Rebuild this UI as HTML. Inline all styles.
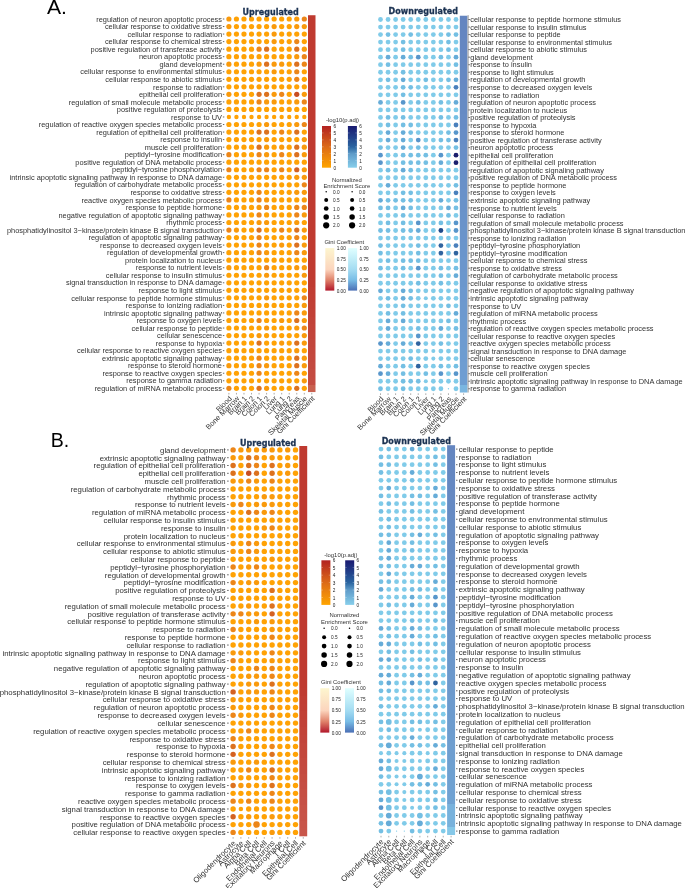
<!DOCTYPE html>
<html><head><meta charset="utf-8"><title>GO enrichment dot plots</title>
<style>
html,body{margin:0;padding:0;background:#fff;}
body{width:685px;height:888px;overflow:hidden;}
svg{display:block;}
</style></head><body>
<svg width="685" height="888" viewBox="0 0 685 888">
<rect width="685" height="888" fill="#fff"/>
<g font-family="Liberation Sans, Arial, Helvetica, sans-serif" fill="#323232">
<defs><linearGradient id="gbA_UP" x1="0" y1="0" x2="0" y2="1"><stop offset="0.00000" stop-color="#bf3a30"/><stop offset="0.02000" stop-color="#bf3a30"/><stop offset="0.02000" stop-color="#bf3a30"/><stop offset="0.04000" stop-color="#bf3a30"/><stop offset="0.04000" stop-color="#bf3a30"/><stop offset="0.06000" stop-color="#bf3a30"/><stop offset="0.06000" stop-color="#bf3a30"/><stop offset="0.08000" stop-color="#bf3a30"/><stop offset="0.08000" stop-color="#bf3a30"/><stop offset="0.10000" stop-color="#bf3a30"/><stop offset="0.10000" stop-color="#bf3a30"/><stop offset="0.12000" stop-color="#bf3a30"/><stop offset="0.12000" stop-color="#bf3a30"/><stop offset="0.14000" stop-color="#bf3a30"/><stop offset="0.14000" stop-color="#bf3a30"/><stop offset="0.16000" stop-color="#bf3a30"/><stop offset="0.16000" stop-color="#bf3a30"/><stop offset="0.18000" stop-color="#bf3a30"/><stop offset="0.18000" stop-color="#bf3a30"/><stop offset="0.20000" stop-color="#bf3a30"/><stop offset="0.20000" stop-color="#bf3a30"/><stop offset="0.22000" stop-color="#bf3a30"/><stop offset="0.22000" stop-color="#bf3a30"/><stop offset="0.24000" stop-color="#bf3a30"/><stop offset="0.24000" stop-color="#bf3a30"/><stop offset="0.26000" stop-color="#bf3a30"/><stop offset="0.26000" stop-color="#bf3a30"/><stop offset="0.28000" stop-color="#bf3a30"/><stop offset="0.28000" stop-color="#bf3a30"/><stop offset="0.30000" stop-color="#bf3a30"/><stop offset="0.30000" stop-color="#bf3a30"/><stop offset="0.32000" stop-color="#bf3a30"/><stop offset="0.32000" stop-color="#bf3a30"/><stop offset="0.34000" stop-color="#bf3a30"/><stop offset="0.34000" stop-color="#bf3a30"/><stop offset="0.36000" stop-color="#bf3a30"/><stop offset="0.36000" stop-color="#bf3a30"/><stop offset="0.38000" stop-color="#bf3a30"/><stop offset="0.38000" stop-color="#bf3a30"/><stop offset="0.40000" stop-color="#bf3a30"/><stop offset="0.40000" stop-color="#bf3a30"/><stop offset="0.42000" stop-color="#bf3a30"/><stop offset="0.42000" stop-color="#bf3a30"/><stop offset="0.44000" stop-color="#bf3a30"/><stop offset="0.44000" stop-color="#bf3a30"/><stop offset="0.46000" stop-color="#bf3a30"/><stop offset="0.46000" stop-color="#bf3a30"/><stop offset="0.48000" stop-color="#bf3a30"/><stop offset="0.48000" stop-color="#bf3a30"/><stop offset="0.50000" stop-color="#bf3a30"/><stop offset="0.50000" stop-color="#bf3a30"/><stop offset="0.52000" stop-color="#bf3a30"/><stop offset="0.52000" stop-color="#bf3a30"/><stop offset="0.54000" stop-color="#bf3a30"/><stop offset="0.54000" stop-color="#bf3a30"/><stop offset="0.56000" stop-color="#bf3a30"/><stop offset="0.56000" stop-color="#bf3a30"/><stop offset="0.58000" stop-color="#bf3a30"/><stop offset="0.58000" stop-color="#bf3a30"/><stop offset="0.60000" stop-color="#bf3a30"/><stop offset="0.60000" stop-color="#bf3a30"/><stop offset="0.62000" stop-color="#bf3a30"/><stop offset="0.62000" stop-color="#bf3a30"/><stop offset="0.64000" stop-color="#bf3a30"/><stop offset="0.64000" stop-color="#bf3a30"/><stop offset="0.66000" stop-color="#bf3a30"/><stop offset="0.66000" stop-color="#bf3a30"/><stop offset="0.68000" stop-color="#bf3a30"/><stop offset="0.68000" stop-color="#bf3a30"/><stop offset="0.70000" stop-color="#bf3a30"/><stop offset="0.70000" stop-color="#bf3b31"/><stop offset="0.72000" stop-color="#bf3b31"/><stop offset="0.72000" stop-color="#c03d33"/><stop offset="0.74000" stop-color="#c03d33"/><stop offset="0.74000" stop-color="#c03e34"/><stop offset="0.76000" stop-color="#c03e34"/><stop offset="0.76000" stop-color="#c03f35"/><stop offset="0.78000" stop-color="#c03f35"/><stop offset="0.78000" stop-color="#c14036"/><stop offset="0.80000" stop-color="#c14036"/><stop offset="0.80000" stop-color="#c14238"/><stop offset="0.82000" stop-color="#c14238"/><stop offset="0.82000" stop-color="#c24339"/><stop offset="0.84000" stop-color="#c24339"/><stop offset="0.84000" stop-color="#c2443a"/><stop offset="0.86000" stop-color="#c2443a"/><stop offset="0.86000" stop-color="#c2463c"/><stop offset="0.88000" stop-color="#c2463c"/><stop offset="0.88000" stop-color="#c3473d"/><stop offset="0.90000" stop-color="#c3473d"/><stop offset="0.90000" stop-color="#c3483e"/><stop offset="0.92000" stop-color="#c3483e"/><stop offset="0.92000" stop-color="#c3493f"/><stop offset="0.94000" stop-color="#c3493f"/><stop offset="0.94000" stop-color="#c44b41"/><stop offset="0.96000" stop-color="#c44b41"/><stop offset="0.96000" stop-color="#c44c42"/><stop offset="0.98000" stop-color="#c44c42"/><stop offset="0.98000" stop-color="#c9604f"/><stop offset="1.00000" stop-color="#c9604f"/></linearGradient></defs>
<rect x="308.00" y="15.23" width="7.50" height="376.85" fill="url(#gbA_UP)"/>
<circle cx="228.90" cy="19.00" r="2.60" fill="#f99a0c"/>
<circle cx="236.44" cy="19.00" r="2.60" fill="#ffa205"/>
<circle cx="243.98" cy="19.00" r="2.60" fill="#ffa205"/>
<circle cx="251.52" cy="19.00" r="2.60" fill="#ffa205"/>
<circle cx="259.06" cy="19.00" r="2.60" fill="#ffa205"/>
<circle cx="266.60" cy="19.00" r="2.60" fill="#ffa205"/>
<circle cx="274.14" cy="19.00" r="2.60" fill="#ffa205"/>
<circle cx="281.68" cy="19.00" r="2.60" fill="#ffa205"/>
<circle cx="289.22" cy="19.00" r="2.60" fill="#ffa205"/>
<circle cx="296.76" cy="19.00" r="2.60" fill="#f99a0c"/>
<circle cx="304.30" cy="19.00" r="2.60" fill="#ec8619"/>
<circle cx="228.90" cy="26.54" r="2.60" fill="#f99a0c"/>
<circle cx="236.44" cy="26.54" r="2.60" fill="#ffa205"/>
<circle cx="243.98" cy="26.54" r="2.60" fill="#ffa205"/>
<circle cx="251.52" cy="26.54" r="2.60" fill="#ffa205"/>
<circle cx="259.06" cy="26.54" r="2.60" fill="#ffa205"/>
<circle cx="266.60" cy="26.54" r="2.60" fill="#ffa205"/>
<circle cx="274.14" cy="26.54" r="2.60" fill="#f99a0c"/>
<circle cx="281.68" cy="26.54" r="2.60" fill="#ffa205"/>
<circle cx="289.22" cy="26.54" r="2.60" fill="#ffa205"/>
<circle cx="296.76" cy="26.54" r="2.60" fill="#f99a0c"/>
<circle cx="304.30" cy="26.54" r="2.60" fill="#f99a0c"/>
<circle cx="228.90" cy="34.07" r="2.60" fill="#ffa205"/>
<circle cx="236.44" cy="34.07" r="2.60" fill="#ffa205"/>
<circle cx="243.98" cy="34.07" r="2.60" fill="#ffa205"/>
<circle cx="251.52" cy="34.07" r="2.60" fill="#ffa205"/>
<circle cx="259.06" cy="34.07" r="2.60" fill="#ffa205"/>
<circle cx="266.60" cy="34.07" r="2.60" fill="#ffa205"/>
<circle cx="274.14" cy="34.07" r="2.60" fill="#f99a0c"/>
<circle cx="281.68" cy="34.07" r="2.60" fill="#ffa205"/>
<circle cx="289.22" cy="34.07" r="2.60" fill="#ffa205"/>
<circle cx="296.76" cy="34.07" r="2.60" fill="#ffa205"/>
<circle cx="304.30" cy="34.07" r="2.60" fill="#ffa205"/>
<circle cx="228.90" cy="41.61" r="2.60" fill="#ffa205"/>
<circle cx="236.44" cy="41.61" r="2.60" fill="#ffa205"/>
<circle cx="243.98" cy="41.61" r="2.60" fill="#ffa205"/>
<circle cx="251.52" cy="41.61" r="2.60" fill="#ffa205"/>
<circle cx="259.06" cy="41.61" r="2.60" fill="#ffa205"/>
<circle cx="266.60" cy="41.61" r="2.60" fill="#ffa205"/>
<circle cx="274.14" cy="41.61" r="2.60" fill="#f99a0c"/>
<circle cx="281.68" cy="41.61" r="2.60" fill="#ffa205"/>
<circle cx="289.22" cy="41.61" r="2.60" fill="#ffa205"/>
<circle cx="296.76" cy="41.61" r="2.60" fill="#ec8619"/>
<circle cx="304.30" cy="41.61" r="2.60" fill="#ffa205"/>
<circle cx="228.90" cy="49.15" r="2.60" fill="#ffa205"/>
<circle cx="236.44" cy="49.15" r="2.60" fill="#ffa205"/>
<circle cx="243.98" cy="49.15" r="2.60" fill="#ffa205"/>
<circle cx="251.52" cy="49.15" r="2.60" fill="#ffa205"/>
<circle cx="259.06" cy="49.15" r="2.60" fill="#ec8619"/>
<circle cx="266.60" cy="49.15" r="2.60" fill="#dc721f"/>
<circle cx="274.14" cy="49.15" r="2.60" fill="#ffa205"/>
<circle cx="281.68" cy="49.15" r="2.60" fill="#ffa205"/>
<circle cx="289.22" cy="49.15" r="2.60" fill="#ffa205"/>
<circle cx="296.76" cy="49.15" r="2.60" fill="#dc721f"/>
<circle cx="304.30" cy="49.15" r="2.60" fill="#f99a0c"/>
<circle cx="228.90" cy="56.69" r="2.60" fill="#ffa205"/>
<circle cx="236.44" cy="56.69" r="2.60" fill="#ffa205"/>
<circle cx="243.98" cy="56.69" r="2.60" fill="#ffa205"/>
<circle cx="251.52" cy="56.69" r="2.60" fill="#ffa205"/>
<circle cx="259.06" cy="56.69" r="2.60" fill="#ffa205"/>
<circle cx="266.60" cy="56.69" r="2.60" fill="#ffa205"/>
<circle cx="274.14" cy="56.69" r="2.60" fill="#ffa205"/>
<circle cx="281.68" cy="56.69" r="2.60" fill="#ffa205"/>
<circle cx="289.22" cy="56.69" r="2.60" fill="#ffa205"/>
<circle cx="296.76" cy="56.69" r="2.60" fill="#f99a0c"/>
<circle cx="304.30" cy="56.69" r="2.60" fill="#ec8619"/>
<circle cx="228.90" cy="64.22" r="2.60" fill="#f99a0c"/>
<circle cx="236.44" cy="64.22" r="2.60" fill="#ffa205"/>
<circle cx="243.98" cy="64.22" r="2.60" fill="#ffa205"/>
<circle cx="251.52" cy="64.22" r="2.60" fill="#ffa205"/>
<circle cx="259.06" cy="64.22" r="2.60" fill="#f99a0c"/>
<circle cx="266.60" cy="64.22" r="2.60" fill="#dc721f"/>
<circle cx="274.14" cy="64.22" r="2.60" fill="#f99a0c"/>
<circle cx="281.68" cy="64.22" r="2.60" fill="#f99a0c"/>
<circle cx="289.22" cy="64.22" r="2.60" fill="#ffa205"/>
<circle cx="296.76" cy="64.22" r="2.60" fill="#dc721f"/>
<circle cx="304.30" cy="64.22" r="2.60" fill="#ec8619"/>
<circle cx="228.90" cy="71.76" r="2.60" fill="#ffa205"/>
<circle cx="236.44" cy="71.76" r="2.60" fill="#ffa205"/>
<circle cx="243.98" cy="71.76" r="2.60" fill="#ffa205"/>
<circle cx="251.52" cy="71.76" r="2.60" fill="#ffa205"/>
<circle cx="259.06" cy="71.76" r="2.60" fill="#ffa205"/>
<circle cx="266.60" cy="71.76" r="2.60" fill="#ffa205"/>
<circle cx="274.14" cy="71.76" r="2.60" fill="#f99a0c"/>
<circle cx="281.68" cy="71.76" r="2.60" fill="#ffa205"/>
<circle cx="289.22" cy="71.76" r="2.60" fill="#ffa205"/>
<circle cx="296.76" cy="71.76" r="2.60" fill="#ec8619"/>
<circle cx="304.30" cy="71.76" r="2.60" fill="#ffa205"/>
<circle cx="228.90" cy="79.30" r="2.60" fill="#ffa205"/>
<circle cx="236.44" cy="79.30" r="2.60" fill="#ffa205"/>
<circle cx="243.98" cy="79.30" r="2.60" fill="#ffa205"/>
<circle cx="251.52" cy="79.30" r="2.60" fill="#ffa205"/>
<circle cx="259.06" cy="79.30" r="2.60" fill="#ffa205"/>
<circle cx="266.60" cy="79.30" r="2.60" fill="#ffa205"/>
<circle cx="274.14" cy="79.30" r="2.60" fill="#ffa205"/>
<circle cx="281.68" cy="79.30" r="2.60" fill="#ffa205"/>
<circle cx="289.22" cy="79.30" r="2.60" fill="#ffa205"/>
<circle cx="296.76" cy="79.30" r="2.60" fill="#ec8619"/>
<circle cx="304.30" cy="79.30" r="2.60" fill="#ffa205"/>
<circle cx="228.90" cy="86.83" r="2.60" fill="#ffa205"/>
<circle cx="236.44" cy="86.83" r="2.60" fill="#ffa205"/>
<circle cx="243.98" cy="86.83" r="2.60" fill="#ffa205"/>
<circle cx="251.52" cy="86.83" r="2.60" fill="#ffa205"/>
<circle cx="259.06" cy="86.83" r="2.60" fill="#ffa205"/>
<circle cx="266.60" cy="86.83" r="2.60" fill="#ffa205"/>
<circle cx="274.14" cy="86.83" r="2.60" fill="#ffa205"/>
<circle cx="281.68" cy="86.83" r="2.60" fill="#ffa205"/>
<circle cx="289.22" cy="86.83" r="2.60" fill="#ffa205"/>
<circle cx="296.76" cy="86.83" r="2.60" fill="#ffa205"/>
<circle cx="304.30" cy="86.83" r="2.60" fill="#ffa205"/>
<circle cx="228.90" cy="94.37" r="2.60" fill="#f99a0c"/>
<circle cx="236.44" cy="94.37" r="2.60" fill="#ffa205"/>
<circle cx="243.98" cy="94.37" r="2.60" fill="#ffa205"/>
<circle cx="251.52" cy="94.37" r="2.60" fill="#ffa205"/>
<circle cx="259.06" cy="94.37" r="2.60" fill="#dc721f"/>
<circle cx="266.60" cy="94.37" r="2.60" fill="#dc721f"/>
<circle cx="274.14" cy="94.37" r="2.60" fill="#f99a0c"/>
<circle cx="281.68" cy="94.37" r="2.60" fill="#ec8619"/>
<circle cx="289.22" cy="94.37" r="2.60" fill="#ffa205"/>
<circle cx="296.76" cy="94.37" r="2.60" fill="#c84e22"/>
<circle cx="304.30" cy="94.37" r="2.60" fill="#f99a0c"/>
<circle cx="228.90" cy="101.91" r="2.60" fill="#ffa205"/>
<circle cx="236.44" cy="101.91" r="2.60" fill="#ffa205"/>
<circle cx="243.98" cy="101.91" r="2.60" fill="#ffa205"/>
<circle cx="251.52" cy="101.91" r="2.60" fill="#ffa205"/>
<circle cx="259.06" cy="101.91" r="2.60" fill="#ec8619"/>
<circle cx="266.60" cy="101.91" r="2.60" fill="#f99a0c"/>
<circle cx="274.14" cy="101.91" r="2.60" fill="#f99a0c"/>
<circle cx="281.68" cy="101.91" r="2.60" fill="#ffa205"/>
<circle cx="289.22" cy="101.91" r="2.60" fill="#ffa205"/>
<circle cx="296.76" cy="101.91" r="2.60" fill="#f99a0c"/>
<circle cx="304.30" cy="101.91" r="2.60" fill="#ec8619"/>
<circle cx="228.90" cy="109.44" r="2.60" fill="#ffa205"/>
<circle cx="236.44" cy="109.44" r="2.60" fill="#ffa205"/>
<circle cx="243.98" cy="109.44" r="2.60" fill="#ffa205"/>
<circle cx="251.52" cy="109.44" r="2.60" fill="#ffa205"/>
<circle cx="259.06" cy="109.44" r="2.60" fill="#ffa205"/>
<circle cx="266.60" cy="109.44" r="2.60" fill="#ffa205"/>
<circle cx="274.14" cy="109.44" r="2.60" fill="#ffa205"/>
<circle cx="281.68" cy="109.44" r="2.60" fill="#ffa205"/>
<circle cx="289.22" cy="109.44" r="2.60" fill="#ffa205"/>
<circle cx="296.76" cy="109.44" r="2.60" fill="#ffa205"/>
<circle cx="304.30" cy="109.44" r="2.60" fill="#ffa205"/>
<circle cx="228.90" cy="116.98" r="2.18" fill="#ffa205"/>
<circle cx="236.44" cy="116.98" r="2.18" fill="#ffa205"/>
<circle cx="243.98" cy="116.98" r="2.18" fill="#ffa205"/>
<circle cx="251.52" cy="116.98" r="2.18" fill="#ffa205"/>
<circle cx="259.06" cy="116.98" r="2.18" fill="#ffa205"/>
<circle cx="266.60" cy="116.98" r="2.18" fill="#ffa205"/>
<circle cx="274.14" cy="116.98" r="2.18" fill="#ffa205"/>
<circle cx="281.68" cy="116.98" r="2.18" fill="#ffa205"/>
<circle cx="289.22" cy="116.98" r="2.18" fill="#ffa205"/>
<circle cx="296.76" cy="116.98" r="2.18" fill="#ffa205"/>
<circle cx="304.30" cy="116.98" r="2.18" fill="#ffa205"/>
<circle cx="228.90" cy="124.52" r="2.60" fill="#ffa205"/>
<circle cx="236.44" cy="124.52" r="2.60" fill="#ffa205"/>
<circle cx="243.98" cy="124.52" r="2.60" fill="#ffa205"/>
<circle cx="251.52" cy="124.52" r="2.60" fill="#ffa205"/>
<circle cx="259.06" cy="124.52" r="2.60" fill="#ffa205"/>
<circle cx="266.60" cy="124.52" r="2.60" fill="#f99a0c"/>
<circle cx="274.14" cy="124.52" r="2.60" fill="#ffa205"/>
<circle cx="281.68" cy="124.52" r="2.60" fill="#ffa205"/>
<circle cx="289.22" cy="124.52" r="2.60" fill="#ffa205"/>
<circle cx="296.76" cy="124.52" r="2.60" fill="#f99a0c"/>
<circle cx="304.30" cy="124.52" r="2.60" fill="#ec8619"/>
<circle cx="228.90" cy="132.06" r="2.60" fill="#ffa205"/>
<circle cx="236.44" cy="132.06" r="2.60" fill="#ffa205"/>
<circle cx="243.98" cy="132.06" r="2.60" fill="#ffa205"/>
<circle cx="251.52" cy="132.06" r="2.60" fill="#ffa205"/>
<circle cx="259.06" cy="132.06" r="2.60" fill="#dc721f"/>
<circle cx="266.60" cy="132.06" r="2.60" fill="#dc721f"/>
<circle cx="274.14" cy="132.06" r="2.60" fill="#ffa205"/>
<circle cx="281.68" cy="132.06" r="2.60" fill="#ec8619"/>
<circle cx="289.22" cy="132.06" r="2.60" fill="#ffa205"/>
<circle cx="296.76" cy="132.06" r="2.60" fill="#dc721f"/>
<circle cx="304.30" cy="132.06" r="2.60" fill="#ffa205"/>
<circle cx="228.90" cy="139.59" r="2.60" fill="#ffa205"/>
<circle cx="236.44" cy="139.59" r="2.60" fill="#ffa205"/>
<circle cx="243.98" cy="139.59" r="2.60" fill="#ffa205"/>
<circle cx="251.52" cy="139.59" r="2.60" fill="#ffa205"/>
<circle cx="259.06" cy="139.59" r="2.60" fill="#ffa205"/>
<circle cx="266.60" cy="139.59" r="2.60" fill="#f99a0c"/>
<circle cx="274.14" cy="139.59" r="2.60" fill="#ffa205"/>
<circle cx="281.68" cy="139.59" r="2.60" fill="#ffa205"/>
<circle cx="289.22" cy="139.59" r="2.60" fill="#ffa205"/>
<circle cx="296.76" cy="139.59" r="2.60" fill="#ffa205"/>
<circle cx="304.30" cy="139.59" r="2.60" fill="#f99a0c"/>
<circle cx="228.90" cy="147.13" r="2.60" fill="#ffa205"/>
<circle cx="236.44" cy="147.13" r="2.60" fill="#ffa205"/>
<circle cx="243.98" cy="147.13" r="2.60" fill="#ffa205"/>
<circle cx="251.52" cy="147.13" r="2.60" fill="#ffa205"/>
<circle cx="259.06" cy="147.13" r="2.60" fill="#dc721f"/>
<circle cx="266.60" cy="147.13" r="2.60" fill="#f99a0c"/>
<circle cx="274.14" cy="147.13" r="2.60" fill="#ffa205"/>
<circle cx="281.68" cy="147.13" r="2.60" fill="#f99a0c"/>
<circle cx="289.22" cy="147.13" r="2.60" fill="#ffa205"/>
<circle cx="296.76" cy="147.13" r="2.60" fill="#dc721f"/>
<circle cx="304.30" cy="147.13" r="2.60" fill="#f99a0c"/>
<circle cx="228.90" cy="154.67" r="2.60" fill="#ec8619"/>
<circle cx="236.44" cy="154.67" r="2.60" fill="#ffa205"/>
<circle cx="243.98" cy="154.67" r="2.60" fill="#ffa205"/>
<circle cx="251.52" cy="154.67" r="2.60" fill="#ffa205"/>
<circle cx="259.06" cy="154.67" r="2.60" fill="#ec8619"/>
<circle cx="266.60" cy="154.67" r="2.60" fill="#f99a0c"/>
<circle cx="274.14" cy="154.67" r="2.60" fill="#ffa205"/>
<circle cx="281.68" cy="154.67" r="2.60" fill="#ec8619"/>
<circle cx="289.22" cy="154.67" r="2.60" fill="#ffa205"/>
<circle cx="296.76" cy="154.67" r="2.60" fill="#dc721f"/>
<circle cx="304.30" cy="154.67" r="2.60" fill="#f99a0c"/>
<circle cx="228.90" cy="162.20" r="2.60" fill="#ffa205"/>
<circle cx="236.44" cy="162.20" r="2.60" fill="#ffa205"/>
<circle cx="243.98" cy="162.20" r="2.60" fill="#ffa205"/>
<circle cx="251.52" cy="162.20" r="2.60" fill="#ffa205"/>
<circle cx="259.06" cy="162.20" r="2.60" fill="#ffa205"/>
<circle cx="266.60" cy="162.20" r="2.60" fill="#ffa205"/>
<circle cx="274.14" cy="162.20" r="2.60" fill="#ffa205"/>
<circle cx="281.68" cy="162.20" r="2.60" fill="#ffa205"/>
<circle cx="289.22" cy="162.20" r="2.60" fill="#ffa205"/>
<circle cx="296.76" cy="162.20" r="2.60" fill="#ffa205"/>
<circle cx="304.30" cy="162.20" r="2.60" fill="#ffa205"/>
<circle cx="228.90" cy="169.74" r="2.60" fill="#ec8619"/>
<circle cx="236.44" cy="169.74" r="2.60" fill="#ffa205"/>
<circle cx="243.98" cy="169.74" r="2.60" fill="#ffa205"/>
<circle cx="251.52" cy="169.74" r="2.60" fill="#ffa205"/>
<circle cx="259.06" cy="169.74" r="2.60" fill="#ec8619"/>
<circle cx="266.60" cy="169.74" r="2.60" fill="#ec8619"/>
<circle cx="274.14" cy="169.74" r="2.60" fill="#ffa205"/>
<circle cx="281.68" cy="169.74" r="2.60" fill="#ec8619"/>
<circle cx="289.22" cy="169.74" r="2.60" fill="#ffa205"/>
<circle cx="296.76" cy="169.74" r="2.60" fill="#d46222"/>
<circle cx="304.30" cy="169.74" r="2.60" fill="#f99a0c"/>
<circle cx="228.90" cy="177.28" r="2.60" fill="#ffa205"/>
<circle cx="236.44" cy="177.28" r="2.60" fill="#ffa205"/>
<circle cx="243.98" cy="177.28" r="2.60" fill="#ffa205"/>
<circle cx="251.52" cy="177.28" r="2.60" fill="#ffa205"/>
<circle cx="259.06" cy="177.28" r="2.60" fill="#ffa205"/>
<circle cx="266.60" cy="177.28" r="2.60" fill="#ffa205"/>
<circle cx="274.14" cy="177.28" r="2.60" fill="#ffa205"/>
<circle cx="281.68" cy="177.28" r="2.60" fill="#ffa205"/>
<circle cx="289.22" cy="177.28" r="2.60" fill="#ffa205"/>
<circle cx="296.76" cy="177.28" r="2.60" fill="#f99a0c"/>
<circle cx="304.30" cy="177.28" r="2.60" fill="#f99a0c"/>
<circle cx="228.90" cy="184.81" r="2.60" fill="#ffa205"/>
<circle cx="236.44" cy="184.81" r="2.60" fill="#ffa205"/>
<circle cx="243.98" cy="184.81" r="2.60" fill="#ffa205"/>
<circle cx="251.52" cy="184.81" r="2.60" fill="#ffa205"/>
<circle cx="259.06" cy="184.81" r="2.60" fill="#ffa205"/>
<circle cx="266.60" cy="184.81" r="2.60" fill="#ffa205"/>
<circle cx="274.14" cy="184.81" r="2.60" fill="#ffa205"/>
<circle cx="281.68" cy="184.81" r="2.60" fill="#ffa205"/>
<circle cx="289.22" cy="184.81" r="2.60" fill="#ffa205"/>
<circle cx="296.76" cy="184.81" r="2.60" fill="#ffa205"/>
<circle cx="304.30" cy="184.81" r="2.60" fill="#ec8619"/>
<circle cx="228.90" cy="192.35" r="2.60" fill="#ffa205"/>
<circle cx="236.44" cy="192.35" r="2.60" fill="#ffa205"/>
<circle cx="243.98" cy="192.35" r="2.60" fill="#ffa205"/>
<circle cx="251.52" cy="192.35" r="2.60" fill="#ffa205"/>
<circle cx="259.06" cy="192.35" r="2.60" fill="#ec8619"/>
<circle cx="266.60" cy="192.35" r="2.60" fill="#ffa205"/>
<circle cx="274.14" cy="192.35" r="2.60" fill="#ffa205"/>
<circle cx="281.68" cy="192.35" r="2.60" fill="#ffa205"/>
<circle cx="289.22" cy="192.35" r="2.60" fill="#ffa205"/>
<circle cx="296.76" cy="192.35" r="2.60" fill="#f99a0c"/>
<circle cx="304.30" cy="192.35" r="2.60" fill="#f99a0c"/>
<circle cx="228.90" cy="199.89" r="2.60" fill="#ec8619"/>
<circle cx="236.44" cy="199.89" r="2.60" fill="#ffa205"/>
<circle cx="243.98" cy="199.89" r="2.60" fill="#ffa205"/>
<circle cx="251.52" cy="199.89" r="2.60" fill="#ffa205"/>
<circle cx="259.06" cy="199.89" r="2.60" fill="#ec8619"/>
<circle cx="266.60" cy="199.89" r="2.60" fill="#f99a0c"/>
<circle cx="274.14" cy="199.89" r="2.60" fill="#ffa205"/>
<circle cx="281.68" cy="199.89" r="2.60" fill="#ffa205"/>
<circle cx="289.22" cy="199.89" r="2.60" fill="#ffa205"/>
<circle cx="296.76" cy="199.89" r="2.60" fill="#ffa205"/>
<circle cx="304.30" cy="199.89" r="2.60" fill="#f99a0c"/>
<circle cx="228.90" cy="207.43" r="2.60" fill="#ffa205"/>
<circle cx="236.44" cy="207.43" r="2.60" fill="#ffa205"/>
<circle cx="243.98" cy="207.43" r="2.60" fill="#ffa205"/>
<circle cx="251.52" cy="207.43" r="2.60" fill="#ffa205"/>
<circle cx="259.06" cy="207.43" r="2.60" fill="#f99a0c"/>
<circle cx="266.60" cy="207.43" r="2.60" fill="#ec8619"/>
<circle cx="274.14" cy="207.43" r="2.60" fill="#ffa205"/>
<circle cx="281.68" cy="207.43" r="2.60" fill="#ffa205"/>
<circle cx="289.22" cy="207.43" r="2.60" fill="#ffa205"/>
<circle cx="296.76" cy="207.43" r="2.60" fill="#ec8619"/>
<circle cx="304.30" cy="207.43" r="2.60" fill="#ec8619"/>
<circle cx="228.90" cy="214.96" r="2.60" fill="#ffa205"/>
<circle cx="236.44" cy="214.96" r="2.60" fill="#ffa205"/>
<circle cx="243.98" cy="214.96" r="2.60" fill="#ffa205"/>
<circle cx="251.52" cy="214.96" r="2.60" fill="#ffa205"/>
<circle cx="259.06" cy="214.96" r="2.60" fill="#ec8619"/>
<circle cx="266.60" cy="214.96" r="2.60" fill="#ffa205"/>
<circle cx="274.14" cy="214.96" r="2.60" fill="#ffa205"/>
<circle cx="281.68" cy="214.96" r="2.60" fill="#ffa205"/>
<circle cx="289.22" cy="214.96" r="2.60" fill="#ffa205"/>
<circle cx="296.76" cy="214.96" r="2.60" fill="#ec8619"/>
<circle cx="304.30" cy="214.96" r="2.60" fill="#f99a0c"/>
<circle cx="228.90" cy="222.50" r="2.60" fill="#ffa205"/>
<circle cx="236.44" cy="222.50" r="2.60" fill="#ffa205"/>
<circle cx="243.98" cy="222.50" r="2.60" fill="#ffa205"/>
<circle cx="251.52" cy="222.50" r="2.60" fill="#ffa205"/>
<circle cx="259.06" cy="222.50" r="2.60" fill="#f99a0c"/>
<circle cx="266.60" cy="222.50" r="2.60" fill="#f99a0c"/>
<circle cx="274.14" cy="222.50" r="2.60" fill="#ffa205"/>
<circle cx="281.68" cy="222.50" r="2.60" fill="#ffa205"/>
<circle cx="289.22" cy="222.50" r="2.60" fill="#ffa205"/>
<circle cx="296.76" cy="222.50" r="2.60" fill="#f99a0c"/>
<circle cx="304.30" cy="222.50" r="2.60" fill="#ffa205"/>
<circle cx="228.90" cy="230.04" r="2.60" fill="#ec8619"/>
<circle cx="236.44" cy="230.04" r="2.60" fill="#f99a0c"/>
<circle cx="243.98" cy="230.04" r="2.60" fill="#ffa205"/>
<circle cx="251.52" cy="230.04" r="2.60" fill="#ffa205"/>
<circle cx="259.06" cy="230.04" r="2.60" fill="#dc721f"/>
<circle cx="266.60" cy="230.04" r="2.60" fill="#ffa205"/>
<circle cx="274.14" cy="230.04" r="2.60" fill="#ffa205"/>
<circle cx="281.68" cy="230.04" r="2.60" fill="#ec8619"/>
<circle cx="289.22" cy="230.04" r="2.60" fill="#ffa205"/>
<circle cx="296.76" cy="230.04" r="2.60" fill="#dc721f"/>
<circle cx="304.30" cy="230.04" r="2.60" fill="#f99a0c"/>
<circle cx="228.90" cy="237.57" r="2.60" fill="#ffa205"/>
<circle cx="236.44" cy="237.57" r="2.60" fill="#ffa205"/>
<circle cx="243.98" cy="237.57" r="2.60" fill="#ffa205"/>
<circle cx="251.52" cy="237.57" r="2.60" fill="#ffa205"/>
<circle cx="259.06" cy="237.57" r="2.60" fill="#ec8619"/>
<circle cx="266.60" cy="237.57" r="2.60" fill="#ffa205"/>
<circle cx="274.14" cy="237.57" r="2.60" fill="#ffa205"/>
<circle cx="281.68" cy="237.57" r="2.60" fill="#ffa205"/>
<circle cx="289.22" cy="237.57" r="2.60" fill="#ffa205"/>
<circle cx="296.76" cy="237.57" r="2.60" fill="#ec8619"/>
<circle cx="304.30" cy="237.57" r="2.60" fill="#ffa205"/>
<circle cx="228.90" cy="245.11" r="2.60" fill="#ffa205"/>
<circle cx="236.44" cy="245.11" r="2.60" fill="#ffa205"/>
<circle cx="243.98" cy="245.11" r="2.60" fill="#ffa205"/>
<circle cx="251.52" cy="245.11" r="2.60" fill="#ffa205"/>
<circle cx="259.06" cy="245.11" r="2.60" fill="#ec8619"/>
<circle cx="266.60" cy="245.11" r="2.60" fill="#ffa205"/>
<circle cx="274.14" cy="245.11" r="2.60" fill="#ffa205"/>
<circle cx="281.68" cy="245.11" r="2.60" fill="#f99a0c"/>
<circle cx="289.22" cy="245.11" r="2.60" fill="#ffa205"/>
<circle cx="296.76" cy="245.11" r="2.60" fill="#dc721f"/>
<circle cx="304.30" cy="245.11" r="2.60" fill="#f99a0c"/>
<circle cx="228.90" cy="252.65" r="2.60" fill="#ffa205"/>
<circle cx="236.44" cy="252.65" r="2.60" fill="#ffa205"/>
<circle cx="243.98" cy="252.65" r="2.60" fill="#ffa205"/>
<circle cx="251.52" cy="252.65" r="2.60" fill="#ffa205"/>
<circle cx="259.06" cy="252.65" r="2.60" fill="#ec8619"/>
<circle cx="266.60" cy="252.65" r="2.60" fill="#f99a0c"/>
<circle cx="274.14" cy="252.65" r="2.60" fill="#ffa205"/>
<circle cx="281.68" cy="252.65" r="2.60" fill="#ffa205"/>
<circle cx="289.22" cy="252.65" r="2.60" fill="#ffa205"/>
<circle cx="296.76" cy="252.65" r="2.60" fill="#ec8619"/>
<circle cx="304.30" cy="252.65" r="2.60" fill="#f99a0c"/>
<circle cx="228.90" cy="260.18" r="2.60" fill="#ffa205"/>
<circle cx="236.44" cy="260.18" r="2.60" fill="#ffa205"/>
<circle cx="243.98" cy="260.18" r="2.60" fill="#ffa205"/>
<circle cx="251.52" cy="260.18" r="2.60" fill="#ffa205"/>
<circle cx="259.06" cy="260.18" r="2.60" fill="#ffa205"/>
<circle cx="266.60" cy="260.18" r="2.60" fill="#ffa205"/>
<circle cx="274.14" cy="260.18" r="2.60" fill="#ffa205"/>
<circle cx="281.68" cy="260.18" r="2.60" fill="#ffa205"/>
<circle cx="289.22" cy="260.18" r="2.60" fill="#ffa205"/>
<circle cx="296.76" cy="260.18" r="2.60" fill="#ffa205"/>
<circle cx="304.30" cy="260.18" r="2.60" fill="#ffa205"/>
<circle cx="228.90" cy="267.72" r="2.60" fill="#f99a0c"/>
<circle cx="236.44" cy="267.72" r="2.60" fill="#ffa205"/>
<circle cx="243.98" cy="267.72" r="2.60" fill="#ffa205"/>
<circle cx="251.52" cy="267.72" r="2.60" fill="#ffa205"/>
<circle cx="259.06" cy="267.72" r="2.60" fill="#ffa205"/>
<circle cx="266.60" cy="267.72" r="2.60" fill="#ec8619"/>
<circle cx="274.14" cy="267.72" r="2.60" fill="#ffa205"/>
<circle cx="281.68" cy="267.72" r="2.60" fill="#ffa205"/>
<circle cx="289.22" cy="267.72" r="2.60" fill="#ffa205"/>
<circle cx="296.76" cy="267.72" r="2.60" fill="#f99a0c"/>
<circle cx="304.30" cy="267.72" r="2.60" fill="#f99a0c"/>
<circle cx="228.90" cy="275.26" r="2.60" fill="#ffa205"/>
<circle cx="236.44" cy="275.26" r="2.60" fill="#ffa205"/>
<circle cx="243.98" cy="275.26" r="2.60" fill="#ffa205"/>
<circle cx="251.52" cy="275.26" r="2.60" fill="#ffa205"/>
<circle cx="259.06" cy="275.26" r="2.60" fill="#ffa205"/>
<circle cx="266.60" cy="275.26" r="2.60" fill="#f99a0c"/>
<circle cx="274.14" cy="275.26" r="2.60" fill="#ffa205"/>
<circle cx="281.68" cy="275.26" r="2.60" fill="#ffa205"/>
<circle cx="289.22" cy="275.26" r="2.60" fill="#ffa205"/>
<circle cx="296.76" cy="275.26" r="2.60" fill="#ffa205"/>
<circle cx="304.30" cy="275.26" r="2.60" fill="#f99a0c"/>
<circle cx="228.90" cy="282.80" r="2.60" fill="#ffa205"/>
<circle cx="236.44" cy="282.80" r="2.60" fill="#ffa205"/>
<circle cx="243.98" cy="282.80" r="2.60" fill="#ffa205"/>
<circle cx="251.52" cy="282.80" r="2.60" fill="#ffa205"/>
<circle cx="259.06" cy="282.80" r="2.60" fill="#ffa205"/>
<circle cx="266.60" cy="282.80" r="2.60" fill="#ffa205"/>
<circle cx="274.14" cy="282.80" r="2.60" fill="#ffa205"/>
<circle cx="281.68" cy="282.80" r="2.60" fill="#ffa205"/>
<circle cx="289.22" cy="282.80" r="2.60" fill="#ffa205"/>
<circle cx="296.76" cy="282.80" r="2.60" fill="#ffa205"/>
<circle cx="304.30" cy="282.80" r="2.60" fill="#ffa205"/>
<circle cx="228.90" cy="290.33" r="2.60" fill="#ffa205"/>
<circle cx="236.44" cy="290.33" r="2.60" fill="#ffa205"/>
<circle cx="243.98" cy="290.33" r="2.60" fill="#ffa205"/>
<circle cx="251.52" cy="290.33" r="2.60" fill="#ffa205"/>
<circle cx="259.06" cy="290.33" r="2.60" fill="#ffa205"/>
<circle cx="266.60" cy="290.33" r="2.60" fill="#ffa205"/>
<circle cx="274.14" cy="290.33" r="2.60" fill="#ffa205"/>
<circle cx="281.68" cy="290.33" r="2.60" fill="#ffa205"/>
<circle cx="289.22" cy="290.33" r="2.60" fill="#ffa205"/>
<circle cx="296.76" cy="290.33" r="2.60" fill="#ffa205"/>
<circle cx="304.30" cy="290.33" r="2.60" fill="#ffa205"/>
<circle cx="228.90" cy="297.87" r="2.60" fill="#ffa205"/>
<circle cx="236.44" cy="297.87" r="2.60" fill="#ffa205"/>
<circle cx="243.98" cy="297.87" r="2.60" fill="#ffa205"/>
<circle cx="251.52" cy="297.87" r="2.60" fill="#ffa205"/>
<circle cx="259.06" cy="297.87" r="2.60" fill="#ffa205"/>
<circle cx="266.60" cy="297.87" r="2.60" fill="#f99a0c"/>
<circle cx="274.14" cy="297.87" r="2.60" fill="#ffa205"/>
<circle cx="281.68" cy="297.87" r="2.60" fill="#ffa205"/>
<circle cx="289.22" cy="297.87" r="2.60" fill="#ffa205"/>
<circle cx="296.76" cy="297.87" r="2.60" fill="#ffa205"/>
<circle cx="304.30" cy="297.87" r="2.60" fill="#ec8619"/>
<circle cx="228.90" cy="305.41" r="2.60" fill="#ffa205"/>
<circle cx="236.44" cy="305.41" r="2.60" fill="#ffa205"/>
<circle cx="243.98" cy="305.41" r="2.60" fill="#ffa205"/>
<circle cx="251.52" cy="305.41" r="2.60" fill="#ffa205"/>
<circle cx="259.06" cy="305.41" r="2.60" fill="#ffa205"/>
<circle cx="266.60" cy="305.41" r="2.60" fill="#ffa205"/>
<circle cx="274.14" cy="305.41" r="2.60" fill="#ffa205"/>
<circle cx="281.68" cy="305.41" r="2.60" fill="#ffa205"/>
<circle cx="289.22" cy="305.41" r="2.60" fill="#ffa205"/>
<circle cx="296.76" cy="305.41" r="2.60" fill="#ffa205"/>
<circle cx="304.30" cy="305.41" r="2.60" fill="#f99a0c"/>
<circle cx="228.90" cy="312.94" r="2.60" fill="#ffa205"/>
<circle cx="236.44" cy="312.94" r="2.60" fill="#ffa205"/>
<circle cx="243.98" cy="312.94" r="2.60" fill="#ffa205"/>
<circle cx="251.52" cy="312.94" r="2.60" fill="#ffa205"/>
<circle cx="259.06" cy="312.94" r="2.60" fill="#ffa205"/>
<circle cx="266.60" cy="312.94" r="2.60" fill="#ffa205"/>
<circle cx="274.14" cy="312.94" r="2.60" fill="#ffa205"/>
<circle cx="281.68" cy="312.94" r="2.60" fill="#ffa205"/>
<circle cx="289.22" cy="312.94" r="2.60" fill="#ffa205"/>
<circle cx="296.76" cy="312.94" r="2.60" fill="#ec8619"/>
<circle cx="304.30" cy="312.94" r="2.60" fill="#f99a0c"/>
<circle cx="228.90" cy="320.48" r="2.60" fill="#ffa205"/>
<circle cx="236.44" cy="320.48" r="2.60" fill="#ffa205"/>
<circle cx="243.98" cy="320.48" r="2.60" fill="#ffa205"/>
<circle cx="251.52" cy="320.48" r="2.60" fill="#ffa205"/>
<circle cx="259.06" cy="320.48" r="2.60" fill="#ec8619"/>
<circle cx="266.60" cy="320.48" r="2.60" fill="#ffa205"/>
<circle cx="274.14" cy="320.48" r="2.60" fill="#ffa205"/>
<circle cx="281.68" cy="320.48" r="2.60" fill="#f99a0c"/>
<circle cx="289.22" cy="320.48" r="2.60" fill="#ffa205"/>
<circle cx="296.76" cy="320.48" r="2.60" fill="#dc721f"/>
<circle cx="304.30" cy="320.48" r="2.60" fill="#f99a0c"/>
<circle cx="228.90" cy="328.02" r="2.60" fill="#ffa205"/>
<circle cx="236.44" cy="328.02" r="2.60" fill="#ffa205"/>
<circle cx="243.98" cy="328.02" r="2.60" fill="#ffa205"/>
<circle cx="251.52" cy="328.02" r="2.60" fill="#ffa205"/>
<circle cx="259.06" cy="328.02" r="2.60" fill="#ffa205"/>
<circle cx="266.60" cy="328.02" r="2.60" fill="#f99a0c"/>
<circle cx="274.14" cy="328.02" r="2.60" fill="#ffa205"/>
<circle cx="281.68" cy="328.02" r="2.60" fill="#ffa205"/>
<circle cx="289.22" cy="328.02" r="2.60" fill="#ffa205"/>
<circle cx="296.76" cy="328.02" r="2.60" fill="#f99a0c"/>
<circle cx="304.30" cy="328.02" r="2.60" fill="#ec8619"/>
<circle cx="228.90" cy="335.55" r="2.60" fill="#ffa205"/>
<circle cx="236.44" cy="335.55" r="2.60" fill="#ffa205"/>
<circle cx="243.98" cy="335.55" r="2.60" fill="#ffa205"/>
<circle cx="251.52" cy="335.55" r="2.60" fill="#ffa205"/>
<circle cx="259.06" cy="335.55" r="2.60" fill="#f99a0c"/>
<circle cx="266.60" cy="335.55" r="2.60" fill="#ffa205"/>
<circle cx="274.14" cy="335.55" r="2.60" fill="#ffa205"/>
<circle cx="281.68" cy="335.55" r="2.60" fill="#ffa205"/>
<circle cx="289.22" cy="335.55" r="2.60" fill="#ffa205"/>
<circle cx="296.76" cy="335.55" r="2.60" fill="#ffa205"/>
<circle cx="304.30" cy="335.55" r="2.60" fill="#f99a0c"/>
<circle cx="228.90" cy="343.09" r="2.60" fill="#ffa205"/>
<circle cx="236.44" cy="343.09" r="2.60" fill="#ffa205"/>
<circle cx="243.98" cy="343.09" r="2.60" fill="#ffa205"/>
<circle cx="251.52" cy="343.09" r="2.60" fill="#ffa205"/>
<circle cx="259.06" cy="343.09" r="2.60" fill="#dc721f"/>
<circle cx="266.60" cy="343.09" r="2.60" fill="#ffa205"/>
<circle cx="274.14" cy="343.09" r="2.60" fill="#ffa205"/>
<circle cx="281.68" cy="343.09" r="2.60" fill="#f99a0c"/>
<circle cx="289.22" cy="343.09" r="2.60" fill="#ffa205"/>
<circle cx="296.76" cy="343.09" r="2.60" fill="#dc721f"/>
<circle cx="304.30" cy="343.09" r="2.60" fill="#f99a0c"/>
<circle cx="228.90" cy="350.63" r="2.60" fill="#ffa205"/>
<circle cx="236.44" cy="350.63" r="2.60" fill="#ffa205"/>
<circle cx="243.98" cy="350.63" r="2.60" fill="#ffa205"/>
<circle cx="251.52" cy="350.63" r="2.60" fill="#ffa205"/>
<circle cx="259.06" cy="350.63" r="2.60" fill="#ffa205"/>
<circle cx="266.60" cy="350.63" r="2.60" fill="#ffa205"/>
<circle cx="274.14" cy="350.63" r="2.60" fill="#ffa205"/>
<circle cx="281.68" cy="350.63" r="2.60" fill="#ffa205"/>
<circle cx="289.22" cy="350.63" r="2.60" fill="#ffa205"/>
<circle cx="296.76" cy="350.63" r="2.60" fill="#f99a0c"/>
<circle cx="304.30" cy="350.63" r="2.60" fill="#ffa205"/>
<circle cx="228.90" cy="358.17" r="2.60" fill="#ffa205"/>
<circle cx="236.44" cy="358.17" r="2.60" fill="#ffa205"/>
<circle cx="243.98" cy="358.17" r="2.60" fill="#ffa205"/>
<circle cx="251.52" cy="358.17" r="2.60" fill="#ffa205"/>
<circle cx="259.06" cy="358.17" r="2.60" fill="#ec8619"/>
<circle cx="266.60" cy="358.17" r="2.60" fill="#ffa205"/>
<circle cx="274.14" cy="358.17" r="2.60" fill="#ffa205"/>
<circle cx="281.68" cy="358.17" r="2.60" fill="#ffa205"/>
<circle cx="289.22" cy="358.17" r="2.60" fill="#ffa205"/>
<circle cx="296.76" cy="358.17" r="2.60" fill="#dc721f"/>
<circle cx="304.30" cy="358.17" r="2.60" fill="#f99a0c"/>
<circle cx="228.90" cy="365.70" r="2.60" fill="#f99a0c"/>
<circle cx="236.44" cy="365.70" r="2.60" fill="#ffa205"/>
<circle cx="243.98" cy="365.70" r="2.60" fill="#ffa205"/>
<circle cx="251.52" cy="365.70" r="2.60" fill="#ffa205"/>
<circle cx="259.06" cy="365.70" r="2.60" fill="#ec8619"/>
<circle cx="266.60" cy="365.70" r="2.60" fill="#f99a0c"/>
<circle cx="274.14" cy="365.70" r="2.60" fill="#ffa205"/>
<circle cx="281.68" cy="365.70" r="2.60" fill="#ffa205"/>
<circle cx="289.22" cy="365.70" r="2.60" fill="#ffa205"/>
<circle cx="296.76" cy="365.70" r="2.60" fill="#dc721f"/>
<circle cx="304.30" cy="365.70" r="2.60" fill="#f99a0c"/>
<circle cx="228.90" cy="373.24" r="2.60" fill="#ffa205"/>
<circle cx="236.44" cy="373.24" r="2.60" fill="#ffa205"/>
<circle cx="243.98" cy="373.24" r="2.60" fill="#ffa205"/>
<circle cx="251.52" cy="373.24" r="2.60" fill="#ffa205"/>
<circle cx="259.06" cy="373.24" r="2.60" fill="#ec8619"/>
<circle cx="266.60" cy="373.24" r="2.60" fill="#ffa205"/>
<circle cx="274.14" cy="373.24" r="2.60" fill="#ffa205"/>
<circle cx="281.68" cy="373.24" r="2.60" fill="#ffa205"/>
<circle cx="289.22" cy="373.24" r="2.60" fill="#ffa205"/>
<circle cx="296.76" cy="373.24" r="2.60" fill="#ec8619"/>
<circle cx="304.30" cy="373.24" r="2.60" fill="#ffa205"/>
<circle cx="228.90" cy="380.78" r="2.60" fill="#ffa205"/>
<circle cx="236.44" cy="380.78" r="2.60" fill="#ffa205"/>
<circle cx="243.98" cy="380.78" r="2.60" fill="#ffa205"/>
<circle cx="251.52" cy="380.78" r="2.60" fill="#ffa205"/>
<circle cx="259.06" cy="380.78" r="2.18" fill="#ffa205"/>
<circle cx="266.60" cy="380.78" r="2.60" fill="#ffa205"/>
<circle cx="274.14" cy="380.78" r="2.60" fill="#ffa205"/>
<circle cx="281.68" cy="380.78" r="2.60" fill="#ffa205"/>
<circle cx="289.22" cy="380.78" r="2.60" fill="#ffa205"/>
<circle cx="296.76" cy="380.78" r="2.60" fill="#ffa205"/>
<circle cx="304.30" cy="380.78" r="2.60" fill="#f99a0c"/>
<circle cx="228.90" cy="388.31" r="2.60" fill="#ec8619"/>
<circle cx="236.44" cy="388.31" r="2.60" fill="#ffa205"/>
<circle cx="243.98" cy="388.31" r="2.60" fill="#ffa205"/>
<circle cx="251.52" cy="388.31" r="2.60" fill="#ffa205"/>
<circle cx="259.06" cy="388.31" r="2.60" fill="#dc721f"/>
<circle cx="266.60" cy="388.31" r="2.60" fill="#f99a0c"/>
<circle cx="274.14" cy="388.31" r="2.60" fill="#ffa205"/>
<circle cx="281.68" cy="388.31" r="2.60" fill="#ffa205"/>
<circle cx="289.22" cy="388.31" r="2.60" fill="#ffa205"/>
<circle cx="296.76" cy="388.31" r="2.60" fill="#dc721f"/>
<circle cx="304.30" cy="388.31" r="2.60" fill="#ffa205"/>
<line x1="222.90" y1="19.00" x2="224.30" y2="19.00" stroke="#333" stroke-width="0.75"/>
<text x="222.00" y="21.66" text-anchor="end" font-size="7.4">regulation of neuron apoptotic process</text>
<line x1="222.90" y1="26.54" x2="224.30" y2="26.54" stroke="#333" stroke-width="0.75"/>
<text x="222.00" y="29.20" text-anchor="end" font-size="7.4">cellular response to oxidative stress</text>
<line x1="222.90" y1="34.07" x2="224.30" y2="34.07" stroke="#333" stroke-width="0.75"/>
<text x="222.00" y="36.74" text-anchor="end" font-size="7.4">cellular response to radiation</text>
<line x1="222.90" y1="41.61" x2="224.30" y2="41.61" stroke="#333" stroke-width="0.75"/>
<text x="222.00" y="44.28" text-anchor="end" font-size="7.4">cellular response to chemical stress</text>
<line x1="222.90" y1="49.15" x2="224.30" y2="49.15" stroke="#333" stroke-width="0.75"/>
<text x="222.00" y="51.81" text-anchor="end" font-size="7.4">positive regulation of transferase activity</text>
<line x1="222.90" y1="56.69" x2="224.30" y2="56.69" stroke="#333" stroke-width="0.75"/>
<text x="222.00" y="59.35" text-anchor="end" font-size="7.4">neuron apoptotic process</text>
<line x1="222.90" y1="64.22" x2="224.30" y2="64.22" stroke="#333" stroke-width="0.75"/>
<text x="222.00" y="66.89" text-anchor="end" font-size="7.4">gland development</text>
<line x1="222.90" y1="71.76" x2="224.30" y2="71.76" stroke="#333" stroke-width="0.75"/>
<text x="222.00" y="74.42" text-anchor="end" font-size="7.4">cellular response to environmental stimulus</text>
<line x1="222.90" y1="79.30" x2="224.30" y2="79.30" stroke="#333" stroke-width="0.75"/>
<text x="222.00" y="81.96" text-anchor="end" font-size="7.4">cellular response to abiotic stimulus</text>
<line x1="222.90" y1="86.83" x2="224.30" y2="86.83" stroke="#333" stroke-width="0.75"/>
<text x="222.00" y="89.50" text-anchor="end" font-size="7.4">response to radiation</text>
<line x1="222.90" y1="94.37" x2="224.30" y2="94.37" stroke="#333" stroke-width="0.75"/>
<text x="222.00" y="97.03" text-anchor="end" font-size="7.4">epithelial cell proliferation</text>
<line x1="222.90" y1="101.91" x2="224.30" y2="101.91" stroke="#333" stroke-width="0.75"/>
<text x="222.00" y="104.57" text-anchor="end" font-size="7.4">regulation of small molecule metabolic process</text>
<line x1="222.90" y1="109.44" x2="224.30" y2="109.44" stroke="#333" stroke-width="0.75"/>
<text x="222.00" y="112.11" text-anchor="end" font-size="7.4">positive regulation of proteolysis</text>
<line x1="222.90" y1="116.98" x2="224.30" y2="116.98" stroke="#333" stroke-width="0.75"/>
<text x="222.00" y="119.64" text-anchor="end" font-size="7.4">response to UV</text>
<line x1="222.90" y1="124.52" x2="224.30" y2="124.52" stroke="#333" stroke-width="0.75"/>
<text x="222.00" y="127.18" text-anchor="end" font-size="7.4">regulation of reactive oxygen species metabolic process</text>
<line x1="222.90" y1="132.06" x2="224.30" y2="132.06" stroke="#333" stroke-width="0.75"/>
<text x="222.00" y="134.72" text-anchor="end" font-size="7.4">regulation of epithelial cell proliferation</text>
<line x1="222.90" y1="139.59" x2="224.30" y2="139.59" stroke="#333" stroke-width="0.75"/>
<text x="222.00" y="142.26" text-anchor="end" font-size="7.4">response to insulin</text>
<line x1="222.90" y1="147.13" x2="224.30" y2="147.13" stroke="#333" stroke-width="0.75"/>
<text x="222.00" y="149.79" text-anchor="end" font-size="7.4">muscle cell proliferation</text>
<line x1="222.90" y1="154.67" x2="224.30" y2="154.67" stroke="#333" stroke-width="0.75"/>
<text x="222.00" y="157.33" text-anchor="end" font-size="7.4">peptidyl−tyrosine modification</text>
<line x1="222.90" y1="162.20" x2="224.30" y2="162.20" stroke="#333" stroke-width="0.75"/>
<text x="222.00" y="164.87" text-anchor="end" font-size="7.4">positive regulation of DNA metabolic process</text>
<line x1="222.90" y1="169.74" x2="224.30" y2="169.74" stroke="#333" stroke-width="0.75"/>
<text x="222.00" y="172.40" text-anchor="end" font-size="7.4">peptidyl−tyrosine phosphorylation</text>
<line x1="222.90" y1="177.28" x2="224.30" y2="177.28" stroke="#333" stroke-width="0.75"/>
<text x="222.00" y="179.94" text-anchor="end" font-size="7.4">intrinsic apoptotic signaling pathway in response to DNA damage</text>
<line x1="222.90" y1="184.81" x2="224.30" y2="184.81" stroke="#333" stroke-width="0.75"/>
<text x="222.00" y="187.48" text-anchor="end" font-size="7.4">regulation of carbohydrate metabolic process</text>
<line x1="222.90" y1="192.35" x2="224.30" y2="192.35" stroke="#333" stroke-width="0.75"/>
<text x="222.00" y="195.01" text-anchor="end" font-size="7.4">response to oxidative stress</text>
<line x1="222.90" y1="199.89" x2="224.30" y2="199.89" stroke="#333" stroke-width="0.75"/>
<text x="222.00" y="202.55" text-anchor="end" font-size="7.4">reactive oxygen species metabolic process</text>
<line x1="222.90" y1="207.43" x2="224.30" y2="207.43" stroke="#333" stroke-width="0.75"/>
<text x="222.00" y="210.09" text-anchor="end" font-size="7.4">response to peptide hormone</text>
<line x1="222.90" y1="214.96" x2="224.30" y2="214.96" stroke="#333" stroke-width="0.75"/>
<text x="222.00" y="217.63" text-anchor="end" font-size="7.4">negative regulation of apoptotic signaling pathway</text>
<line x1="222.90" y1="222.50" x2="224.30" y2="222.50" stroke="#333" stroke-width="0.75"/>
<text x="222.00" y="225.16" text-anchor="end" font-size="7.4">rhythmic process</text>
<line x1="222.90" y1="230.04" x2="224.30" y2="230.04" stroke="#333" stroke-width="0.75"/>
<text x="222.00" y="232.70" text-anchor="end" font-size="7.4">phosphatidylinositol 3−kinase/protein kinase B signal transduction</text>
<line x1="222.90" y1="237.57" x2="224.30" y2="237.57" stroke="#333" stroke-width="0.75"/>
<text x="222.00" y="240.24" text-anchor="end" font-size="7.4">regulation of apoptotic signaling pathway</text>
<line x1="222.90" y1="245.11" x2="224.30" y2="245.11" stroke="#333" stroke-width="0.75"/>
<text x="222.00" y="247.77" text-anchor="end" font-size="7.4">response to decreased oxygen levels</text>
<line x1="222.90" y1="252.65" x2="224.30" y2="252.65" stroke="#333" stroke-width="0.75"/>
<text x="222.00" y="255.31" text-anchor="end" font-size="7.4">regulation of developmental growth</text>
<line x1="222.90" y1="260.18" x2="224.30" y2="260.18" stroke="#333" stroke-width="0.75"/>
<text x="222.00" y="262.85" text-anchor="end" font-size="7.4">protein localization to nucleus</text>
<line x1="222.90" y1="267.72" x2="224.30" y2="267.72" stroke="#333" stroke-width="0.75"/>
<text x="222.00" y="270.38" text-anchor="end" font-size="7.4">response to nutrient levels</text>
<line x1="222.90" y1="275.26" x2="224.30" y2="275.26" stroke="#333" stroke-width="0.75"/>
<text x="222.00" y="277.92" text-anchor="end" font-size="7.4">cellular response to insulin stimulus</text>
<line x1="222.90" y1="282.80" x2="224.30" y2="282.80" stroke="#333" stroke-width="0.75"/>
<text x="222.00" y="285.46" text-anchor="end" font-size="7.4">signal transduction in response to DNA damage</text>
<line x1="222.90" y1="290.33" x2="224.30" y2="290.33" stroke="#333" stroke-width="0.75"/>
<text x="222.00" y="293.00" text-anchor="end" font-size="7.4">response to light stimulus</text>
<line x1="222.90" y1="297.87" x2="224.30" y2="297.87" stroke="#333" stroke-width="0.75"/>
<text x="222.00" y="300.53" text-anchor="end" font-size="7.4">cellular response to peptide hormone stimulus</text>
<line x1="222.90" y1="305.41" x2="224.30" y2="305.41" stroke="#333" stroke-width="0.75"/>
<text x="222.00" y="308.07" text-anchor="end" font-size="7.4">response to ionizing radiation</text>
<line x1="222.90" y1="312.94" x2="224.30" y2="312.94" stroke="#333" stroke-width="0.75"/>
<text x="222.00" y="315.61" text-anchor="end" font-size="7.4">intrinsic apoptotic signaling pathway</text>
<line x1="222.90" y1="320.48" x2="224.30" y2="320.48" stroke="#333" stroke-width="0.75"/>
<text x="222.00" y="323.14" text-anchor="end" font-size="7.4">response to oxygen levels</text>
<line x1="222.90" y1="328.02" x2="224.30" y2="328.02" stroke="#333" stroke-width="0.75"/>
<text x="222.00" y="330.68" text-anchor="end" font-size="7.4">cellular response to peptide</text>
<line x1="222.90" y1="335.55" x2="224.30" y2="335.55" stroke="#333" stroke-width="0.75"/>
<text x="222.00" y="338.22" text-anchor="end" font-size="7.4">cellular senescence</text>
<line x1="222.90" y1="343.09" x2="224.30" y2="343.09" stroke="#333" stroke-width="0.75"/>
<text x="222.00" y="345.75" text-anchor="end" font-size="7.4">response to hypoxia</text>
<line x1="222.90" y1="350.63" x2="224.30" y2="350.63" stroke="#333" stroke-width="0.75"/>
<text x="222.00" y="353.29" text-anchor="end" font-size="7.4">cellular response to reactive oxygen species</text>
<line x1="222.90" y1="358.17" x2="224.30" y2="358.17" stroke="#333" stroke-width="0.75"/>
<text x="222.00" y="360.83" text-anchor="end" font-size="7.4">extrinsic apoptotic signaling pathway</text>
<line x1="222.90" y1="365.70" x2="224.30" y2="365.70" stroke="#333" stroke-width="0.75"/>
<text x="222.00" y="368.37" text-anchor="end" font-size="7.4">response to steroid hormone</text>
<line x1="222.90" y1="373.24" x2="224.30" y2="373.24" stroke="#333" stroke-width="0.75"/>
<text x="222.00" y="375.90" text-anchor="end" font-size="7.4">response to reactive oxygen species</text>
<line x1="222.90" y1="380.78" x2="224.30" y2="380.78" stroke="#333" stroke-width="0.75"/>
<text x="222.00" y="383.44" text-anchor="end" font-size="7.4">response to gamma radiation</text>
<line x1="222.90" y1="388.31" x2="224.30" y2="388.31" stroke="#333" stroke-width="0.75"/>
<text x="222.00" y="390.98" text-anchor="end" font-size="7.4">regulation of miRNA metabolic process</text>
<line x1="228.90" y1="392.88" x2="228.90" y2="394.48" stroke="#555" stroke-width="0.5"/>
<text transform="translate(232.30,398.98) rotate(-45)" text-anchor="end" font-size="7.4">Blood</text>
<line x1="236.44" y1="392.88" x2="236.44" y2="394.48" stroke="#555" stroke-width="0.5"/>
<text transform="translate(239.84,398.98) rotate(-45)" text-anchor="end" font-size="7.4">Bone Marrow</text>
<line x1="243.98" y1="392.88" x2="243.98" y2="394.48" stroke="#555" stroke-width="0.5"/>
<text transform="translate(247.38,398.98) rotate(-45)" text-anchor="end" font-size="7.4">Brain 1</text>
<line x1="251.52" y1="392.88" x2="251.52" y2="394.48" stroke="#555" stroke-width="0.5"/>
<text transform="translate(254.92,398.98) rotate(-45)" text-anchor="end" font-size="7.4">Brain 2</text>
<line x1="259.06" y1="392.88" x2="259.06" y2="394.48" stroke="#555" stroke-width="0.5"/>
<text transform="translate(262.46,398.98) rotate(-45)" text-anchor="end" font-size="7.4">Colon 1</text>
<line x1="266.60" y1="392.88" x2="266.60" y2="394.48" stroke="#555" stroke-width="0.5"/>
<text transform="translate(270.00,398.98) rotate(-45)" text-anchor="end" font-size="7.4">Colon 2</text>
<line x1="274.14" y1="392.88" x2="274.14" y2="394.48" stroke="#555" stroke-width="0.5"/>
<text transform="translate(277.54,398.98) rotate(-45)" text-anchor="end" font-size="7.4">Liver</text>
<line x1="281.68" y1="392.88" x2="281.68" y2="394.48" stroke="#555" stroke-width="0.5"/>
<text transform="translate(285.08,398.98) rotate(-45)" text-anchor="end" font-size="7.4">Lung 1</text>
<line x1="289.22" y1="392.88" x2="289.22" y2="394.48" stroke="#555" stroke-width="0.5"/>
<text transform="translate(292.62,398.98) rotate(-45)" text-anchor="end" font-size="7.4">Lung 2</text>
<line x1="296.76" y1="392.88" x2="296.76" y2="394.48" stroke="#555" stroke-width="0.5"/>
<text transform="translate(300.16,398.98) rotate(-45)" text-anchor="end" font-size="7.4">Pancreas</text>
<line x1="304.30" y1="392.88" x2="304.30" y2="394.48" stroke="#555" stroke-width="0.5"/>
<text transform="translate(307.70,398.98) rotate(-45)" text-anchor="end" font-size="7.4">Skeletal Muscle</text>
<line x1="311.75" y1="392.88" x2="311.75" y2="394.48" stroke="#555" stroke-width="0.5"/>
<text transform="translate(315.15,398.98) rotate(-45)" text-anchor="end" font-size="7.4">Gini Coefficient</text>
<text x="242.60" y="14.90" font-family="'DejaVu Sans', sans-serif" font-weight="bold" fill="#1b3252" stroke="#1b3252" stroke-width="0.3" font-size="8.2" textLength="56.20" lengthAdjust="spacingAndGlyphs">Upregulated</text>
<defs><linearGradient id="gbA_DN" x1="0" y1="0" x2="0" y2="1"><stop offset="0.00000" stop-color="#6485c0"/><stop offset="0.02000" stop-color="#6485c0"/><stop offset="0.02000" stop-color="#6486c0"/><stop offset="0.04000" stop-color="#6486c0"/><stop offset="0.04000" stop-color="#6486c1"/><stop offset="0.06000" stop-color="#6486c1"/><stop offset="0.06000" stop-color="#6587c1"/><stop offset="0.08000" stop-color="#6587c1"/><stop offset="0.08000" stop-color="#6587c2"/><stop offset="0.10000" stop-color="#6587c2"/><stop offset="0.10000" stop-color="#6588c2"/><stop offset="0.12000" stop-color="#6588c2"/><stop offset="0.12000" stop-color="#6588c2"/><stop offset="0.14000" stop-color="#6588c2"/><stop offset="0.14000" stop-color="#6589c3"/><stop offset="0.16000" stop-color="#6589c3"/><stop offset="0.16000" stop-color="#6689c3"/><stop offset="0.18000" stop-color="#6689c3"/><stop offset="0.18000" stop-color="#668ac3"/><stop offset="0.20000" stop-color="#668ac3"/><stop offset="0.20000" stop-color="#668ac4"/><stop offset="0.22000" stop-color="#668ac4"/><stop offset="0.22000" stop-color="#668bc4"/><stop offset="0.24000" stop-color="#668bc4"/><stop offset="0.24000" stop-color="#668bc4"/><stop offset="0.26000" stop-color="#668bc4"/><stop offset="0.26000" stop-color="#678cc5"/><stop offset="0.28000" stop-color="#678cc5"/><stop offset="0.28000" stop-color="#678cc5"/><stop offset="0.30000" stop-color="#678cc5"/><stop offset="0.30000" stop-color="#678dc6"/><stop offset="0.32000" stop-color="#678dc6"/><stop offset="0.32000" stop-color="#678dc6"/><stop offset="0.34000" stop-color="#678dc6"/><stop offset="0.34000" stop-color="#688ec6"/><stop offset="0.36000" stop-color="#688ec6"/><stop offset="0.36000" stop-color="#688ec7"/><stop offset="0.38000" stop-color="#688ec7"/><stop offset="0.38000" stop-color="#688fc7"/><stop offset="0.40000" stop-color="#688fc7"/><stop offset="0.40000" stop-color="#688fc8"/><stop offset="0.42000" stop-color="#688fc8"/><stop offset="0.42000" stop-color="#6890c8"/><stop offset="0.44000" stop-color="#6890c8"/><stop offset="0.44000" stop-color="#6990c8"/><stop offset="0.46000" stop-color="#6990c8"/><stop offset="0.46000" stop-color="#6991c9"/><stop offset="0.48000" stop-color="#6991c9"/><stop offset="0.48000" stop-color="#6992c9"/><stop offset="0.50000" stop-color="#6992c9"/><stop offset="0.50000" stop-color="#6992c9"/><stop offset="0.52000" stop-color="#6992c9"/><stop offset="0.52000" stop-color="#6993ca"/><stop offset="0.54000" stop-color="#6993ca"/><stop offset="0.54000" stop-color="#6a93ca"/><stop offset="0.56000" stop-color="#6a93ca"/><stop offset="0.56000" stop-color="#6a94ca"/><stop offset="0.58000" stop-color="#6a94ca"/><stop offset="0.58000" stop-color="#6a94cb"/><stop offset="0.60000" stop-color="#6a94cb"/><stop offset="0.60000" stop-color="#6a95cb"/><stop offset="0.62000" stop-color="#6a95cb"/><stop offset="0.62000" stop-color="#6a95cc"/><stop offset="0.64000" stop-color="#6a95cc"/><stop offset="0.64000" stop-color="#6b96cc"/><stop offset="0.66000" stop-color="#6b96cc"/><stop offset="0.66000" stop-color="#6b96cc"/><stop offset="0.68000" stop-color="#6b96cc"/><stop offset="0.68000" stop-color="#6b97cd"/><stop offset="0.70000" stop-color="#6b97cd"/><stop offset="0.70000" stop-color="#6b97cd"/><stop offset="0.72000" stop-color="#6b97cd"/><stop offset="0.72000" stop-color="#6c98ce"/><stop offset="0.74000" stop-color="#6c98ce"/><stop offset="0.74000" stop-color="#6c98ce"/><stop offset="0.76000" stop-color="#6c98ce"/><stop offset="0.76000" stop-color="#6c99ce"/><stop offset="0.78000" stop-color="#6c99ce"/><stop offset="0.78000" stop-color="#6c99cf"/><stop offset="0.80000" stop-color="#6c99cf"/><stop offset="0.80000" stop-color="#6c9acf"/><stop offset="0.82000" stop-color="#6c9acf"/><stop offset="0.82000" stop-color="#6d9acf"/><stop offset="0.84000" stop-color="#6d9acf"/><stop offset="0.84000" stop-color="#6d9bd0"/><stop offset="0.86000" stop-color="#6d9bd0"/><stop offset="0.86000" stop-color="#6d9bd0"/><stop offset="0.88000" stop-color="#6d9bd0"/><stop offset="0.88000" stop-color="#6d9cd0"/><stop offset="0.90000" stop-color="#6d9cd0"/><stop offset="0.90000" stop-color="#6d9cd1"/><stop offset="0.92000" stop-color="#6d9cd1"/><stop offset="0.92000" stop-color="#6e9dd1"/><stop offset="0.94000" stop-color="#6e9dd1"/><stop offset="0.94000" stop-color="#6e9dd2"/><stop offset="0.96000" stop-color="#6e9dd2"/><stop offset="0.96000" stop-color="#6e9ed2"/><stop offset="0.98000" stop-color="#6e9ed2"/><stop offset="0.98000" stop-color="#7ab6e0"/><stop offset="1.00000" stop-color="#7ab6e0"/></linearGradient></defs>
<rect x="459.80" y="15.73" width="7.60" height="376.80" fill="url(#gbA_DN)"/>
<circle cx="380.50" cy="19.50" r="2.40" fill="#80cbe9"/>
<circle cx="388.05" cy="19.50" r="2.40" fill="#80cbe9"/>
<circle cx="395.60" cy="19.50" r="2.40" fill="#80cbe9"/>
<circle cx="403.15" cy="19.50" r="2.40" fill="#80cbe9"/>
<circle cx="410.70" cy="19.50" r="2.40" fill="#80cbe9"/>
<circle cx="418.25" cy="19.50" r="2.40" fill="#80cbe9"/>
<circle cx="425.80" cy="19.50" r="2.40" fill="#80cbe9"/>
<circle cx="433.35" cy="19.50" r="2.40" fill="#80cbe9"/>
<circle cx="440.90" cy="19.50" r="2.40" fill="#80cbe9"/>
<circle cx="448.45" cy="19.50" r="2.40" fill="#80cbe9"/>
<circle cx="456.00" cy="19.50" r="2.40" fill="#80cbe9"/>
<circle cx="380.50" cy="27.04" r="2.40" fill="#80cbe9"/>
<circle cx="388.05" cy="27.04" r="2.40" fill="#80cbe9"/>
<circle cx="395.60" cy="27.04" r="2.40" fill="#80cbe9"/>
<circle cx="403.15" cy="27.04" r="2.40" fill="#80cbe9"/>
<circle cx="410.70" cy="27.04" r="2.40" fill="#80cbe9"/>
<circle cx="418.25" cy="27.04" r="2.40" fill="#80cbe9"/>
<circle cx="425.80" cy="27.04" r="2.40" fill="#80cbe9"/>
<circle cx="433.35" cy="27.04" r="2.40" fill="#80cbe9"/>
<circle cx="440.90" cy="27.04" r="2.40" fill="#80cbe9"/>
<circle cx="448.45" cy="27.04" r="2.40" fill="#80cbe9"/>
<circle cx="456.00" cy="27.04" r="2.40" fill="#80cbe9"/>
<circle cx="380.50" cy="34.57" r="2.40" fill="#80cbe9"/>
<circle cx="388.05" cy="34.57" r="2.40" fill="#74bfe3"/>
<circle cx="395.60" cy="34.57" r="2.40" fill="#80cbe9"/>
<circle cx="403.15" cy="34.57" r="2.40" fill="#80cbe9"/>
<circle cx="410.70" cy="34.57" r="2.40" fill="#74bfe3"/>
<circle cx="418.25" cy="34.57" r="2.40" fill="#80cbe9"/>
<circle cx="425.80" cy="34.57" r="2.40" fill="#80cbe9"/>
<circle cx="433.35" cy="34.57" r="2.40" fill="#80cbe9"/>
<circle cx="440.90" cy="34.57" r="2.40" fill="#80cbe9"/>
<circle cx="448.45" cy="34.57" r="2.40" fill="#74bfe3"/>
<circle cx="456.00" cy="34.57" r="2.40" fill="#74bfe3"/>
<circle cx="380.50" cy="42.11" r="2.40" fill="#80cbe9"/>
<circle cx="388.05" cy="42.11" r="2.40" fill="#80cbe9"/>
<circle cx="395.60" cy="42.11" r="2.40" fill="#80cbe9"/>
<circle cx="403.15" cy="42.11" r="2.40" fill="#74bfe3"/>
<circle cx="410.70" cy="42.11" r="2.40" fill="#80cbe9"/>
<circle cx="418.25" cy="42.11" r="2.40" fill="#80cbe9"/>
<circle cx="425.80" cy="42.11" r="2.40" fill="#80cbe9"/>
<circle cx="433.35" cy="42.11" r="2.40" fill="#80cbe9"/>
<circle cx="440.90" cy="42.11" r="2.40" fill="#80cbe9"/>
<circle cx="448.45" cy="42.11" r="2.40" fill="#74bfe3"/>
<circle cx="456.00" cy="42.11" r="2.40" fill="#80cbe9"/>
<circle cx="380.50" cy="49.64" r="2.40" fill="#80cbe9"/>
<circle cx="388.05" cy="49.64" r="2.40" fill="#80cbe9"/>
<circle cx="395.60" cy="49.64" r="2.40" fill="#80cbe9"/>
<circle cx="403.15" cy="49.64" r="2.40" fill="#74bfe3"/>
<circle cx="410.70" cy="49.64" r="2.40" fill="#80cbe9"/>
<circle cx="418.25" cy="49.64" r="2.40" fill="#80cbe9"/>
<circle cx="425.80" cy="49.64" r="2.40" fill="#80cbe9"/>
<circle cx="433.35" cy="49.64" r="2.40" fill="#80cbe9"/>
<circle cx="440.90" cy="49.64" r="2.40" fill="#80cbe9"/>
<circle cx="448.45" cy="49.64" r="2.40" fill="#74bfe3"/>
<circle cx="456.00" cy="49.64" r="2.40" fill="#80cbe9"/>
<circle cx="380.50" cy="57.18" r="2.40" fill="#80cbe9"/>
<circle cx="388.05" cy="57.18" r="2.40" fill="#66acd8"/>
<circle cx="395.60" cy="57.18" r="2.40" fill="#80cbe9"/>
<circle cx="403.15" cy="57.18" r="2.40" fill="#66acd8"/>
<circle cx="410.70" cy="57.18" r="2.40" fill="#74bfe3"/>
<circle cx="418.25" cy="57.18" r="2.40" fill="#5896cb"/>
<circle cx="425.80" cy="57.18" r="2.40" fill="#80cbe9"/>
<circle cx="433.35" cy="57.18" r="2.40" fill="#80cbe9"/>
<circle cx="440.90" cy="57.18" r="2.40" fill="#74bfe3"/>
<circle cx="448.45" cy="57.18" r="2.40" fill="#80cbe9"/>
<circle cx="456.00" cy="57.18" r="2.40" fill="#66acd8"/>
<circle cx="380.50" cy="64.72" r="2.40" fill="#80cbe9"/>
<circle cx="388.05" cy="64.72" r="2.40" fill="#74bfe3"/>
<circle cx="395.60" cy="64.72" r="2.40" fill="#80cbe9"/>
<circle cx="403.15" cy="64.72" r="2.40" fill="#80cbe9"/>
<circle cx="410.70" cy="64.72" r="2.40" fill="#80cbe9"/>
<circle cx="418.25" cy="64.72" r="2.40" fill="#80cbe9"/>
<circle cx="425.80" cy="64.72" r="2.40" fill="#80cbe9"/>
<circle cx="433.35" cy="64.72" r="2.40" fill="#80cbe9"/>
<circle cx="440.90" cy="64.72" r="2.40" fill="#80cbe9"/>
<circle cx="448.45" cy="64.72" r="2.40" fill="#80cbe9"/>
<circle cx="456.00" cy="64.72" r="2.40" fill="#74bfe3"/>
<circle cx="380.50" cy="72.25" r="2.40" fill="#80cbe9"/>
<circle cx="388.05" cy="72.25" r="2.40" fill="#80cbe9"/>
<circle cx="395.60" cy="72.25" r="2.40" fill="#80cbe9"/>
<circle cx="403.15" cy="72.25" r="2.40" fill="#74bfe3"/>
<circle cx="410.70" cy="72.25" r="2.40" fill="#80cbe9"/>
<circle cx="418.25" cy="72.25" r="2.40" fill="#80cbe9"/>
<circle cx="425.80" cy="72.25" r="2.40" fill="#80cbe9"/>
<circle cx="433.35" cy="72.25" r="2.40" fill="#80cbe9"/>
<circle cx="440.90" cy="72.25" r="2.40" fill="#80cbe9"/>
<circle cx="448.45" cy="72.25" r="2.40" fill="#80cbe9"/>
<circle cx="456.00" cy="72.25" r="2.40" fill="#80cbe9"/>
<circle cx="380.50" cy="79.79" r="2.40" fill="#80cbe9"/>
<circle cx="388.05" cy="79.79" r="2.40" fill="#74bfe3"/>
<circle cx="395.60" cy="79.79" r="2.40" fill="#80cbe9"/>
<circle cx="403.15" cy="79.79" r="2.40" fill="#66acd8"/>
<circle cx="410.70" cy="79.79" r="2.40" fill="#80cbe9"/>
<circle cx="418.25" cy="79.79" r="2.40" fill="#80cbe9"/>
<circle cx="425.80" cy="79.79" r="2.40" fill="#74bfe3"/>
<circle cx="433.35" cy="79.79" r="2.40" fill="#80cbe9"/>
<circle cx="440.90" cy="79.79" r="2.40" fill="#80cbe9"/>
<circle cx="448.45" cy="79.79" r="2.40" fill="#74bfe3"/>
<circle cx="456.00" cy="79.79" r="2.40" fill="#66acd8"/>
<circle cx="380.50" cy="87.32" r="2.40" fill="#80cbe9"/>
<circle cx="388.05" cy="87.32" r="2.40" fill="#80cbe9"/>
<circle cx="395.60" cy="87.32" r="2.40" fill="#80cbe9"/>
<circle cx="403.15" cy="87.32" r="2.40" fill="#74bfe3"/>
<circle cx="410.70" cy="87.32" r="2.40" fill="#74bfe3"/>
<circle cx="418.25" cy="87.32" r="2.40" fill="#80cbe9"/>
<circle cx="425.80" cy="87.32" r="2.40" fill="#80cbe9"/>
<circle cx="433.35" cy="87.32" r="2.40" fill="#80cbe9"/>
<circle cx="440.90" cy="87.32" r="2.40" fill="#80cbe9"/>
<circle cx="448.45" cy="87.32" r="2.40" fill="#80cbe9"/>
<circle cx="456.00" cy="87.32" r="2.40" fill="#4a80bc"/>
<circle cx="380.50" cy="94.86" r="2.40" fill="#80cbe9"/>
<circle cx="388.05" cy="94.86" r="2.40" fill="#80cbe9"/>
<circle cx="395.60" cy="94.86" r="2.40" fill="#80cbe9"/>
<circle cx="403.15" cy="94.86" r="2.40" fill="#74bfe3"/>
<circle cx="410.70" cy="94.86" r="2.40" fill="#80cbe9"/>
<circle cx="418.25" cy="94.86" r="2.40" fill="#80cbe9"/>
<circle cx="425.80" cy="94.86" r="2.40" fill="#80cbe9"/>
<circle cx="433.35" cy="94.86" r="2.40" fill="#80cbe9"/>
<circle cx="440.90" cy="94.86" r="2.40" fill="#80cbe9"/>
<circle cx="448.45" cy="94.86" r="2.40" fill="#80cbe9"/>
<circle cx="456.00" cy="94.86" r="2.40" fill="#80cbe9"/>
<circle cx="380.50" cy="102.40" r="2.40" fill="#66acd8"/>
<circle cx="388.05" cy="102.40" r="2.40" fill="#80cbe9"/>
<circle cx="395.60" cy="102.40" r="2.40" fill="#80cbe9"/>
<circle cx="403.15" cy="102.40" r="2.40" fill="#5896cb"/>
<circle cx="410.70" cy="102.40" r="2.40" fill="#80cbe9"/>
<circle cx="418.25" cy="102.40" r="2.40" fill="#74bfe3"/>
<circle cx="425.80" cy="102.40" r="2.40" fill="#80cbe9"/>
<circle cx="433.35" cy="102.40" r="2.40" fill="#80cbe9"/>
<circle cx="440.90" cy="102.40" r="2.40" fill="#74bfe3"/>
<circle cx="448.45" cy="102.40" r="2.40" fill="#80cbe9"/>
<circle cx="456.00" cy="102.40" r="2.40" fill="#66acd8"/>
<circle cx="380.50" cy="109.93" r="2.40" fill="#80cbe9"/>
<circle cx="388.05" cy="109.93" r="2.40" fill="#80cbe9"/>
<circle cx="395.60" cy="109.93" r="2.40" fill="#80cbe9"/>
<circle cx="403.15" cy="109.93" r="2.40" fill="#80cbe9"/>
<circle cx="410.70" cy="109.93" r="2.40" fill="#80cbe9"/>
<circle cx="418.25" cy="109.93" r="2.40" fill="#80cbe9"/>
<circle cx="425.80" cy="109.93" r="2.40" fill="#80cbe9"/>
<circle cx="433.35" cy="109.93" r="2.40" fill="#80cbe9"/>
<circle cx="440.90" cy="109.93" r="2.40" fill="#80cbe9"/>
<circle cx="448.45" cy="109.93" r="2.40" fill="#80cbe9"/>
<circle cx="456.00" cy="109.93" r="2.40" fill="#80cbe9"/>
<circle cx="380.50" cy="117.47" r="2.40" fill="#80cbe9"/>
<circle cx="388.05" cy="117.47" r="2.40" fill="#74bfe3"/>
<circle cx="395.60" cy="117.47" r="2.40" fill="#80cbe9"/>
<circle cx="403.15" cy="117.47" r="2.40" fill="#74bfe3"/>
<circle cx="410.70" cy="117.47" r="2.40" fill="#80cbe9"/>
<circle cx="418.25" cy="117.47" r="2.40" fill="#80cbe9"/>
<circle cx="425.80" cy="117.47" r="2.40" fill="#80cbe9"/>
<circle cx="433.35" cy="117.47" r="2.40" fill="#80cbe9"/>
<circle cx="440.90" cy="117.47" r="2.40" fill="#74bfe3"/>
<circle cx="448.45" cy="117.47" r="2.40" fill="#80cbe9"/>
<circle cx="456.00" cy="117.47" r="2.40" fill="#74bfe3"/>
<circle cx="380.50" cy="125.00" r="2.40" fill="#80cbe9"/>
<circle cx="388.05" cy="125.00" r="2.40" fill="#74bfe3"/>
<circle cx="395.60" cy="125.00" r="2.40" fill="#80cbe9"/>
<circle cx="403.15" cy="125.00" r="2.40" fill="#74bfe3"/>
<circle cx="410.70" cy="125.00" r="2.40" fill="#74bfe3"/>
<circle cx="418.25" cy="125.00" r="2.40" fill="#80cbe9"/>
<circle cx="425.80" cy="125.00" r="2.40" fill="#80cbe9"/>
<circle cx="433.35" cy="125.00" r="2.40" fill="#80cbe9"/>
<circle cx="440.90" cy="125.00" r="2.40" fill="#80cbe9"/>
<circle cx="448.45" cy="125.00" r="2.40" fill="#80cbe9"/>
<circle cx="456.00" cy="125.00" r="2.40" fill="#4a80bc"/>
<circle cx="380.50" cy="132.54" r="2.40" fill="#80cbe9"/>
<circle cx="388.05" cy="132.54" r="2.40" fill="#66acd8"/>
<circle cx="395.60" cy="132.54" r="2.40" fill="#80cbe9"/>
<circle cx="403.15" cy="132.54" r="2.40" fill="#66acd8"/>
<circle cx="410.70" cy="132.54" r="2.40" fill="#74bfe3"/>
<circle cx="418.25" cy="132.54" r="2.40" fill="#80cbe9"/>
<circle cx="425.80" cy="132.54" r="2.40" fill="#80cbe9"/>
<circle cx="433.35" cy="132.54" r="2.40" fill="#80cbe9"/>
<circle cx="440.90" cy="132.54" r="2.40" fill="#80cbe9"/>
<circle cx="448.45" cy="132.54" r="2.40" fill="#74bfe3"/>
<circle cx="456.00" cy="132.54" r="2.40" fill="#5896cb"/>
<circle cx="380.50" cy="140.08" r="2.40" fill="#80cbe9"/>
<circle cx="388.05" cy="140.08" r="2.40" fill="#66acd8"/>
<circle cx="395.60" cy="140.08" r="2.40" fill="#80cbe9"/>
<circle cx="403.15" cy="140.08" r="2.40" fill="#66acd8"/>
<circle cx="410.70" cy="140.08" r="2.40" fill="#80cbe9"/>
<circle cx="418.25" cy="140.08" r="2.40" fill="#5896cb"/>
<circle cx="425.80" cy="140.08" r="2.40" fill="#80cbe9"/>
<circle cx="433.35" cy="140.08" r="2.40" fill="#80cbe9"/>
<circle cx="440.90" cy="140.08" r="2.40" fill="#74bfe3"/>
<circle cx="448.45" cy="140.08" r="2.40" fill="#74bfe3"/>
<circle cx="456.00" cy="140.08" r="2.40" fill="#4a80bc"/>
<circle cx="380.50" cy="147.61" r="2.40" fill="#74bfe3"/>
<circle cx="388.05" cy="147.61" r="2.40" fill="#80cbe9"/>
<circle cx="395.60" cy="147.61" r="2.40" fill="#80cbe9"/>
<circle cx="403.15" cy="147.61" r="2.40" fill="#66acd8"/>
<circle cx="410.70" cy="147.61" r="2.40" fill="#80cbe9"/>
<circle cx="418.25" cy="147.61" r="2.40" fill="#74bfe3"/>
<circle cx="425.80" cy="147.61" r="2.40" fill="#80cbe9"/>
<circle cx="433.35" cy="147.61" r="2.40" fill="#80cbe9"/>
<circle cx="440.90" cy="147.61" r="2.40" fill="#80cbe9"/>
<circle cx="448.45" cy="147.61" r="2.40" fill="#80cbe9"/>
<circle cx="456.00" cy="147.61" r="2.40" fill="#74bfe3"/>
<circle cx="380.50" cy="155.15" r="2.40" fill="#5896cb"/>
<circle cx="388.05" cy="155.15" r="2.40" fill="#80cbe9"/>
<circle cx="395.60" cy="155.15" r="2.40" fill="#80cbe9"/>
<circle cx="403.15" cy="155.15" r="2.40" fill="#74bfe3"/>
<circle cx="410.70" cy="155.15" r="2.40" fill="#74bfe3"/>
<circle cx="418.25" cy="155.15" r="2.40" fill="#74bfe3"/>
<circle cx="425.80" cy="155.15" r="2.40" fill="#74bfe3"/>
<circle cx="433.35" cy="155.15" r="2.40" fill="#80cbe9"/>
<circle cx="440.90" cy="155.15" r="2.40" fill="#5896cb"/>
<circle cx="448.45" cy="155.15" r="2.40" fill="#80cbe9"/>
<circle cx="456.00" cy="155.15" r="2.40" fill="#1b1f6e"/>
<circle cx="380.50" cy="162.68" r="2.40" fill="#5896cb"/>
<circle cx="388.05" cy="162.68" r="2.40" fill="#80cbe9"/>
<circle cx="395.60" cy="162.68" r="2.40" fill="#80cbe9"/>
<circle cx="403.15" cy="162.68" r="2.40" fill="#74bfe3"/>
<circle cx="410.70" cy="162.68" r="2.40" fill="#74bfe3"/>
<circle cx="418.25" cy="162.68" r="2.40" fill="#74bfe3"/>
<circle cx="425.80" cy="162.68" r="2.40" fill="#74bfe3"/>
<circle cx="433.35" cy="162.68" r="2.40" fill="#80cbe9"/>
<circle cx="440.90" cy="162.68" r="2.40" fill="#66acd8"/>
<circle cx="448.45" cy="162.68" r="2.40" fill="#80cbe9"/>
<circle cx="456.00" cy="162.68" r="2.40" fill="#1b1f6e"/>
<circle cx="380.50" cy="170.22" r="2.40" fill="#80cbe9"/>
<circle cx="388.05" cy="170.22" r="2.40" fill="#74bfe3"/>
<circle cx="395.60" cy="170.22" r="2.40" fill="#80cbe9"/>
<circle cx="403.15" cy="170.22" r="2.40" fill="#66acd8"/>
<circle cx="410.70" cy="170.22" r="2.40" fill="#74bfe3"/>
<circle cx="418.25" cy="170.22" r="2.40" fill="#80cbe9"/>
<circle cx="425.80" cy="170.22" r="2.40" fill="#80cbe9"/>
<circle cx="433.35" cy="170.22" r="2.40" fill="#80cbe9"/>
<circle cx="440.90" cy="170.22" r="2.40" fill="#80cbe9"/>
<circle cx="448.45" cy="170.22" r="2.40" fill="#80cbe9"/>
<circle cx="456.00" cy="170.22" r="2.40" fill="#80cbe9"/>
<circle cx="380.50" cy="177.76" r="2.40" fill="#80cbe9"/>
<circle cx="388.05" cy="177.76" r="2.40" fill="#80cbe9"/>
<circle cx="395.60" cy="177.76" r="2.40" fill="#80cbe9"/>
<circle cx="403.15" cy="177.76" r="2.40" fill="#80cbe9"/>
<circle cx="410.70" cy="177.76" r="2.40" fill="#80cbe9"/>
<circle cx="418.25" cy="177.76" r="2.40" fill="#80cbe9"/>
<circle cx="425.80" cy="177.76" r="2.40" fill="#80cbe9"/>
<circle cx="433.35" cy="177.76" r="2.40" fill="#80cbe9"/>
<circle cx="440.90" cy="177.76" r="2.40" fill="#80cbe9"/>
<circle cx="448.45" cy="177.76" r="2.40" fill="#80cbe9"/>
<circle cx="456.00" cy="177.76" r="2.40" fill="#80cbe9"/>
<circle cx="380.50" cy="185.29" r="2.40" fill="#80cbe9"/>
<circle cx="388.05" cy="185.29" r="2.40" fill="#66acd8"/>
<circle cx="395.60" cy="185.29" r="2.40" fill="#80cbe9"/>
<circle cx="403.15" cy="185.29" r="2.40" fill="#80cbe9"/>
<circle cx="410.70" cy="185.29" r="2.40" fill="#80cbe9"/>
<circle cx="418.25" cy="185.29" r="2.40" fill="#80cbe9"/>
<circle cx="425.80" cy="185.29" r="2.40" fill="#80cbe9"/>
<circle cx="433.35" cy="185.29" r="2.40" fill="#80cbe9"/>
<circle cx="440.90" cy="185.29" r="2.40" fill="#80cbe9"/>
<circle cx="448.45" cy="185.29" r="2.40" fill="#80cbe9"/>
<circle cx="456.00" cy="185.29" r="2.40" fill="#74bfe3"/>
<circle cx="380.50" cy="192.83" r="2.40" fill="#80cbe9"/>
<circle cx="388.05" cy="192.83" r="2.40" fill="#80cbe9"/>
<circle cx="395.60" cy="192.83" r="2.40" fill="#80cbe9"/>
<circle cx="403.15" cy="192.83" r="2.40" fill="#74bfe3"/>
<circle cx="410.70" cy="192.83" r="2.40" fill="#74bfe3"/>
<circle cx="418.25" cy="192.83" r="2.40" fill="#80cbe9"/>
<circle cx="425.80" cy="192.83" r="2.40" fill="#80cbe9"/>
<circle cx="433.35" cy="192.83" r="2.40" fill="#80cbe9"/>
<circle cx="440.90" cy="192.83" r="2.40" fill="#80cbe9"/>
<circle cx="448.45" cy="192.83" r="2.40" fill="#80cbe9"/>
<circle cx="456.00" cy="192.83" r="2.40" fill="#4a80bc"/>
<circle cx="380.50" cy="200.36" r="2.40" fill="#66acd8"/>
<circle cx="388.05" cy="200.36" r="2.40" fill="#74bfe3"/>
<circle cx="395.60" cy="200.36" r="2.40" fill="#74bfe3"/>
<circle cx="403.15" cy="200.36" r="2.40" fill="#74bfe3"/>
<circle cx="410.70" cy="200.36" r="2.40" fill="#74bfe3"/>
<circle cx="418.25" cy="200.36" r="2.40" fill="#80cbe9"/>
<circle cx="425.80" cy="200.36" r="2.40" fill="#80cbe9"/>
<circle cx="433.35" cy="200.36" r="2.40" fill="#80cbe9"/>
<circle cx="440.90" cy="200.36" r="2.40" fill="#66acd8"/>
<circle cx="448.45" cy="200.36" r="2.40" fill="#80cbe9"/>
<circle cx="456.00" cy="200.36" r="2.40" fill="#74bfe3"/>
<circle cx="380.50" cy="207.90" r="2.40" fill="#74bfe3"/>
<circle cx="388.05" cy="207.90" r="2.40" fill="#74bfe3"/>
<circle cx="395.60" cy="207.90" r="2.40" fill="#80cbe9"/>
<circle cx="403.15" cy="207.90" r="2.40" fill="#66acd8"/>
<circle cx="410.70" cy="207.90" r="2.40" fill="#74bfe3"/>
<circle cx="418.25" cy="207.90" r="2.40" fill="#80cbe9"/>
<circle cx="425.80" cy="207.90" r="2.40" fill="#80cbe9"/>
<circle cx="433.35" cy="207.90" r="2.40" fill="#80cbe9"/>
<circle cx="440.90" cy="207.90" r="2.40" fill="#80cbe9"/>
<circle cx="448.45" cy="207.90" r="2.40" fill="#66acd8"/>
<circle cx="456.00" cy="207.90" r="2.40" fill="#74bfe3"/>
<circle cx="380.50" cy="215.44" r="2.40" fill="#80cbe9"/>
<circle cx="388.05" cy="215.44" r="2.40" fill="#80cbe9"/>
<circle cx="395.60" cy="215.44" r="2.40" fill="#80cbe9"/>
<circle cx="403.15" cy="215.44" r="2.40" fill="#74bfe3"/>
<circle cx="410.70" cy="215.44" r="2.40" fill="#80cbe9"/>
<circle cx="418.25" cy="215.44" r="2.40" fill="#80cbe9"/>
<circle cx="425.80" cy="215.44" r="2.40" fill="#80cbe9"/>
<circle cx="433.35" cy="215.44" r="2.40" fill="#80cbe9"/>
<circle cx="440.90" cy="215.44" r="2.40" fill="#80cbe9"/>
<circle cx="448.45" cy="215.44" r="2.40" fill="#74bfe3"/>
<circle cx="456.00" cy="215.44" r="2.40" fill="#80cbe9"/>
<circle cx="380.50" cy="222.97" r="2.40" fill="#80cbe9"/>
<circle cx="388.05" cy="222.97" r="2.40" fill="#74bfe3"/>
<circle cx="395.60" cy="222.97" r="2.40" fill="#80cbe9"/>
<circle cx="403.15" cy="222.97" r="2.40" fill="#74bfe3"/>
<circle cx="410.70" cy="222.97" r="2.40" fill="#80cbe9"/>
<circle cx="418.25" cy="222.97" r="2.40" fill="#5896cb"/>
<circle cx="425.80" cy="222.97" r="2.40" fill="#80cbe9"/>
<circle cx="433.35" cy="222.97" r="2.40" fill="#80cbe9"/>
<circle cx="440.90" cy="222.97" r="2.40" fill="#74bfe3"/>
<circle cx="448.45" cy="222.97" r="2.40" fill="#80cbe9"/>
<circle cx="456.00" cy="222.97" r="2.40" fill="#5896cb"/>
<circle cx="380.50" cy="230.51" r="2.40" fill="#74bfe3"/>
<circle cx="388.05" cy="230.51" r="2.40" fill="#74bfe3"/>
<circle cx="395.60" cy="230.51" r="2.40" fill="#80cbe9"/>
<circle cx="403.15" cy="230.51" r="2.40" fill="#74bfe3"/>
<circle cx="410.70" cy="230.51" r="2.40" fill="#74bfe3"/>
<circle cx="418.25" cy="230.51" r="2.40" fill="#66acd8"/>
<circle cx="425.80" cy="230.51" r="2.40" fill="#80cbe9"/>
<circle cx="433.35" cy="230.51" r="2.40" fill="#80cbe9"/>
<circle cx="440.90" cy="230.51" r="2.40" fill="#1e4a8a"/>
<circle cx="448.45" cy="230.51" r="2.40" fill="#80cbe9"/>
<circle cx="456.00" cy="230.51" r="2.40" fill="#5896cb"/>
<circle cx="380.50" cy="238.04" r="2.40" fill="#80cbe9"/>
<circle cx="388.05" cy="238.04" r="2.40" fill="#80cbe9"/>
<circle cx="395.60" cy="238.04" r="2.40" fill="#80cbe9"/>
<circle cx="403.15" cy="238.04" r="2.40" fill="#80cbe9"/>
<circle cx="410.70" cy="238.04" r="2.40" fill="#80cbe9"/>
<circle cx="418.25" cy="238.04" r="2.40" fill="#80cbe9"/>
<circle cx="425.80" cy="238.04" r="2.40" fill="#80cbe9"/>
<circle cx="433.35" cy="238.04" r="2.40" fill="#80cbe9"/>
<circle cx="440.90" cy="238.04" r="2.40" fill="#80cbe9"/>
<circle cx="448.45" cy="238.04" r="2.40" fill="#80cbe9"/>
<circle cx="456.00" cy="238.04" r="2.40" fill="#80cbe9"/>
<circle cx="380.50" cy="245.58" r="2.40" fill="#74bfe3"/>
<circle cx="388.05" cy="245.58" r="2.40" fill="#80cbe9"/>
<circle cx="395.60" cy="245.58" r="2.40" fill="#80cbe9"/>
<circle cx="403.15" cy="245.58" r="2.40" fill="#80cbe9"/>
<circle cx="410.70" cy="245.58" r="2.40" fill="#80cbe9"/>
<circle cx="418.25" cy="245.58" r="2.40" fill="#74bfe3"/>
<circle cx="425.80" cy="245.58" r="2.40" fill="#80cbe9"/>
<circle cx="433.35" cy="245.58" r="2.40" fill="#80cbe9"/>
<circle cx="440.90" cy="245.58" r="2.40" fill="#30649f"/>
<circle cx="448.45" cy="245.58" r="2.40" fill="#74bfe3"/>
<circle cx="456.00" cy="245.58" r="2.40" fill="#4a80bc"/>
<circle cx="380.50" cy="253.12" r="2.40" fill="#74bfe3"/>
<circle cx="388.05" cy="253.12" r="2.40" fill="#80cbe9"/>
<circle cx="395.60" cy="253.12" r="2.40" fill="#80cbe9"/>
<circle cx="403.15" cy="253.12" r="2.40" fill="#80cbe9"/>
<circle cx="410.70" cy="253.12" r="2.40" fill="#80cbe9"/>
<circle cx="418.25" cy="253.12" r="2.40" fill="#74bfe3"/>
<circle cx="425.80" cy="253.12" r="2.40" fill="#80cbe9"/>
<circle cx="433.35" cy="253.12" r="2.40" fill="#80cbe9"/>
<circle cx="440.90" cy="253.12" r="2.40" fill="#30649f"/>
<circle cx="448.45" cy="253.12" r="2.40" fill="#74bfe3"/>
<circle cx="456.00" cy="253.12" r="2.40" fill="#30649f"/>
<circle cx="380.50" cy="260.65" r="2.40" fill="#80cbe9"/>
<circle cx="388.05" cy="260.65" r="2.40" fill="#74bfe3"/>
<circle cx="395.60" cy="260.65" r="2.40" fill="#80cbe9"/>
<circle cx="403.15" cy="260.65" r="2.40" fill="#74bfe3"/>
<circle cx="410.70" cy="260.65" r="2.40" fill="#74bfe3"/>
<circle cx="418.25" cy="260.65" r="2.40" fill="#74bfe3"/>
<circle cx="425.80" cy="260.65" r="2.40" fill="#80cbe9"/>
<circle cx="433.35" cy="260.65" r="2.40" fill="#80cbe9"/>
<circle cx="440.90" cy="260.65" r="2.40" fill="#80cbe9"/>
<circle cx="448.45" cy="260.65" r="2.40" fill="#80cbe9"/>
<circle cx="456.00" cy="260.65" r="2.40" fill="#80cbe9"/>
<circle cx="380.50" cy="268.19" r="2.40" fill="#74bfe3"/>
<circle cx="388.05" cy="268.19" r="2.40" fill="#80cbe9"/>
<circle cx="395.60" cy="268.19" r="2.40" fill="#80cbe9"/>
<circle cx="403.15" cy="268.19" r="2.40" fill="#74bfe3"/>
<circle cx="410.70" cy="268.19" r="2.40" fill="#80cbe9"/>
<circle cx="418.25" cy="268.19" r="2.40" fill="#5896cb"/>
<circle cx="425.80" cy="268.19" r="2.40" fill="#80cbe9"/>
<circle cx="433.35" cy="268.19" r="2.40" fill="#80cbe9"/>
<circle cx="440.90" cy="268.19" r="2.40" fill="#74bfe3"/>
<circle cx="448.45" cy="268.19" r="2.40" fill="#80cbe9"/>
<circle cx="456.00" cy="268.19" r="2.40" fill="#74bfe3"/>
<circle cx="380.50" cy="275.72" r="2.40" fill="#80cbe9"/>
<circle cx="388.05" cy="275.72" r="2.40" fill="#80cbe9"/>
<circle cx="395.60" cy="275.72" r="2.40" fill="#80cbe9"/>
<circle cx="403.15" cy="275.72" r="2.40" fill="#80cbe9"/>
<circle cx="410.70" cy="275.72" r="2.40" fill="#80cbe9"/>
<circle cx="418.25" cy="275.72" r="2.40" fill="#80cbe9"/>
<circle cx="425.80" cy="275.72" r="2.40" fill="#80cbe9"/>
<circle cx="433.35" cy="275.72" r="2.40" fill="#80cbe9"/>
<circle cx="440.90" cy="275.72" r="2.40" fill="#74bfe3"/>
<circle cx="448.45" cy="275.72" r="2.40" fill="#80cbe9"/>
<circle cx="456.00" cy="275.72" r="2.40" fill="#66acd8"/>
<circle cx="380.50" cy="283.26" r="2.40" fill="#80cbe9"/>
<circle cx="388.05" cy="283.26" r="2.40" fill="#80cbe9"/>
<circle cx="395.60" cy="283.26" r="2.40" fill="#80cbe9"/>
<circle cx="403.15" cy="283.26" r="2.40" fill="#80cbe9"/>
<circle cx="410.70" cy="283.26" r="2.40" fill="#80cbe9"/>
<circle cx="418.25" cy="283.26" r="2.40" fill="#74bfe3"/>
<circle cx="425.80" cy="283.26" r="2.40" fill="#80cbe9"/>
<circle cx="433.35" cy="283.26" r="2.40" fill="#80cbe9"/>
<circle cx="440.90" cy="283.26" r="2.40" fill="#74bfe3"/>
<circle cx="448.45" cy="283.26" r="2.40" fill="#80cbe9"/>
<circle cx="456.00" cy="283.26" r="2.40" fill="#80cbe9"/>
<circle cx="380.50" cy="290.80" r="2.40" fill="#66acd8"/>
<circle cx="388.05" cy="290.80" r="2.40" fill="#80cbe9"/>
<circle cx="395.60" cy="290.80" r="2.40" fill="#80cbe9"/>
<circle cx="403.15" cy="290.80" r="2.40" fill="#66acd8"/>
<circle cx="410.70" cy="290.80" r="2.40" fill="#74bfe3"/>
<circle cx="418.25" cy="290.80" r="2.40" fill="#80cbe9"/>
<circle cx="425.80" cy="290.80" r="2.40" fill="#80cbe9"/>
<circle cx="433.35" cy="290.80" r="2.40" fill="#80cbe9"/>
<circle cx="440.90" cy="290.80" r="2.40" fill="#80cbe9"/>
<circle cx="448.45" cy="290.80" r="2.40" fill="#80cbe9"/>
<circle cx="456.00" cy="290.80" r="2.40" fill="#80cbe9"/>
<circle cx="380.50" cy="298.33" r="2.40" fill="#80cbe9"/>
<circle cx="388.05" cy="298.33" r="2.40" fill="#74bfe3"/>
<circle cx="395.60" cy="298.33" r="2.40" fill="#80cbe9"/>
<circle cx="403.15" cy="298.33" r="2.40" fill="#66acd8"/>
<circle cx="410.70" cy="298.33" r="2.40" fill="#74bfe3"/>
<circle cx="418.25" cy="298.33" r="2.40" fill="#80cbe9"/>
<circle cx="425.80" cy="298.33" r="2.02" fill="#80cbe9"/>
<circle cx="433.35" cy="298.33" r="2.40" fill="#80cbe9"/>
<circle cx="440.90" cy="298.33" r="2.40" fill="#80cbe9"/>
<circle cx="448.45" cy="298.33" r="2.40" fill="#80cbe9"/>
<circle cx="456.00" cy="298.33" r="2.40" fill="#80cbe9"/>
<circle cx="380.50" cy="305.87" r="2.40" fill="#80cbe9"/>
<circle cx="388.05" cy="305.87" r="2.40" fill="#80cbe9"/>
<circle cx="395.60" cy="305.87" r="2.40" fill="#80cbe9"/>
<circle cx="403.15" cy="305.87" r="2.40" fill="#74bfe3"/>
<circle cx="410.70" cy="305.87" r="2.40" fill="#80cbe9"/>
<circle cx="418.25" cy="305.87" r="2.40" fill="#80cbe9"/>
<circle cx="425.80" cy="305.87" r="2.40" fill="#80cbe9"/>
<circle cx="433.35" cy="305.87" r="2.40" fill="#80cbe9"/>
<circle cx="440.90" cy="305.87" r="2.40" fill="#80cbe9"/>
<circle cx="448.45" cy="305.87" r="2.40" fill="#74bfe3"/>
<circle cx="456.00" cy="305.87" r="2.40" fill="#80cbe9"/>
<circle cx="380.50" cy="313.40" r="2.40" fill="#80cbe9"/>
<circle cx="388.05" cy="313.40" r="2.40" fill="#74bfe3"/>
<circle cx="395.60" cy="313.40" r="2.40" fill="#80cbe9"/>
<circle cx="403.15" cy="313.40" r="2.40" fill="#74bfe3"/>
<circle cx="410.70" cy="313.40" r="2.40" fill="#80cbe9"/>
<circle cx="418.25" cy="313.40" r="2.40" fill="#80cbe9"/>
<circle cx="425.80" cy="313.40" r="2.40" fill="#80cbe9"/>
<circle cx="433.35" cy="313.40" r="2.40" fill="#80cbe9"/>
<circle cx="440.90" cy="313.40" r="2.40" fill="#80cbe9"/>
<circle cx="448.45" cy="313.40" r="2.40" fill="#80cbe9"/>
<circle cx="456.00" cy="313.40" r="2.40" fill="#66acd8"/>
<circle cx="380.50" cy="320.94" r="2.40" fill="#80cbe9"/>
<circle cx="388.05" cy="320.94" r="2.40" fill="#66acd8"/>
<circle cx="395.60" cy="320.94" r="2.40" fill="#80cbe9"/>
<circle cx="403.15" cy="320.94" r="2.40" fill="#66acd8"/>
<circle cx="410.70" cy="320.94" r="2.40" fill="#80cbe9"/>
<circle cx="418.25" cy="320.94" r="2.40" fill="#80cbe9"/>
<circle cx="425.80" cy="320.94" r="2.40" fill="#80cbe9"/>
<circle cx="433.35" cy="320.94" r="2.40" fill="#80cbe9"/>
<circle cx="440.90" cy="320.94" r="2.40" fill="#80cbe9"/>
<circle cx="448.45" cy="320.94" r="2.40" fill="#74bfe3"/>
<circle cx="456.00" cy="320.94" r="2.40" fill="#80cbe9"/>
<circle cx="380.50" cy="328.48" r="2.40" fill="#80cbe9"/>
<circle cx="388.05" cy="328.48" r="2.40" fill="#66acd8"/>
<circle cx="395.60" cy="328.48" r="2.40" fill="#80cbe9"/>
<circle cx="403.15" cy="328.48" r="2.40" fill="#80cbe9"/>
<circle cx="410.70" cy="328.48" r="2.40" fill="#80cbe9"/>
<circle cx="418.25" cy="328.48" r="2.40" fill="#74bfe3"/>
<circle cx="425.80" cy="328.48" r="2.40" fill="#80cbe9"/>
<circle cx="433.35" cy="328.48" r="2.40" fill="#80cbe9"/>
<circle cx="440.90" cy="328.48" r="2.40" fill="#66acd8"/>
<circle cx="448.45" cy="328.48" r="2.40" fill="#80cbe9"/>
<circle cx="456.00" cy="328.48" r="2.40" fill="#74bfe3"/>
<circle cx="380.50" cy="336.01" r="2.40" fill="#80cbe9"/>
<circle cx="388.05" cy="336.01" r="2.40" fill="#80cbe9"/>
<circle cx="395.60" cy="336.01" r="2.40" fill="#80cbe9"/>
<circle cx="403.15" cy="336.01" r="2.40" fill="#80cbe9"/>
<circle cx="410.70" cy="336.01" r="2.40" fill="#80cbe9"/>
<circle cx="418.25" cy="336.01" r="2.40" fill="#5896cb"/>
<circle cx="425.80" cy="336.01" r="2.40" fill="#80cbe9"/>
<circle cx="433.35" cy="336.01" r="2.40" fill="#80cbe9"/>
<circle cx="440.90" cy="336.01" r="2.40" fill="#80cbe9"/>
<circle cx="448.45" cy="336.01" r="2.40" fill="#80cbe9"/>
<circle cx="456.00" cy="336.01" r="2.40" fill="#80cbe9"/>
<circle cx="380.50" cy="343.55" r="2.40" fill="#5896cb"/>
<circle cx="388.05" cy="343.55" r="2.40" fill="#66acd8"/>
<circle cx="395.60" cy="343.55" r="2.40" fill="#80cbe9"/>
<circle cx="403.15" cy="343.55" r="2.40" fill="#66acd8"/>
<circle cx="410.70" cy="343.55" r="2.40" fill="#74bfe3"/>
<circle cx="418.25" cy="343.55" r="2.40" fill="#30649f"/>
<circle cx="425.80" cy="343.55" r="2.40" fill="#80cbe9"/>
<circle cx="433.35" cy="343.55" r="2.40" fill="#80cbe9"/>
<circle cx="440.90" cy="343.55" r="2.40" fill="#74bfe3"/>
<circle cx="448.45" cy="343.55" r="2.40" fill="#80cbe9"/>
<circle cx="456.00" cy="343.55" r="2.40" fill="#80cbe9"/>
<circle cx="380.50" cy="351.08" r="2.40" fill="#80cbe9"/>
<circle cx="388.05" cy="351.08" r="2.40" fill="#80cbe9"/>
<circle cx="395.60" cy="351.08" r="2.40" fill="#80cbe9"/>
<circle cx="403.15" cy="351.08" r="2.40" fill="#80cbe9"/>
<circle cx="410.70" cy="351.08" r="2.40" fill="#80cbe9"/>
<circle cx="418.25" cy="351.08" r="2.40" fill="#80cbe9"/>
<circle cx="425.80" cy="351.08" r="2.40" fill="#80cbe9"/>
<circle cx="433.35" cy="351.08" r="2.02" fill="#80cbe9"/>
<circle cx="440.90" cy="351.08" r="2.40" fill="#80cbe9"/>
<circle cx="448.45" cy="351.08" r="2.40" fill="#80cbe9"/>
<circle cx="456.00" cy="351.08" r="2.40" fill="#80cbe9"/>
<circle cx="380.50" cy="358.62" r="2.40" fill="#80cbe9"/>
<circle cx="388.05" cy="358.62" r="2.40" fill="#80cbe9"/>
<circle cx="395.60" cy="358.62" r="2.40" fill="#80cbe9"/>
<circle cx="403.15" cy="358.62" r="2.40" fill="#80cbe9"/>
<circle cx="410.70" cy="358.62" r="2.40" fill="#74bfe3"/>
<circle cx="418.25" cy="358.62" r="2.40" fill="#80cbe9"/>
<circle cx="425.80" cy="358.62" r="2.40" fill="#80cbe9"/>
<circle cx="433.35" cy="358.62" r="2.02" fill="#80cbe9"/>
<circle cx="440.90" cy="358.62" r="2.40" fill="#80cbe9"/>
<circle cx="448.45" cy="358.62" r="2.40" fill="#80cbe9"/>
<circle cx="456.00" cy="358.62" r="2.40" fill="#80cbe9"/>
<circle cx="380.50" cy="366.16" r="2.40" fill="#66acd8"/>
<circle cx="388.05" cy="366.16" r="2.40" fill="#80cbe9"/>
<circle cx="395.60" cy="366.16" r="2.40" fill="#80cbe9"/>
<circle cx="403.15" cy="366.16" r="2.40" fill="#74bfe3"/>
<circle cx="410.70" cy="366.16" r="2.40" fill="#80cbe9"/>
<circle cx="418.25" cy="366.16" r="2.40" fill="#30649f"/>
<circle cx="425.80" cy="366.16" r="2.40" fill="#80cbe9"/>
<circle cx="433.35" cy="366.16" r="2.40" fill="#80cbe9"/>
<circle cx="440.90" cy="366.16" r="2.40" fill="#74bfe3"/>
<circle cx="448.45" cy="366.16" r="2.40" fill="#80cbe9"/>
<circle cx="456.00" cy="366.16" r="2.40" fill="#74bfe3"/>
<circle cx="380.50" cy="373.69" r="2.40" fill="#5896cb"/>
<circle cx="388.05" cy="373.69" r="2.40" fill="#66acd8"/>
<circle cx="395.60" cy="373.69" r="2.40" fill="#80cbe9"/>
<circle cx="403.15" cy="373.69" r="2.40" fill="#74bfe3"/>
<circle cx="410.70" cy="373.69" r="2.40" fill="#80cbe9"/>
<circle cx="418.25" cy="373.69" r="2.40" fill="#80cbe9"/>
<circle cx="425.80" cy="373.69" r="2.40" fill="#74bfe3"/>
<circle cx="433.35" cy="373.69" r="2.40" fill="#80cbe9"/>
<circle cx="440.90" cy="373.69" r="2.40" fill="#5896cb"/>
<circle cx="448.45" cy="373.69" r="2.40" fill="#80cbe9"/>
<circle cx="456.00" cy="373.69" r="2.40" fill="#5896cb"/>
<circle cx="380.50" cy="381.23" r="2.40" fill="#80cbe9"/>
<circle cx="388.05" cy="381.23" r="2.40" fill="#80cbe9"/>
<circle cx="395.60" cy="381.23" r="2.40" fill="#80cbe9"/>
<circle cx="403.15" cy="381.23" r="2.40" fill="#74bfe3"/>
<circle cx="410.70" cy="381.23" r="2.40" fill="#74bfe3"/>
<circle cx="418.25" cy="381.23" r="2.40" fill="#74bfe3"/>
<circle cx="425.80" cy="381.23" r="2.02" fill="#80cbe9"/>
<circle cx="433.35" cy="381.23" r="2.40" fill="#80cbe9"/>
<circle cx="440.90" cy="381.23" r="2.40" fill="#80cbe9"/>
<circle cx="448.45" cy="381.23" r="2.40" fill="#80cbe9"/>
<circle cx="456.00" cy="381.23" r="2.40" fill="#80cbe9"/>
<circle cx="380.50" cy="388.76" r="2.40" fill="#74bfe3"/>
<circle cx="388.05" cy="388.76" r="2.40" fill="#80cbe9"/>
<circle cx="395.60" cy="388.76" r="2.40" fill="#80cbe9"/>
<circle cx="403.15" cy="388.76" r="2.40" fill="#74bfe3"/>
<circle cx="410.70" cy="388.76" r="2.40" fill="#80cbe9"/>
<circle cx="418.25" cy="388.76" r="2.40" fill="#80cbe9"/>
<circle cx="425.80" cy="388.76" r="2.40" fill="#80cbe9"/>
<circle cx="433.35" cy="388.76" r="2.40" fill="#80cbe9"/>
<circle cx="440.90" cy="388.76" r="2.40" fill="#80cbe9"/>
<circle cx="448.45" cy="388.76" r="0.67" fill="#80cbe9"/>
<circle cx="456.00" cy="388.76" r="2.40" fill="#80cbe9"/>
<line x1="468.10" y1="15.13" x2="468.10" y2="392.53" stroke="#8a8a8a" stroke-width="0.9"/>
<line x1="468.40" y1="19.50" x2="469.90" y2="19.50" stroke="#333" stroke-width="0.75"/>
<text x="470.30" y="22.16" font-size="7.4">cellular response to peptide hormone stimulus</text>
<line x1="468.40" y1="27.04" x2="469.90" y2="27.04" stroke="#333" stroke-width="0.75"/>
<text x="470.30" y="29.70" font-size="7.4">cellular response to insulin stimulus</text>
<line x1="468.40" y1="34.57" x2="469.90" y2="34.57" stroke="#333" stroke-width="0.75"/>
<text x="470.30" y="37.24" font-size="7.4">cellular response to peptide</text>
<line x1="468.40" y1="42.11" x2="469.90" y2="42.11" stroke="#333" stroke-width="0.75"/>
<text x="470.30" y="44.77" font-size="7.4">cellular response to environmental stimulus</text>
<line x1="468.40" y1="49.64" x2="469.90" y2="49.64" stroke="#333" stroke-width="0.75"/>
<text x="470.30" y="52.31" font-size="7.4">cellular response to abiotic stimulus</text>
<line x1="468.40" y1="57.18" x2="469.90" y2="57.18" stroke="#333" stroke-width="0.75"/>
<text x="470.30" y="59.84" font-size="7.4">gland development</text>
<line x1="468.40" y1="64.72" x2="469.90" y2="64.72" stroke="#333" stroke-width="0.75"/>
<text x="470.30" y="67.38" font-size="7.4">response to insulin</text>
<line x1="468.40" y1="72.25" x2="469.90" y2="72.25" stroke="#333" stroke-width="0.75"/>
<text x="470.30" y="74.92" font-size="7.4">response to light stimulus</text>
<line x1="468.40" y1="79.79" x2="469.90" y2="79.79" stroke="#333" stroke-width="0.75"/>
<text x="470.30" y="82.45" font-size="7.4">regulation of developmental growth</text>
<line x1="468.40" y1="87.32" x2="469.90" y2="87.32" stroke="#333" stroke-width="0.75"/>
<text x="470.30" y="89.99" font-size="7.4">response to decreased oxygen levels</text>
<line x1="468.40" y1="94.86" x2="469.90" y2="94.86" stroke="#333" stroke-width="0.75"/>
<text x="470.30" y="97.52" font-size="7.4">response to radiation</text>
<line x1="468.40" y1="102.40" x2="469.90" y2="102.40" stroke="#333" stroke-width="0.75"/>
<text x="470.30" y="105.06" font-size="7.4">regulation of neuron apoptotic process</text>
<line x1="468.40" y1="109.93" x2="469.90" y2="109.93" stroke="#333" stroke-width="0.75"/>
<text x="470.30" y="112.60" font-size="7.4">protein localization to nucleus</text>
<line x1="468.40" y1="117.47" x2="469.90" y2="117.47" stroke="#333" stroke-width="0.75"/>
<text x="470.30" y="120.13" font-size="7.4">positive regulation of proteolysis</text>
<line x1="468.40" y1="125.00" x2="469.90" y2="125.00" stroke="#333" stroke-width="0.75"/>
<text x="470.30" y="127.67" font-size="7.4">response to hypoxia</text>
<line x1="468.40" y1="132.54" x2="469.90" y2="132.54" stroke="#333" stroke-width="0.75"/>
<text x="470.30" y="135.20" font-size="7.4">response to steroid hormone</text>
<line x1="468.40" y1="140.08" x2="469.90" y2="140.08" stroke="#333" stroke-width="0.75"/>
<text x="470.30" y="142.74" font-size="7.4">positive regulation of transferase activity</text>
<line x1="468.40" y1="147.61" x2="469.90" y2="147.61" stroke="#333" stroke-width="0.75"/>
<text x="470.30" y="150.28" font-size="7.4">neuron apoptotic process</text>
<line x1="468.40" y1="155.15" x2="469.90" y2="155.15" stroke="#333" stroke-width="0.75"/>
<text x="470.30" y="157.81" font-size="7.4">epithelial cell proliferation</text>
<line x1="468.40" y1="162.68" x2="469.90" y2="162.68" stroke="#333" stroke-width="0.75"/>
<text x="470.30" y="165.35" font-size="7.4">regulation of epithelial cell proliferation</text>
<line x1="468.40" y1="170.22" x2="469.90" y2="170.22" stroke="#333" stroke-width="0.75"/>
<text x="470.30" y="172.88" font-size="7.4">regulation of apoptotic signaling pathway</text>
<line x1="468.40" y1="177.76" x2="469.90" y2="177.76" stroke="#333" stroke-width="0.75"/>
<text x="470.30" y="180.42" font-size="7.4">positive regulation of DNA metabolic process</text>
<line x1="468.40" y1="185.29" x2="469.90" y2="185.29" stroke="#333" stroke-width="0.75"/>
<text x="470.30" y="187.96" font-size="7.4">response to peptide hormone</text>
<line x1="468.40" y1="192.83" x2="469.90" y2="192.83" stroke="#333" stroke-width="0.75"/>
<text x="470.30" y="195.49" font-size="7.4">response to oxygen levels</text>
<line x1="468.40" y1="200.36" x2="469.90" y2="200.36" stroke="#333" stroke-width="0.75"/>
<text x="470.30" y="203.03" font-size="7.4">extrinsic apoptotic signaling pathway</text>
<line x1="468.40" y1="207.90" x2="469.90" y2="207.90" stroke="#333" stroke-width="0.75"/>
<text x="470.30" y="210.56" font-size="7.4">response to nutrient levels</text>
<line x1="468.40" y1="215.44" x2="469.90" y2="215.44" stroke="#333" stroke-width="0.75"/>
<text x="470.30" y="218.10" font-size="7.4">cellular response to radiation</text>
<line x1="468.40" y1="222.97" x2="469.90" y2="222.97" stroke="#333" stroke-width="0.75"/>
<text x="470.30" y="225.64" font-size="7.4">regulation of small molecule metabolic process</text>
<line x1="468.40" y1="230.51" x2="469.90" y2="230.51" stroke="#333" stroke-width="0.75"/>
<text x="470.30" y="233.17" font-size="7.4">phosphatidylinositol 3−kinase/protein kinase B signal transduction</text>
<line x1="468.40" y1="238.04" x2="469.90" y2="238.04" stroke="#333" stroke-width="0.75"/>
<text x="470.30" y="240.71" font-size="7.4">response to ionizing radiation</text>
<line x1="468.40" y1="245.58" x2="469.90" y2="245.58" stroke="#333" stroke-width="0.75"/>
<text x="470.30" y="248.24" font-size="7.4">peptidyl−tyrosine phosphorylation</text>
<line x1="468.40" y1="253.12" x2="469.90" y2="253.12" stroke="#333" stroke-width="0.75"/>
<text x="470.30" y="255.78" font-size="7.4">peptidyl−tyrosine modification</text>
<line x1="468.40" y1="260.65" x2="469.90" y2="260.65" stroke="#333" stroke-width="0.75"/>
<text x="470.30" y="263.32" font-size="7.4">cellular response to chemical stress</text>
<line x1="468.40" y1="268.19" x2="469.90" y2="268.19" stroke="#333" stroke-width="0.75"/>
<text x="470.30" y="270.85" font-size="7.4">response to oxidative stress</text>
<line x1="468.40" y1="275.72" x2="469.90" y2="275.72" stroke="#333" stroke-width="0.75"/>
<text x="470.30" y="278.39" font-size="7.4">regulation of carbohydrate metabolic process</text>
<line x1="468.40" y1="283.26" x2="469.90" y2="283.26" stroke="#333" stroke-width="0.75"/>
<text x="470.30" y="285.92" font-size="7.4">cellular response to oxidative stress</text>
<line x1="468.40" y1="290.80" x2="469.90" y2="290.80" stroke="#333" stroke-width="0.75"/>
<text x="470.30" y="293.46" font-size="7.4">negative regulation of apoptotic signaling pathway</text>
<line x1="468.40" y1="298.33" x2="469.90" y2="298.33" stroke="#333" stroke-width="0.75"/>
<text x="470.30" y="301.00" font-size="7.4">intrinsic apoptotic signaling pathway</text>
<line x1="468.40" y1="305.87" x2="469.90" y2="305.87" stroke="#333" stroke-width="0.75"/>
<text x="470.30" y="308.53" font-size="7.4">response to UV</text>
<line x1="468.40" y1="313.40" x2="469.90" y2="313.40" stroke="#333" stroke-width="0.75"/>
<text x="470.30" y="316.07" font-size="7.4">regulation of miRNA metabolic process</text>
<line x1="468.40" y1="320.94" x2="469.90" y2="320.94" stroke="#333" stroke-width="0.75"/>
<text x="470.30" y="323.60" font-size="7.4">rhythmic process</text>
<line x1="468.40" y1="328.48" x2="469.90" y2="328.48" stroke="#333" stroke-width="0.75"/>
<text x="470.30" y="331.14" font-size="7.4">regulation of reactive oxygen species metabolic process</text>
<line x1="468.40" y1="336.01" x2="469.90" y2="336.01" stroke="#333" stroke-width="0.75"/>
<text x="470.30" y="338.68" font-size="7.4">cellular response to reactive oxygen species</text>
<line x1="468.40" y1="343.55" x2="469.90" y2="343.55" stroke="#333" stroke-width="0.75"/>
<text x="470.30" y="346.21" font-size="7.4">reactive oxygen species metabolic process</text>
<line x1="468.40" y1="351.08" x2="469.90" y2="351.08" stroke="#333" stroke-width="0.75"/>
<text x="470.30" y="353.75" font-size="7.4">signal transduction in response to DNA damage</text>
<line x1="468.40" y1="358.62" x2="469.90" y2="358.62" stroke="#333" stroke-width="0.75"/>
<text x="470.30" y="361.28" font-size="7.4">cellular senescence</text>
<line x1="468.40" y1="366.16" x2="469.90" y2="366.16" stroke="#333" stroke-width="0.75"/>
<text x="470.30" y="368.82" font-size="7.4">response to reactive oxygen species</text>
<line x1="468.40" y1="373.69" x2="469.90" y2="373.69" stroke="#333" stroke-width="0.75"/>
<text x="470.30" y="376.36" font-size="7.4">muscle cell proliferation</text>
<line x1="468.40" y1="381.23" x2="469.90" y2="381.23" stroke="#333" stroke-width="0.75"/>
<text x="470.30" y="383.89" font-size="7.4">intrinsic apoptotic signaling pathway in response to DNA damage</text>
<line x1="468.40" y1="388.76" x2="469.90" y2="388.76" stroke="#333" stroke-width="0.75"/>
<text x="470.30" y="391.43" font-size="7.4">response to gamma radiation</text>
<line x1="380.50" y1="393.33" x2="380.50" y2="394.93" stroke="#555" stroke-width="0.5"/>
<text transform="translate(383.90,399.43) rotate(-45)" text-anchor="end" font-size="7.4">Blood</text>
<line x1="388.05" y1="393.33" x2="388.05" y2="394.93" stroke="#555" stroke-width="0.5"/>
<text transform="translate(391.45,399.43) rotate(-45)" text-anchor="end" font-size="7.4">Bone Marrow</text>
<line x1="395.60" y1="393.33" x2="395.60" y2="394.93" stroke="#555" stroke-width="0.5"/>
<text transform="translate(399.00,399.43) rotate(-45)" text-anchor="end" font-size="7.4">Brain 1</text>
<line x1="403.15" y1="393.33" x2="403.15" y2="394.93" stroke="#555" stroke-width="0.5"/>
<text transform="translate(406.55,399.43) rotate(-45)" text-anchor="end" font-size="7.4">Brain 2</text>
<line x1="410.70" y1="393.33" x2="410.70" y2="394.93" stroke="#555" stroke-width="0.5"/>
<text transform="translate(414.10,399.43) rotate(-45)" text-anchor="end" font-size="7.4">Colon 1</text>
<line x1="418.25" y1="393.33" x2="418.25" y2="394.93" stroke="#555" stroke-width="0.5"/>
<text transform="translate(421.65,399.43) rotate(-45)" text-anchor="end" font-size="7.4">Colon 2</text>
<line x1="425.80" y1="393.33" x2="425.80" y2="394.93" stroke="#555" stroke-width="0.5"/>
<text transform="translate(429.20,399.43) rotate(-45)" text-anchor="end" font-size="7.4">Liver</text>
<line x1="433.35" y1="393.33" x2="433.35" y2="394.93" stroke="#555" stroke-width="0.5"/>
<text transform="translate(436.75,399.43) rotate(-45)" text-anchor="end" font-size="7.4">Lung 1</text>
<line x1="440.90" y1="393.33" x2="440.90" y2="394.93" stroke="#555" stroke-width="0.5"/>
<text transform="translate(444.30,399.43) rotate(-45)" text-anchor="end" font-size="7.4">Lung 2</text>
<line x1="448.45" y1="393.33" x2="448.45" y2="394.93" stroke="#555" stroke-width="0.5"/>
<text transform="translate(451.85,399.43) rotate(-45)" text-anchor="end" font-size="7.4">Pancreas</text>
<line x1="456.00" y1="393.33" x2="456.00" y2="394.93" stroke="#555" stroke-width="0.5"/>
<text transform="translate(459.40,399.43) rotate(-45)" text-anchor="end" font-size="7.4">Skeletal Muscle</text>
<line x1="463.60" y1="393.33" x2="463.60" y2="394.93" stroke="#555" stroke-width="0.5"/>
<text transform="translate(467.00,399.43) rotate(-45)" text-anchor="end" font-size="7.4">Gini Coefficient</text>
<text x="388.60" y="14.10" font-family="'DejaVu Sans', sans-serif" font-weight="bold" fill="#1b3252" stroke="#1b3252" stroke-width="0.3" font-size="8.2" textLength="69.40" lengthAdjust="spacingAndGlyphs">Downregulated</text>
<defs><linearGradient id="gbB_UP" x1="0" y1="0" x2="0" y2="1"><stop offset="0.00000" stop-color="#bf3a30"/><stop offset="0.02000" stop-color="#bf3a30"/><stop offset="0.02000" stop-color="#bf3a30"/><stop offset="0.04000" stop-color="#bf3a30"/><stop offset="0.04000" stop-color="#bf3a30"/><stop offset="0.06000" stop-color="#bf3a30"/><stop offset="0.06000" stop-color="#bf3a30"/><stop offset="0.08000" stop-color="#bf3a30"/><stop offset="0.08000" stop-color="#bf3a30"/><stop offset="0.10000" stop-color="#bf3a30"/><stop offset="0.10000" stop-color="#bf3a30"/><stop offset="0.12000" stop-color="#bf3a30"/><stop offset="0.12000" stop-color="#bf3a30"/><stop offset="0.14000" stop-color="#bf3a30"/><stop offset="0.14000" stop-color="#bf3a30"/><stop offset="0.16000" stop-color="#bf3a30"/><stop offset="0.16000" stop-color="#bf3a30"/><stop offset="0.18000" stop-color="#bf3a30"/><stop offset="0.18000" stop-color="#bf3a30"/><stop offset="0.20000" stop-color="#bf3a30"/><stop offset="0.20000" stop-color="#bf3a30"/><stop offset="0.22000" stop-color="#bf3a30"/><stop offset="0.22000" stop-color="#bf3a30"/><stop offset="0.24000" stop-color="#bf3a30"/><stop offset="0.24000" stop-color="#bf3a30"/><stop offset="0.26000" stop-color="#bf3a30"/><stop offset="0.26000" stop-color="#bf3a30"/><stop offset="0.28000" stop-color="#bf3a30"/><stop offset="0.28000" stop-color="#bf3a30"/><stop offset="0.30000" stop-color="#bf3a30"/><stop offset="0.30000" stop-color="#bf3a30"/><stop offset="0.32000" stop-color="#bf3a30"/><stop offset="0.32000" stop-color="#bf3a30"/><stop offset="0.34000" stop-color="#bf3a30"/><stop offset="0.34000" stop-color="#bf3a30"/><stop offset="0.36000" stop-color="#bf3a30"/><stop offset="0.36000" stop-color="#bf3a30"/><stop offset="0.38000" stop-color="#bf3a30"/><stop offset="0.38000" stop-color="#bf3a30"/><stop offset="0.40000" stop-color="#bf3a30"/><stop offset="0.40000" stop-color="#bf3a30"/><stop offset="0.42000" stop-color="#bf3a30"/><stop offset="0.42000" stop-color="#bf3a30"/><stop offset="0.44000" stop-color="#bf3a30"/><stop offset="0.44000" stop-color="#bf3a30"/><stop offset="0.46000" stop-color="#bf3a30"/><stop offset="0.46000" stop-color="#bf3a30"/><stop offset="0.48000" stop-color="#bf3a30"/><stop offset="0.48000" stop-color="#bf3a30"/><stop offset="0.50000" stop-color="#bf3a30"/><stop offset="0.50000" stop-color="#bf3a30"/><stop offset="0.52000" stop-color="#bf3a30"/><stop offset="0.52000" stop-color="#bf3a30"/><stop offset="0.54000" stop-color="#bf3a30"/><stop offset="0.54000" stop-color="#bf3a30"/><stop offset="0.56000" stop-color="#bf3a30"/><stop offset="0.56000" stop-color="#bf3a30"/><stop offset="0.58000" stop-color="#bf3a30"/><stop offset="0.58000" stop-color="#bf3a30"/><stop offset="0.60000" stop-color="#bf3a30"/><stop offset="0.60000" stop-color="#bf3a30"/><stop offset="0.62000" stop-color="#bf3a30"/><stop offset="0.62000" stop-color="#bf3b31"/><stop offset="0.64000" stop-color="#bf3b31"/><stop offset="0.64000" stop-color="#c03d33"/><stop offset="0.66000" stop-color="#c03d33"/><stop offset="0.66000" stop-color="#c03e34"/><stop offset="0.68000" stop-color="#c03e34"/><stop offset="0.68000" stop-color="#c14035"/><stop offset="0.70000" stop-color="#c14035"/><stop offset="0.70000" stop-color="#c14137"/><stop offset="0.72000" stop-color="#c14137"/><stop offset="0.72000" stop-color="#c24338"/><stop offset="0.74000" stop-color="#c24338"/><stop offset="0.74000" stop-color="#c2443a"/><stop offset="0.76000" stop-color="#c2443a"/><stop offset="0.76000" stop-color="#c3463b"/><stop offset="0.78000" stop-color="#c3463b"/><stop offset="0.78000" stop-color="#c3473c"/><stop offset="0.80000" stop-color="#c3473c"/><stop offset="0.80000" stop-color="#c4493e"/><stop offset="0.82000" stop-color="#c4493e"/><stop offset="0.82000" stop-color="#c44a3f"/><stop offset="0.84000" stop-color="#c44a3f"/><stop offset="0.84000" stop-color="#c54c40"/><stop offset="0.86000" stop-color="#c54c40"/><stop offset="0.86000" stop-color="#c54d42"/><stop offset="0.88000" stop-color="#c54d42"/><stop offset="0.88000" stop-color="#c64f43"/><stop offset="0.90000" stop-color="#c64f43"/><stop offset="0.90000" stop-color="#c65045"/><stop offset="0.92000" stop-color="#c65045"/><stop offset="0.92000" stop-color="#c75246"/><stop offset="0.94000" stop-color="#c75246"/><stop offset="0.94000" stop-color="#c75347"/><stop offset="0.96000" stop-color="#c75347"/><stop offset="0.96000" stop-color="#c85549"/><stop offset="0.98000" stop-color="#c85549"/><stop offset="0.98000" stop-color="#c8564a"/><stop offset="1.00000" stop-color="#c8564a"/></linearGradient></defs>
<rect x="299.30" y="446.00" width="7.90" height="390.30" fill="url(#gbB_UP)"/>
<circle cx="233.10" cy="449.90" r="2.70" fill="#ec8619"/>
<circle cx="240.90" cy="449.90" r="2.70" fill="#f99a0c"/>
<circle cx="248.70" cy="449.90" r="2.70" fill="#f99a0c"/>
<circle cx="256.50" cy="449.90" r="2.70" fill="#f99a0c"/>
<circle cx="264.30" cy="449.90" r="2.70" fill="#f99a0c"/>
<circle cx="272.10" cy="449.90" r="2.70" fill="#f99a0c"/>
<circle cx="279.90" cy="449.90" r="2.70" fill="#ffa205"/>
<circle cx="287.70" cy="449.90" r="2.70" fill="#f99a0c"/>
<circle cx="295.50" cy="449.90" r="2.70" fill="#ffa205"/>
<circle cx="233.10" cy="457.71" r="2.70" fill="#f99a0c"/>
<circle cx="240.90" cy="457.71" r="2.70" fill="#ffa205"/>
<circle cx="248.70" cy="457.71" r="2.70" fill="#dc721f"/>
<circle cx="256.50" cy="457.71" r="2.70" fill="#ec8619"/>
<circle cx="264.30" cy="457.71" r="2.70" fill="#ffa205"/>
<circle cx="272.10" cy="457.71" r="2.70" fill="#f99a0c"/>
<circle cx="279.90" cy="457.71" r="2.70" fill="#ffa205"/>
<circle cx="287.70" cy="457.71" r="2.70" fill="#ffa205"/>
<circle cx="295.50" cy="457.71" r="2.70" fill="#ffa205"/>
<circle cx="233.10" cy="465.51" r="2.70" fill="#dc721f"/>
<circle cx="240.90" cy="465.51" r="2.70" fill="#ffa205"/>
<circle cx="248.70" cy="465.51" r="2.70" fill="#dc721f"/>
<circle cx="256.50" cy="465.51" r="2.70" fill="#ec8619"/>
<circle cx="264.30" cy="465.51" r="2.70" fill="#ffa205"/>
<circle cx="272.10" cy="465.51" r="2.70" fill="#dc721f"/>
<circle cx="279.90" cy="465.51" r="2.70" fill="#ffa205"/>
<circle cx="287.70" cy="465.51" r="2.70" fill="#f99a0c"/>
<circle cx="295.50" cy="465.51" r="2.70" fill="#ffa205"/>
<circle cx="233.10" cy="473.32" r="2.70" fill="#dc721f"/>
<circle cx="240.90" cy="473.32" r="2.70" fill="#ffa205"/>
<circle cx="248.70" cy="473.32" r="2.70" fill="#c84e22"/>
<circle cx="256.50" cy="473.32" r="2.70" fill="#dc721f"/>
<circle cx="264.30" cy="473.32" r="2.70" fill="#ffa205"/>
<circle cx="272.10" cy="473.32" r="2.70" fill="#dc721f"/>
<circle cx="279.90" cy="473.32" r="2.70" fill="#ffa205"/>
<circle cx="287.70" cy="473.32" r="2.70" fill="#f99a0c"/>
<circle cx="295.50" cy="473.32" r="2.70" fill="#ffa205"/>
<circle cx="233.10" cy="481.12" r="2.70" fill="#f99a0c"/>
<circle cx="240.90" cy="481.12" r="2.70" fill="#ffa205"/>
<circle cx="248.70" cy="481.12" r="2.70" fill="#ec8619"/>
<circle cx="256.50" cy="481.12" r="2.70" fill="#f99a0c"/>
<circle cx="264.30" cy="481.12" r="2.70" fill="#ffa205"/>
<circle cx="272.10" cy="481.12" r="2.70" fill="#ec8619"/>
<circle cx="279.90" cy="481.12" r="2.70" fill="#ffa205"/>
<circle cx="287.70" cy="481.12" r="2.70" fill="#ffa205"/>
<circle cx="295.50" cy="481.12" r="2.70" fill="#ffa205"/>
<circle cx="233.10" cy="488.93" r="2.70" fill="#ffa205"/>
<circle cx="240.90" cy="488.93" r="2.70" fill="#ffa205"/>
<circle cx="248.70" cy="488.93" r="2.70" fill="#ffa205"/>
<circle cx="256.50" cy="488.93" r="2.70" fill="#ffa205"/>
<circle cx="264.30" cy="488.93" r="2.70" fill="#ffa205"/>
<circle cx="272.10" cy="488.93" r="2.70" fill="#ffa205"/>
<circle cx="279.90" cy="488.93" r="2.70" fill="#ffa205"/>
<circle cx="287.70" cy="488.93" r="2.70" fill="#ffa205"/>
<circle cx="295.50" cy="488.93" r="2.70" fill="#ffa205"/>
<circle cx="233.10" cy="496.74" r="2.70" fill="#ffa205"/>
<circle cx="240.90" cy="496.74" r="2.70" fill="#ffa205"/>
<circle cx="248.70" cy="496.74" r="2.70" fill="#ffa205"/>
<circle cx="256.50" cy="496.74" r="2.70" fill="#ffa205"/>
<circle cx="264.30" cy="496.74" r="2.70" fill="#f99a0c"/>
<circle cx="272.10" cy="496.74" r="2.70" fill="#f99a0c"/>
<circle cx="279.90" cy="496.74" r="2.70" fill="#ffa205"/>
<circle cx="287.70" cy="496.74" r="2.70" fill="#ffa205"/>
<circle cx="295.50" cy="496.74" r="2.70" fill="#ffa205"/>
<circle cx="233.10" cy="504.54" r="2.70" fill="#f99a0c"/>
<circle cx="240.90" cy="504.54" r="2.70" fill="#ec8619"/>
<circle cx="248.70" cy="504.54" r="2.70" fill="#ffa205"/>
<circle cx="256.50" cy="504.54" r="2.70" fill="#f99a0c"/>
<circle cx="264.30" cy="504.54" r="2.70" fill="#f99a0c"/>
<circle cx="272.10" cy="504.54" r="2.70" fill="#f99a0c"/>
<circle cx="279.90" cy="504.54" r="2.70" fill="#ffa205"/>
<circle cx="287.70" cy="504.54" r="2.70" fill="#ffa205"/>
<circle cx="295.50" cy="504.54" r="2.70" fill="#ffa205"/>
<circle cx="233.10" cy="512.35" r="2.70" fill="#ffa205"/>
<circle cx="240.90" cy="512.35" r="2.70" fill="#ffa205"/>
<circle cx="248.70" cy="512.35" r="2.70" fill="#dc721f"/>
<circle cx="256.50" cy="512.35" r="2.70" fill="#ec8619"/>
<circle cx="264.30" cy="512.35" r="2.70" fill="#f99a0c"/>
<circle cx="272.10" cy="512.35" r="2.70" fill="#ec8619"/>
<circle cx="279.90" cy="512.35" r="2.70" fill="#ffa205"/>
<circle cx="287.70" cy="512.35" r="2.70" fill="#ffa205"/>
<circle cx="295.50" cy="512.35" r="2.70" fill="#ffa205"/>
<circle cx="233.10" cy="520.15" r="2.70" fill="#ffa205"/>
<circle cx="240.90" cy="520.15" r="2.70" fill="#ffa205"/>
<circle cx="248.70" cy="520.15" r="2.70" fill="#ffa205"/>
<circle cx="256.50" cy="520.15" r="2.70" fill="#ffa205"/>
<circle cx="264.30" cy="520.15" r="2.70" fill="#ffa205"/>
<circle cx="272.10" cy="520.15" r="2.70" fill="#ffa205"/>
<circle cx="279.90" cy="520.15" r="2.70" fill="#ffa205"/>
<circle cx="287.70" cy="520.15" r="2.70" fill="#ffa205"/>
<circle cx="295.50" cy="520.15" r="2.70" fill="#ffa205"/>
<circle cx="233.10" cy="527.96" r="2.70" fill="#ffa205"/>
<circle cx="240.90" cy="527.96" r="2.70" fill="#ffa205"/>
<circle cx="248.70" cy="527.96" r="2.70" fill="#ffa205"/>
<circle cx="256.50" cy="527.96" r="2.70" fill="#ffa205"/>
<circle cx="264.30" cy="527.96" r="2.70" fill="#f99a0c"/>
<circle cx="272.10" cy="527.96" r="2.70" fill="#ec8619"/>
<circle cx="279.90" cy="527.96" r="2.70" fill="#ffa205"/>
<circle cx="287.70" cy="527.96" r="2.70" fill="#ffa205"/>
<circle cx="295.50" cy="527.96" r="2.70" fill="#ffa205"/>
<circle cx="233.10" cy="535.77" r="2.70" fill="#ffa205"/>
<circle cx="240.90" cy="535.77" r="2.70" fill="#ffa205"/>
<circle cx="248.70" cy="535.77" r="2.70" fill="#ffa205"/>
<circle cx="256.50" cy="535.77" r="2.70" fill="#ffa205"/>
<circle cx="264.30" cy="535.77" r="2.70" fill="#ffa205"/>
<circle cx="272.10" cy="535.77" r="2.70" fill="#ffa205"/>
<circle cx="279.90" cy="535.77" r="2.70" fill="#ffa205"/>
<circle cx="287.70" cy="535.77" r="2.70" fill="#ffa205"/>
<circle cx="295.50" cy="535.77" r="2.70" fill="#ffa205"/>
<circle cx="233.10" cy="543.57" r="2.70" fill="#f99a0c"/>
<circle cx="240.90" cy="543.57" r="2.70" fill="#ffa205"/>
<circle cx="248.70" cy="543.57" r="2.70" fill="#ec8619"/>
<circle cx="256.50" cy="543.57" r="2.70" fill="#f99a0c"/>
<circle cx="264.30" cy="543.57" r="2.70" fill="#ffa205"/>
<circle cx="272.10" cy="543.57" r="2.70" fill="#ffa205"/>
<circle cx="279.90" cy="543.57" r="2.70" fill="#ffa205"/>
<circle cx="287.70" cy="543.57" r="2.70" fill="#ffa205"/>
<circle cx="295.50" cy="543.57" r="2.70" fill="#ffa205"/>
<circle cx="233.10" cy="551.38" r="2.70" fill="#f99a0c"/>
<circle cx="240.90" cy="551.38" r="2.70" fill="#ffa205"/>
<circle cx="248.70" cy="551.38" r="2.70" fill="#ec8619"/>
<circle cx="256.50" cy="551.38" r="2.70" fill="#f99a0c"/>
<circle cx="264.30" cy="551.38" r="2.70" fill="#ffa205"/>
<circle cx="272.10" cy="551.38" r="2.70" fill="#ffa205"/>
<circle cx="279.90" cy="551.38" r="2.70" fill="#ffa205"/>
<circle cx="287.70" cy="551.38" r="2.70" fill="#ffa205"/>
<circle cx="295.50" cy="551.38" r="2.70" fill="#ffa205"/>
<circle cx="233.10" cy="559.18" r="2.70" fill="#ffa205"/>
<circle cx="240.90" cy="559.18" r="2.70" fill="#ffa205"/>
<circle cx="248.70" cy="559.18" r="2.70" fill="#ffa205"/>
<circle cx="256.50" cy="559.18" r="2.70" fill="#ffa205"/>
<circle cx="264.30" cy="559.18" r="2.70" fill="#ffa205"/>
<circle cx="272.10" cy="559.18" r="2.70" fill="#f99a0c"/>
<circle cx="279.90" cy="559.18" r="2.70" fill="#ffa205"/>
<circle cx="287.70" cy="559.18" r="2.70" fill="#ffa205"/>
<circle cx="295.50" cy="559.18" r="2.70" fill="#ffa205"/>
<circle cx="233.10" cy="566.99" r="2.70" fill="#ec8619"/>
<circle cx="240.90" cy="566.99" r="2.70" fill="#ffa205"/>
<circle cx="248.70" cy="566.99" r="2.70" fill="#f99a0c"/>
<circle cx="256.50" cy="566.99" r="2.70" fill="#ec8619"/>
<circle cx="264.30" cy="566.99" r="2.70" fill="#ffa205"/>
<circle cx="272.10" cy="566.99" r="2.70" fill="#ffa205"/>
<circle cx="279.90" cy="566.99" r="2.70" fill="#ffa205"/>
<circle cx="287.70" cy="566.99" r="2.70" fill="#ffa205"/>
<circle cx="295.50" cy="566.99" r="2.70" fill="#ffa205"/>
<circle cx="233.10" cy="574.80" r="2.70" fill="#ffa205"/>
<circle cx="240.90" cy="574.80" r="2.70" fill="#ffa205"/>
<circle cx="248.70" cy="574.80" r="2.70" fill="#ffa205"/>
<circle cx="256.50" cy="574.80" r="2.70" fill="#ffa205"/>
<circle cx="264.30" cy="574.80" r="2.70" fill="#ffa205"/>
<circle cx="272.10" cy="574.80" r="2.70" fill="#ffa205"/>
<circle cx="279.90" cy="574.80" r="2.70" fill="#ffa205"/>
<circle cx="287.70" cy="574.80" r="2.70" fill="#ffa205"/>
<circle cx="295.50" cy="574.80" r="2.70" fill="#ffa205"/>
<circle cx="233.10" cy="582.60" r="2.70" fill="#ec8619"/>
<circle cx="240.90" cy="582.60" r="2.70" fill="#ffa205"/>
<circle cx="248.70" cy="582.60" r="2.70" fill="#f99a0c"/>
<circle cx="256.50" cy="582.60" r="2.70" fill="#f99a0c"/>
<circle cx="264.30" cy="582.60" r="2.70" fill="#ffa205"/>
<circle cx="272.10" cy="582.60" r="2.70" fill="#ffa205"/>
<circle cx="279.90" cy="582.60" r="2.70" fill="#ffa205"/>
<circle cx="287.70" cy="582.60" r="2.70" fill="#ffa205"/>
<circle cx="295.50" cy="582.60" r="2.70" fill="#ffa205"/>
<circle cx="233.10" cy="590.41" r="2.70" fill="#ffa205"/>
<circle cx="240.90" cy="590.41" r="2.70" fill="#ffa205"/>
<circle cx="248.70" cy="590.41" r="2.70" fill="#ffa205"/>
<circle cx="256.50" cy="590.41" r="2.70" fill="#ffa205"/>
<circle cx="264.30" cy="590.41" r="2.70" fill="#ffa205"/>
<circle cx="272.10" cy="590.41" r="2.70" fill="#dc721f"/>
<circle cx="279.90" cy="590.41" r="2.70" fill="#ffa205"/>
<circle cx="287.70" cy="590.41" r="2.70" fill="#ffa205"/>
<circle cx="295.50" cy="590.41" r="2.70" fill="#ffa205"/>
<circle cx="233.10" cy="598.21" r="2.70" fill="#ffa205"/>
<circle cx="240.90" cy="598.21" r="2.70" fill="#ffa205"/>
<circle cx="248.70" cy="598.21" r="2.70" fill="#ffa205"/>
<circle cx="256.50" cy="598.21" r="2.70" fill="#ffa205"/>
<circle cx="264.30" cy="598.21" r="2.70" fill="#ffa205"/>
<circle cx="272.10" cy="598.21" r="2.70" fill="#ffa205"/>
<circle cx="279.90" cy="598.21" r="2.70" fill="#ffa205"/>
<circle cx="287.70" cy="598.21" r="2.70" fill="#ffa205"/>
<circle cx="295.50" cy="598.21" r="2.70" fill="#ffa205"/>
<circle cx="233.10" cy="606.02" r="2.70" fill="#ffa205"/>
<circle cx="240.90" cy="606.02" r="2.70" fill="#ffa205"/>
<circle cx="248.70" cy="606.02" r="2.70" fill="#f99a0c"/>
<circle cx="256.50" cy="606.02" r="2.70" fill="#ffa205"/>
<circle cx="264.30" cy="606.02" r="2.70" fill="#ffa205"/>
<circle cx="272.10" cy="606.02" r="2.70" fill="#dc721f"/>
<circle cx="279.90" cy="606.02" r="2.70" fill="#ffa205"/>
<circle cx="287.70" cy="606.02" r="2.70" fill="#ffa205"/>
<circle cx="295.50" cy="606.02" r="2.70" fill="#ffa205"/>
<circle cx="233.10" cy="613.83" r="2.70" fill="#ec8619"/>
<circle cx="240.90" cy="613.83" r="2.70" fill="#ec8619"/>
<circle cx="248.70" cy="613.83" r="2.70" fill="#f99a0c"/>
<circle cx="256.50" cy="613.83" r="2.70" fill="#f99a0c"/>
<circle cx="264.30" cy="613.83" r="2.70" fill="#ffa205"/>
<circle cx="272.10" cy="613.83" r="2.70" fill="#d46222"/>
<circle cx="279.90" cy="613.83" r="2.70" fill="#ffa205"/>
<circle cx="287.70" cy="613.83" r="2.70" fill="#ffa205"/>
<circle cx="295.50" cy="613.83" r="2.70" fill="#ffa205"/>
<circle cx="233.10" cy="621.63" r="2.70" fill="#ffa205"/>
<circle cx="240.90" cy="621.63" r="2.70" fill="#ffa205"/>
<circle cx="248.70" cy="621.63" r="2.70" fill="#ffa205"/>
<circle cx="256.50" cy="621.63" r="2.70" fill="#f99a0c"/>
<circle cx="264.30" cy="621.63" r="2.70" fill="#ffa205"/>
<circle cx="272.10" cy="621.63" r="2.70" fill="#f99a0c"/>
<circle cx="279.90" cy="621.63" r="2.70" fill="#ffa205"/>
<circle cx="287.70" cy="621.63" r="2.70" fill="#ffa205"/>
<circle cx="295.50" cy="621.63" r="2.70" fill="#ffa205"/>
<circle cx="233.10" cy="629.44" r="2.70" fill="#ec8619"/>
<circle cx="240.90" cy="629.44" r="2.70" fill="#ffa205"/>
<circle cx="248.70" cy="629.44" r="2.70" fill="#ffa205"/>
<circle cx="256.50" cy="629.44" r="2.70" fill="#ffa205"/>
<circle cx="264.30" cy="629.44" r="2.70" fill="#ffa205"/>
<circle cx="272.10" cy="629.44" r="2.70" fill="#f99a0c"/>
<circle cx="279.90" cy="629.44" r="2.70" fill="#ffa205"/>
<circle cx="287.70" cy="629.44" r="2.70" fill="#ffa205"/>
<circle cx="295.50" cy="629.44" r="2.70" fill="#ffa205"/>
<circle cx="233.10" cy="637.24" r="2.70" fill="#ffa205"/>
<circle cx="240.90" cy="637.24" r="2.70" fill="#ffa205"/>
<circle cx="248.70" cy="637.24" r="2.70" fill="#ffa205"/>
<circle cx="256.50" cy="637.24" r="2.70" fill="#ffa205"/>
<circle cx="264.30" cy="637.24" r="2.70" fill="#ffa205"/>
<circle cx="272.10" cy="637.24" r="2.70" fill="#ec8619"/>
<circle cx="279.90" cy="637.24" r="2.70" fill="#ffa205"/>
<circle cx="287.70" cy="637.24" r="2.70" fill="#ffa205"/>
<circle cx="295.50" cy="637.24" r="2.70" fill="#ffa205"/>
<circle cx="233.10" cy="645.05" r="2.70" fill="#ffa205"/>
<circle cx="240.90" cy="645.05" r="2.70" fill="#ffa205"/>
<circle cx="248.70" cy="645.05" r="2.70" fill="#ffa205"/>
<circle cx="256.50" cy="645.05" r="2.70" fill="#ffa205"/>
<circle cx="264.30" cy="645.05" r="2.70" fill="#ffa205"/>
<circle cx="272.10" cy="645.05" r="2.70" fill="#ffa205"/>
<circle cx="279.90" cy="645.05" r="2.70" fill="#ffa205"/>
<circle cx="287.70" cy="645.05" r="2.70" fill="#ffa205"/>
<circle cx="295.50" cy="645.05" r="2.70" fill="#ffa205"/>
<circle cx="233.10" cy="652.86" r="2.70" fill="#f99a0c"/>
<circle cx="240.90" cy="652.86" r="2.70" fill="#f99a0c"/>
<circle cx="248.70" cy="652.86" r="2.70" fill="#ffa205"/>
<circle cx="256.50" cy="652.86" r="2.70" fill="#ffa205"/>
<circle cx="264.30" cy="652.86" r="2.70" fill="#ffa205"/>
<circle cx="272.10" cy="652.86" r="2.70" fill="#ec8619"/>
<circle cx="279.90" cy="652.86" r="2.70" fill="#ffa205"/>
<circle cx="287.70" cy="652.86" r="2.70" fill="#ffa205"/>
<circle cx="295.50" cy="652.86" r="2.70" fill="#ffa205"/>
<circle cx="233.10" cy="660.66" r="2.70" fill="#ec8619"/>
<circle cx="240.90" cy="660.66" r="2.70" fill="#ffa205"/>
<circle cx="248.70" cy="660.66" r="2.70" fill="#ffa205"/>
<circle cx="256.50" cy="660.66" r="2.70" fill="#ffa205"/>
<circle cx="264.30" cy="660.66" r="2.70" fill="#ffa205"/>
<circle cx="272.10" cy="660.66" r="2.70" fill="#f99a0c"/>
<circle cx="279.90" cy="660.66" r="2.70" fill="#ffa205"/>
<circle cx="287.70" cy="660.66" r="2.70" fill="#ffa205"/>
<circle cx="295.50" cy="660.66" r="2.70" fill="#ffa205"/>
<circle cx="233.10" cy="668.47" r="2.70" fill="#ffa205"/>
<circle cx="240.90" cy="668.47" r="2.70" fill="#ffa205"/>
<circle cx="248.70" cy="668.47" r="2.70" fill="#ffa205"/>
<circle cx="256.50" cy="668.47" r="2.70" fill="#ec8619"/>
<circle cx="264.30" cy="668.47" r="2.70" fill="#ffa205"/>
<circle cx="272.10" cy="668.47" r="2.70" fill="#ec8619"/>
<circle cx="279.90" cy="668.47" r="2.70" fill="#ffa205"/>
<circle cx="287.70" cy="668.47" r="2.70" fill="#ffa205"/>
<circle cx="295.50" cy="668.47" r="2.70" fill="#ffa205"/>
<circle cx="233.10" cy="676.27" r="2.70" fill="#ffa205"/>
<circle cx="240.90" cy="676.27" r="2.70" fill="#ffa205"/>
<circle cx="248.70" cy="676.27" r="2.70" fill="#f99a0c"/>
<circle cx="256.50" cy="676.27" r="2.70" fill="#f99a0c"/>
<circle cx="264.30" cy="676.27" r="2.70" fill="#ffa205"/>
<circle cx="272.10" cy="676.27" r="2.70" fill="#ec8619"/>
<circle cx="279.90" cy="676.27" r="2.70" fill="#ffa205"/>
<circle cx="287.70" cy="676.27" r="2.70" fill="#ffa205"/>
<circle cx="295.50" cy="676.27" r="2.70" fill="#ffa205"/>
<circle cx="233.10" cy="684.08" r="2.70" fill="#ffa205"/>
<circle cx="240.90" cy="684.08" r="2.70" fill="#ffa205"/>
<circle cx="248.70" cy="684.08" r="2.70" fill="#f99a0c"/>
<circle cx="256.50" cy="684.08" r="2.70" fill="#f99a0c"/>
<circle cx="264.30" cy="684.08" r="2.70" fill="#ffa205"/>
<circle cx="272.10" cy="684.08" r="2.70" fill="#dc721f"/>
<circle cx="279.90" cy="684.08" r="2.70" fill="#ffa205"/>
<circle cx="287.70" cy="684.08" r="2.70" fill="#ffa205"/>
<circle cx="295.50" cy="684.08" r="2.70" fill="#ffa205"/>
<circle cx="233.10" cy="691.89" r="2.70" fill="#d46222"/>
<circle cx="240.90" cy="691.89" r="2.70" fill="#ffa205"/>
<circle cx="248.70" cy="691.89" r="2.70" fill="#f99a0c"/>
<circle cx="256.50" cy="691.89" r="2.70" fill="#f99a0c"/>
<circle cx="264.30" cy="691.89" r="2.70" fill="#ffa205"/>
<circle cx="272.10" cy="691.89" r="2.70" fill="#ec8619"/>
<circle cx="279.90" cy="691.89" r="2.70" fill="#ffa205"/>
<circle cx="287.70" cy="691.89" r="2.70" fill="#ffa205"/>
<circle cx="295.50" cy="691.89" r="2.70" fill="#ffa205"/>
<circle cx="233.10" cy="699.69" r="2.70" fill="#f99a0c"/>
<circle cx="240.90" cy="699.69" r="2.70" fill="#ffa205"/>
<circle cx="248.70" cy="699.69" r="2.70" fill="#ffa205"/>
<circle cx="256.50" cy="699.69" r="2.70" fill="#ffa205"/>
<circle cx="264.30" cy="699.69" r="2.70" fill="#ffa205"/>
<circle cx="272.10" cy="699.69" r="2.70" fill="#ffa205"/>
<circle cx="279.90" cy="699.69" r="2.70" fill="#ffa205"/>
<circle cx="287.70" cy="699.69" r="2.70" fill="#ffa205"/>
<circle cx="295.50" cy="699.69" r="2.70" fill="#ffa205"/>
<circle cx="233.10" cy="707.50" r="2.70" fill="#f99a0c"/>
<circle cx="240.90" cy="707.50" r="2.70" fill="#ffa205"/>
<circle cx="248.70" cy="707.50" r="2.70" fill="#ffa205"/>
<circle cx="256.50" cy="707.50" r="2.70" fill="#ffa205"/>
<circle cx="264.30" cy="707.50" r="2.70" fill="#ffa205"/>
<circle cx="272.10" cy="707.50" r="2.70" fill="#ec8619"/>
<circle cx="279.90" cy="707.50" r="2.70" fill="#ffa205"/>
<circle cx="287.70" cy="707.50" r="2.70" fill="#ffa205"/>
<circle cx="295.50" cy="707.50" r="2.70" fill="#ffa205"/>
<circle cx="233.10" cy="715.30" r="2.70" fill="#ec8619"/>
<circle cx="240.90" cy="715.30" r="2.70" fill="#f99a0c"/>
<circle cx="248.70" cy="715.30" r="2.70" fill="#ffa205"/>
<circle cx="256.50" cy="715.30" r="2.70" fill="#ffa205"/>
<circle cx="264.30" cy="715.30" r="2.70" fill="#ffa205"/>
<circle cx="272.10" cy="715.30" r="2.70" fill="#ec8619"/>
<circle cx="279.90" cy="715.30" r="2.70" fill="#ffa205"/>
<circle cx="287.70" cy="715.30" r="2.70" fill="#ffa205"/>
<circle cx="295.50" cy="715.30" r="2.70" fill="#ffa205"/>
<circle cx="233.10" cy="723.11" r="2.70" fill="#ffa205"/>
<circle cx="240.90" cy="723.11" r="2.70" fill="#ffa205"/>
<circle cx="248.70" cy="723.11" r="2.70" fill="#ffa205"/>
<circle cx="256.50" cy="723.11" r="2.70" fill="#ffa205"/>
<circle cx="264.30" cy="723.11" r="2.70" fill="#ffa205"/>
<circle cx="272.10" cy="723.11" r="2.70" fill="#ffa205"/>
<circle cx="279.90" cy="723.11" r="2.70" fill="#ffa205"/>
<circle cx="287.70" cy="723.11" r="2.70" fill="#ffa205"/>
<circle cx="295.50" cy="723.11" r="2.70" fill="#ffa205"/>
<circle cx="233.10" cy="730.92" r="2.70" fill="#ffa205"/>
<circle cx="240.90" cy="730.92" r="2.70" fill="#ffa205"/>
<circle cx="248.70" cy="730.92" r="2.70" fill="#ec8619"/>
<circle cx="256.50" cy="730.92" r="2.70" fill="#ffa205"/>
<circle cx="264.30" cy="730.92" r="2.70" fill="#ffa205"/>
<circle cx="272.10" cy="730.92" r="2.70" fill="#ffa205"/>
<circle cx="279.90" cy="730.92" r="2.70" fill="#ffa205"/>
<circle cx="287.70" cy="730.92" r="2.70" fill="#ffa205"/>
<circle cx="295.50" cy="730.92" r="2.70" fill="#ffa205"/>
<circle cx="233.10" cy="738.72" r="2.70" fill="#ec8619"/>
<circle cx="240.90" cy="738.72" r="2.70" fill="#ffa205"/>
<circle cx="248.70" cy="738.72" r="2.70" fill="#ffa205"/>
<circle cx="256.50" cy="738.72" r="2.70" fill="#ffa205"/>
<circle cx="264.30" cy="738.72" r="2.70" fill="#ffa205"/>
<circle cx="272.10" cy="738.72" r="2.70" fill="#ffa205"/>
<circle cx="279.90" cy="738.72" r="2.70" fill="#ffa205"/>
<circle cx="287.70" cy="738.72" r="2.70" fill="#ffa205"/>
<circle cx="295.50" cy="738.72" r="2.70" fill="#ffa205"/>
<circle cx="233.10" cy="746.53" r="2.70" fill="#dc721f"/>
<circle cx="240.90" cy="746.53" r="2.70" fill="#ffa205"/>
<circle cx="248.70" cy="746.53" r="2.70" fill="#ffa205"/>
<circle cx="256.50" cy="746.53" r="2.70" fill="#ffa205"/>
<circle cx="264.30" cy="746.53" r="2.70" fill="#ffa205"/>
<circle cx="272.10" cy="746.53" r="2.70" fill="#ec8619"/>
<circle cx="279.90" cy="746.53" r="2.70" fill="#ffa205"/>
<circle cx="287.70" cy="746.53" r="2.70" fill="#ffa205"/>
<circle cx="295.50" cy="746.53" r="2.70" fill="#ffa205"/>
<circle cx="233.10" cy="754.33" r="2.70" fill="#d46222"/>
<circle cx="240.90" cy="754.33" r="2.70" fill="#ffa205"/>
<circle cx="248.70" cy="754.33" r="2.70" fill="#ffa205"/>
<circle cx="256.50" cy="754.33" r="2.70" fill="#ffa205"/>
<circle cx="264.30" cy="754.33" r="2.70" fill="#ffa205"/>
<circle cx="272.10" cy="754.33" r="2.70" fill="#dc721f"/>
<circle cx="279.90" cy="754.33" r="2.70" fill="#ffa205"/>
<circle cx="287.70" cy="754.33" r="2.70" fill="#ffa205"/>
<circle cx="295.50" cy="754.33" r="2.70" fill="#ffa205"/>
<circle cx="233.10" cy="762.14" r="2.70" fill="#f99a0c"/>
<circle cx="240.90" cy="762.14" r="2.70" fill="#ffa205"/>
<circle cx="248.70" cy="762.14" r="2.70" fill="#ffa205"/>
<circle cx="256.50" cy="762.14" r="2.70" fill="#f99a0c"/>
<circle cx="264.30" cy="762.14" r="2.70" fill="#ffa205"/>
<circle cx="272.10" cy="762.14" r="2.70" fill="#ffa205"/>
<circle cx="279.90" cy="762.14" r="2.70" fill="#ffa205"/>
<circle cx="287.70" cy="762.14" r="2.70" fill="#ffa205"/>
<circle cx="295.50" cy="762.14" r="2.70" fill="#ffa205"/>
<circle cx="233.10" cy="769.95" r="2.70" fill="#ffa205"/>
<circle cx="240.90" cy="769.95" r="2.70" fill="#ffa205"/>
<circle cx="248.70" cy="769.95" r="2.70" fill="#ec8619"/>
<circle cx="256.50" cy="769.95" r="2.70" fill="#ffa205"/>
<circle cx="264.30" cy="769.95" r="2.70" fill="#ffa205"/>
<circle cx="272.10" cy="769.95" r="2.70" fill="#dc721f"/>
<circle cx="279.90" cy="769.95" r="2.70" fill="#ffa205"/>
<circle cx="287.70" cy="769.95" r="2.70" fill="#ffa205"/>
<circle cx="295.50" cy="769.95" r="2.70" fill="#ffa205"/>
<circle cx="233.10" cy="777.75" r="2.70" fill="#ffa205"/>
<circle cx="240.90" cy="777.75" r="2.70" fill="#ffa205"/>
<circle cx="248.70" cy="777.75" r="2.70" fill="#ffa205"/>
<circle cx="256.50" cy="777.75" r="2.70" fill="#ffa205"/>
<circle cx="264.30" cy="777.75" r="2.70" fill="#ffa205"/>
<circle cx="272.10" cy="777.75" r="2.70" fill="#ec8619"/>
<circle cx="279.90" cy="777.75" r="2.70" fill="#ffa205"/>
<circle cx="287.70" cy="777.75" r="2.70" fill="#ffa205"/>
<circle cx="295.50" cy="777.75" r="2.70" fill="#ffa205"/>
<circle cx="233.10" cy="785.56" r="2.70" fill="#dc721f"/>
<circle cx="240.90" cy="785.56" r="2.70" fill="#f99a0c"/>
<circle cx="248.70" cy="785.56" r="2.70" fill="#f99a0c"/>
<circle cx="256.50" cy="785.56" r="2.70" fill="#ffa205"/>
<circle cx="264.30" cy="785.56" r="2.70" fill="#ffa205"/>
<circle cx="272.10" cy="785.56" r="2.70" fill="#dc721f"/>
<circle cx="279.90" cy="785.56" r="2.70" fill="#ffa205"/>
<circle cx="287.70" cy="785.56" r="2.70" fill="#ffa205"/>
<circle cx="295.50" cy="785.56" r="2.70" fill="#ffa205"/>
<circle cx="233.10" cy="793.36" r="2.70" fill="#ffa205"/>
<circle cx="240.90" cy="793.36" r="2.70" fill="#ffa205"/>
<circle cx="248.70" cy="793.36" r="2.70" fill="#ffa205"/>
<circle cx="256.50" cy="793.36" r="2.70" fill="#ffa205"/>
<circle cx="264.30" cy="793.36" r="2.70" fill="#ffa205"/>
<circle cx="272.10" cy="793.36" r="2.70" fill="#ec8619"/>
<circle cx="279.90" cy="793.36" r="2.70" fill="#ffa205"/>
<circle cx="287.70" cy="793.36" r="2.70" fill="#ffa205"/>
<circle cx="295.50" cy="793.36" r="2.70" fill="#ffa205"/>
<circle cx="233.10" cy="801.17" r="2.70" fill="#ec8619"/>
<circle cx="240.90" cy="801.17" r="2.70" fill="#ffa205"/>
<circle cx="248.70" cy="801.17" r="2.70" fill="#ec8619"/>
<circle cx="256.50" cy="801.17" r="2.70" fill="#ffa205"/>
<circle cx="264.30" cy="801.17" r="2.70" fill="#ffa205"/>
<circle cx="272.10" cy="801.17" r="2.70" fill="#ec8619"/>
<circle cx="279.90" cy="801.17" r="2.70" fill="#ffa205"/>
<circle cx="287.70" cy="801.17" r="2.70" fill="#ffa205"/>
<circle cx="295.50" cy="801.17" r="2.70" fill="#ffa205"/>
<circle cx="233.10" cy="808.98" r="2.70" fill="#ffa205"/>
<circle cx="240.90" cy="808.98" r="2.27" fill="#ffa205"/>
<circle cx="248.70" cy="808.98" r="2.70" fill="#ffa205"/>
<circle cx="256.50" cy="808.98" r="2.70" fill="#ffa205"/>
<circle cx="264.30" cy="808.98" r="2.70" fill="#ffa205"/>
<circle cx="272.10" cy="808.98" r="2.70" fill="#ffa205"/>
<circle cx="279.90" cy="808.98" r="2.70" fill="#ffa205"/>
<circle cx="287.70" cy="808.98" r="2.70" fill="#ffa205"/>
<circle cx="295.50" cy="808.98" r="2.70" fill="#ffa205"/>
<circle cx="233.10" cy="816.78" r="2.70" fill="#d46222"/>
<circle cx="240.90" cy="816.78" r="2.70" fill="#ffa205"/>
<circle cx="248.70" cy="816.78" r="2.70" fill="#f99a0c"/>
<circle cx="256.50" cy="816.78" r="2.70" fill="#ffa205"/>
<circle cx="264.30" cy="816.78" r="2.70" fill="#ffa205"/>
<circle cx="272.10" cy="816.78" r="2.70" fill="#f99a0c"/>
<circle cx="279.90" cy="816.78" r="2.70" fill="#ffa205"/>
<circle cx="287.70" cy="816.78" r="2.70" fill="#ffa205"/>
<circle cx="295.50" cy="816.78" r="2.70" fill="#ffa205"/>
<circle cx="233.10" cy="824.59" r="2.70" fill="#ffa205"/>
<circle cx="240.90" cy="824.59" r="2.70" fill="#ffa205"/>
<circle cx="248.70" cy="824.59" r="2.70" fill="#ffa205"/>
<circle cx="256.50" cy="824.59" r="3.24" fill="#ec8619"/>
<circle cx="264.30" cy="824.59" r="2.70" fill="#ffa205"/>
<circle cx="272.10" cy="824.59" r="2.70" fill="#ffa205"/>
<circle cx="279.90" cy="824.59" r="2.70" fill="#ffa205"/>
<circle cx="287.70" cy="824.59" r="2.70" fill="#ffa205"/>
<circle cx="295.50" cy="824.59" r="2.70" fill="#ffa205"/>
<circle cx="233.10" cy="832.39" r="2.70" fill="#ec8619"/>
<circle cx="240.90" cy="832.39" r="2.70" fill="#ffa205"/>
<circle cx="248.70" cy="832.39" r="2.70" fill="#ffa205"/>
<circle cx="256.50" cy="832.39" r="2.70" fill="#ffa205"/>
<circle cx="264.30" cy="832.39" r="2.70" fill="#ffa205"/>
<circle cx="272.10" cy="832.39" r="2.70" fill="#f99a0c"/>
<circle cx="279.90" cy="832.39" r="2.70" fill="#ffa205"/>
<circle cx="287.70" cy="832.39" r="2.70" fill="#ffa205"/>
<circle cx="295.50" cy="832.39" r="2.70" fill="#ffa205"/>
<line x1="227.10" y1="449.90" x2="228.70" y2="449.90" stroke="#333" stroke-width="0.75"/>
<text x="225.70" y="452.70" text-anchor="end" font-size="7.77">gland development</text>
<line x1="227.10" y1="457.71" x2="228.70" y2="457.71" stroke="#333" stroke-width="0.75"/>
<text x="225.70" y="460.50" text-anchor="end" font-size="7.77">extrinsic apoptotic signaling pathway</text>
<line x1="227.10" y1="465.51" x2="228.70" y2="465.51" stroke="#333" stroke-width="0.75"/>
<text x="225.70" y="468.31" text-anchor="end" font-size="7.77">regulation of epithelial cell proliferation</text>
<line x1="227.10" y1="473.32" x2="228.70" y2="473.32" stroke="#333" stroke-width="0.75"/>
<text x="225.70" y="476.12" text-anchor="end" font-size="7.77">epithelial cell proliferation</text>
<line x1="227.10" y1="481.12" x2="228.70" y2="481.12" stroke="#333" stroke-width="0.75"/>
<text x="225.70" y="483.92" text-anchor="end" font-size="7.77">muscle cell proliferation</text>
<line x1="227.10" y1="488.93" x2="228.70" y2="488.93" stroke="#333" stroke-width="0.75"/>
<text x="225.70" y="491.73" text-anchor="end" font-size="7.77">regulation of carbohydrate metabolic process</text>
<line x1="227.10" y1="496.74" x2="228.70" y2="496.74" stroke="#333" stroke-width="0.75"/>
<text x="225.70" y="499.53" text-anchor="end" font-size="7.77">rhythmic process</text>
<line x1="227.10" y1="504.54" x2="228.70" y2="504.54" stroke="#333" stroke-width="0.75"/>
<text x="225.70" y="507.34" text-anchor="end" font-size="7.77">response to nutrient levels</text>
<line x1="227.10" y1="512.35" x2="228.70" y2="512.35" stroke="#333" stroke-width="0.75"/>
<text x="225.70" y="515.15" text-anchor="end" font-size="7.77">regulation of miRNA metabolic process</text>
<line x1="227.10" y1="520.15" x2="228.70" y2="520.15" stroke="#333" stroke-width="0.75"/>
<text x="225.70" y="522.95" text-anchor="end" font-size="7.77">cellular response to insulin stimulus</text>
<line x1="227.10" y1="527.96" x2="228.70" y2="527.96" stroke="#333" stroke-width="0.75"/>
<text x="225.70" y="530.76" text-anchor="end" font-size="7.77">response to insulin</text>
<line x1="227.10" y1="535.77" x2="228.70" y2="535.77" stroke="#333" stroke-width="0.75"/>
<text x="225.70" y="538.56" text-anchor="end" font-size="7.77">protein localization to nucleus</text>
<line x1="227.10" y1="543.57" x2="228.70" y2="543.57" stroke="#333" stroke-width="0.75"/>
<text x="225.70" y="546.37" text-anchor="end" font-size="7.77">cellular response to environmental stimulus</text>
<line x1="227.10" y1="551.38" x2="228.70" y2="551.38" stroke="#333" stroke-width="0.75"/>
<text x="225.70" y="554.18" text-anchor="end" font-size="7.77">cellular response to abiotic stimulus</text>
<line x1="227.10" y1="559.18" x2="228.70" y2="559.18" stroke="#333" stroke-width="0.75"/>
<text x="225.70" y="561.98" text-anchor="end" font-size="7.77">cellular response to peptide</text>
<line x1="227.10" y1="566.99" x2="228.70" y2="566.99" stroke="#333" stroke-width="0.75"/>
<text x="225.70" y="569.79" text-anchor="end" font-size="7.77">peptidyl−tyrosine phosphorylation</text>
<line x1="227.10" y1="574.80" x2="228.70" y2="574.80" stroke="#333" stroke-width="0.75"/>
<text x="225.70" y="577.59" text-anchor="end" font-size="7.77">regulation of developmental growth</text>
<line x1="227.10" y1="582.60" x2="228.70" y2="582.60" stroke="#333" stroke-width="0.75"/>
<text x="225.70" y="585.40" text-anchor="end" font-size="7.77">peptidyl−tyrosine modification</text>
<line x1="227.10" y1="590.41" x2="228.70" y2="590.41" stroke="#333" stroke-width="0.75"/>
<text x="225.70" y="593.21" text-anchor="end" font-size="7.77">positive regulation of proteolysis</text>
<line x1="227.10" y1="598.21" x2="228.70" y2="598.21" stroke="#333" stroke-width="0.75"/>
<text x="225.70" y="601.01" text-anchor="end" font-size="7.77">response to UV</text>
<line x1="227.10" y1="606.02" x2="228.70" y2="606.02" stroke="#333" stroke-width="0.75"/>
<text x="225.70" y="608.82" text-anchor="end" font-size="7.77">regulation of small molecule metabolic process</text>
<line x1="227.10" y1="613.83" x2="228.70" y2="613.83" stroke="#333" stroke-width="0.75"/>
<text x="225.70" y="616.62" text-anchor="end" font-size="7.77">positive regulation of transferase activity</text>
<line x1="227.10" y1="621.63" x2="228.70" y2="621.63" stroke="#333" stroke-width="0.75"/>
<text x="225.70" y="624.43" text-anchor="end" font-size="7.77">cellular response to peptide hormone stimulus</text>
<line x1="227.10" y1="629.44" x2="228.70" y2="629.44" stroke="#333" stroke-width="0.75"/>
<text x="225.70" y="632.24" text-anchor="end" font-size="7.77">response to radiation</text>
<line x1="227.10" y1="637.24" x2="228.70" y2="637.24" stroke="#333" stroke-width="0.75"/>
<text x="225.70" y="640.04" text-anchor="end" font-size="7.77">response to peptide hormone</text>
<line x1="227.10" y1="645.05" x2="228.70" y2="645.05" stroke="#333" stroke-width="0.75"/>
<text x="225.70" y="647.85" text-anchor="end" font-size="7.77">cellular response to radiation</text>
<line x1="227.10" y1="652.86" x2="228.70" y2="652.86" stroke="#333" stroke-width="0.75"/>
<text x="225.70" y="655.65" text-anchor="end" font-size="7.77">intrinsic apoptotic signaling pathway in response to DNA damage</text>
<line x1="227.10" y1="660.66" x2="228.70" y2="660.66" stroke="#333" stroke-width="0.75"/>
<text x="225.70" y="663.46" text-anchor="end" font-size="7.77">response to light stimulus</text>
<line x1="227.10" y1="668.47" x2="228.70" y2="668.47" stroke="#333" stroke-width="0.75"/>
<text x="225.70" y="671.27" text-anchor="end" font-size="7.77">negative regulation of apoptotic signaling pathway</text>
<line x1="227.10" y1="676.27" x2="228.70" y2="676.27" stroke="#333" stroke-width="0.75"/>
<text x="225.70" y="679.07" text-anchor="end" font-size="7.77">neuron apoptotic process</text>
<line x1="227.10" y1="684.08" x2="228.70" y2="684.08" stroke="#333" stroke-width="0.75"/>
<text x="225.70" y="686.88" text-anchor="end" font-size="7.77">regulation of apoptotic signaling pathway</text>
<line x1="227.10" y1="691.89" x2="228.70" y2="691.89" stroke="#333" stroke-width="0.75"/>
<text x="225.70" y="694.68" text-anchor="end" font-size="7.77">phosphatidylinositol 3−kinase/protein kinase B signal transduction</text>
<line x1="227.10" y1="699.69" x2="228.70" y2="699.69" stroke="#333" stroke-width="0.75"/>
<text x="225.70" y="702.49" text-anchor="end" font-size="7.77">cellular response to oxidative stress</text>
<line x1="227.10" y1="707.50" x2="228.70" y2="707.50" stroke="#333" stroke-width="0.75"/>
<text x="225.70" y="710.30" text-anchor="end" font-size="7.77">regulation of neuron apoptotic process</text>
<line x1="227.10" y1="715.30" x2="228.70" y2="715.30" stroke="#333" stroke-width="0.75"/>
<text x="225.70" y="718.10" text-anchor="end" font-size="7.77">response to decreased oxygen levels</text>
<line x1="227.10" y1="723.11" x2="228.70" y2="723.11" stroke="#333" stroke-width="0.75"/>
<text x="225.70" y="725.91" text-anchor="end" font-size="7.77">cellular senescence</text>
<line x1="227.10" y1="730.92" x2="228.70" y2="730.92" stroke="#333" stroke-width="0.75"/>
<text x="225.70" y="733.71" text-anchor="end" font-size="7.77">regulation of reactive oxygen species metabolic process</text>
<line x1="227.10" y1="738.72" x2="228.70" y2="738.72" stroke="#333" stroke-width="0.75"/>
<text x="225.70" y="741.52" text-anchor="end" font-size="7.77">response to oxidative stress</text>
<line x1="227.10" y1="746.53" x2="228.70" y2="746.53" stroke="#333" stroke-width="0.75"/>
<text x="225.70" y="749.33" text-anchor="end" font-size="7.77">response to hypoxia</text>
<line x1="227.10" y1="754.33" x2="228.70" y2="754.33" stroke="#333" stroke-width="0.75"/>
<text x="225.70" y="757.13" text-anchor="end" font-size="7.77">response to steroid hormone</text>
<line x1="227.10" y1="762.14" x2="228.70" y2="762.14" stroke="#333" stroke-width="0.75"/>
<text x="225.70" y="764.94" text-anchor="end" font-size="7.77">cellular response to chemical stress</text>
<line x1="227.10" y1="769.95" x2="228.70" y2="769.95" stroke="#333" stroke-width="0.75"/>
<text x="225.70" y="772.74" text-anchor="end" font-size="7.77">intrinsic apoptotic signaling pathway</text>
<line x1="227.10" y1="777.75" x2="228.70" y2="777.75" stroke="#333" stroke-width="0.75"/>
<text x="225.70" y="780.55" text-anchor="end" font-size="7.77">response to ionizing radiation</text>
<line x1="227.10" y1="785.56" x2="228.70" y2="785.56" stroke="#333" stroke-width="0.75"/>
<text x="225.70" y="788.36" text-anchor="end" font-size="7.77">response to oxygen levels</text>
<line x1="227.10" y1="793.36" x2="228.70" y2="793.36" stroke="#333" stroke-width="0.75"/>
<text x="225.70" y="796.16" text-anchor="end" font-size="7.77">response to gamma radiation</text>
<line x1="227.10" y1="801.17" x2="228.70" y2="801.17" stroke="#333" stroke-width="0.75"/>
<text x="225.70" y="803.97" text-anchor="end" font-size="7.77">reactive oxygen species metabolic process</text>
<line x1="227.10" y1="808.98" x2="228.70" y2="808.98" stroke="#333" stroke-width="0.75"/>
<text x="225.70" y="811.77" text-anchor="end" font-size="7.77">signal transduction in response to DNA damage</text>
<line x1="227.10" y1="816.78" x2="228.70" y2="816.78" stroke="#333" stroke-width="0.75"/>
<text x="225.70" y="819.58" text-anchor="end" font-size="7.77">response to reactive oxygen species</text>
<line x1="227.10" y1="824.59" x2="228.70" y2="824.59" stroke="#333" stroke-width="0.75"/>
<text x="225.70" y="827.39" text-anchor="end" font-size="7.77">positive regulation of DNA metabolic process</text>
<line x1="227.10" y1="832.39" x2="228.70" y2="832.39" stroke="#333" stroke-width="0.75"/>
<text x="225.70" y="835.19" text-anchor="end" font-size="7.77">cellular response to reactive oxygen species</text>
<line x1="233.10" y1="837.10" x2="233.10" y2="838.70" stroke="#555" stroke-width="0.5"/>
<text transform="translate(236.20,843.60) rotate(-45)" text-anchor="end" font-size="7.77">Oligodendrocyte</text>
<line x1="240.90" y1="837.10" x2="240.90" y2="838.70" stroke="#555" stroke-width="0.5"/>
<text transform="translate(244.00,843.60) rotate(-45)" text-anchor="end" font-size="7.77">Astrocyte</text>
<line x1="248.70" y1="837.10" x2="248.70" y2="838.70" stroke="#555" stroke-width="0.5"/>
<text transform="translate(251.80,843.60) rotate(-45)" text-anchor="end" font-size="7.77">Alpha Cell</text>
<line x1="256.50" y1="837.10" x2="256.50" y2="838.70" stroke="#555" stroke-width="0.5"/>
<text transform="translate(259.60,843.60) rotate(-45)" text-anchor="end" font-size="7.77">Beta Cell</text>
<line x1="264.30" y1="837.10" x2="264.30" y2="838.70" stroke="#555" stroke-width="0.5"/>
<text transform="translate(267.40,843.60) rotate(-45)" text-anchor="end" font-size="7.77">Endothelial Cell</text>
<line x1="272.10" y1="837.10" x2="272.10" y2="838.70" stroke="#555" stroke-width="0.5"/>
<text transform="translate(275.20,843.60) rotate(-45)" text-anchor="end" font-size="7.77">Excitatory Neurons</text>
<line x1="279.90" y1="837.10" x2="279.90" y2="838.70" stroke="#555" stroke-width="0.5"/>
<text transform="translate(283.00,843.60) rotate(-45)" text-anchor="end" font-size="7.77">Macrophage</text>
<line x1="287.70" y1="837.10" x2="287.70" y2="838.70" stroke="#555" stroke-width="0.5"/>
<text transform="translate(290.80,843.60) rotate(-45)" text-anchor="end" font-size="7.77">T Cell</text>
<line x1="295.50" y1="837.10" x2="295.50" y2="838.70" stroke="#555" stroke-width="0.5"/>
<text transform="translate(298.60,843.60) rotate(-45)" text-anchor="end" font-size="7.77">Epithelial Cell</text>
<line x1="303.25" y1="837.10" x2="303.25" y2="838.70" stroke="#555" stroke-width="0.5"/>
<text transform="translate(306.35,843.60) rotate(-45)" text-anchor="end" font-size="7.77">Gini Coefficient</text>
<text x="240.00" y="445.90" font-family="'DejaVu Sans', sans-serif" font-weight="bold" fill="#1b3252" stroke="#1b3252" stroke-width="0.3" font-size="8.4" textLength="56.30" lengthAdjust="spacingAndGlyphs">Upregulated</text>
<defs><linearGradient id="gbB_DN" x1="0" y1="0" x2="0" y2="1"><stop offset="0.00000" stop-color="#6485c0"/><stop offset="0.02000" stop-color="#6485c0"/><stop offset="0.02000" stop-color="#6486c0"/><stop offset="0.04000" stop-color="#6486c0"/><stop offset="0.04000" stop-color="#6486c1"/><stop offset="0.06000" stop-color="#6486c1"/><stop offset="0.06000" stop-color="#6587c1"/><stop offset="0.08000" stop-color="#6587c1"/><stop offset="0.08000" stop-color="#6588c2"/><stop offset="0.10000" stop-color="#6588c2"/><stop offset="0.10000" stop-color="#6588c2"/><stop offset="0.12000" stop-color="#6588c2"/><stop offset="0.12000" stop-color="#6689c2"/><stop offset="0.14000" stop-color="#6689c2"/><stop offset="0.14000" stop-color="#668ac3"/><stop offset="0.16000" stop-color="#668ac3"/><stop offset="0.16000" stop-color="#668ac3"/><stop offset="0.18000" stop-color="#668ac3"/><stop offset="0.18000" stop-color="#668bc4"/><stop offset="0.20000" stop-color="#668bc4"/><stop offset="0.20000" stop-color="#668cc4"/><stop offset="0.22000" stop-color="#668cc4"/><stop offset="0.22000" stop-color="#678cc4"/><stop offset="0.24000" stop-color="#678cc4"/><stop offset="0.24000" stop-color="#678dc5"/><stop offset="0.26000" stop-color="#678dc5"/><stop offset="0.26000" stop-color="#678dc5"/><stop offset="0.28000" stop-color="#678dc5"/><stop offset="0.28000" stop-color="#688ec6"/><stop offset="0.30000" stop-color="#688ec6"/><stop offset="0.30000" stop-color="#688fc6"/><stop offset="0.32000" stop-color="#688fc6"/><stop offset="0.32000" stop-color="#688fc6"/><stop offset="0.34000" stop-color="#688fc6"/><stop offset="0.34000" stop-color="#6890c7"/><stop offset="0.36000" stop-color="#6890c7"/><stop offset="0.36000" stop-color="#6891c7"/><stop offset="0.38000" stop-color="#6891c7"/><stop offset="0.38000" stop-color="#6991c8"/><stop offset="0.40000" stop-color="#6991c8"/><stop offset="0.40000" stop-color="#6992c8"/><stop offset="0.42000" stop-color="#6992c8"/><stop offset="0.42000" stop-color="#6993c8"/><stop offset="0.44000" stop-color="#6993c8"/><stop offset="0.44000" stop-color="#6a93c9"/><stop offset="0.46000" stop-color="#6a93c9"/><stop offset="0.46000" stop-color="#6a94c9"/><stop offset="0.48000" stop-color="#6a94c9"/><stop offset="0.48000" stop-color="#6a95ca"/><stop offset="0.50000" stop-color="#6a95ca"/><stop offset="0.50000" stop-color="#6a95ca"/><stop offset="0.52000" stop-color="#6a95ca"/><stop offset="0.52000" stop-color="#6a96ca"/><stop offset="0.54000" stop-color="#6a96ca"/><stop offset="0.54000" stop-color="#6b97cb"/><stop offset="0.56000" stop-color="#6b97cb"/><stop offset="0.56000" stop-color="#6b97cb"/><stop offset="0.58000" stop-color="#6b97cb"/><stop offset="0.58000" stop-color="#6b98cc"/><stop offset="0.60000" stop-color="#6b98cc"/><stop offset="0.60000" stop-color="#6c98cc"/><stop offset="0.62000" stop-color="#6c98cc"/><stop offset="0.62000" stop-color="#6c99cc"/><stop offset="0.64000" stop-color="#6c99cc"/><stop offset="0.64000" stop-color="#6c9acd"/><stop offset="0.66000" stop-color="#6c9acd"/><stop offset="0.66000" stop-color="#6c9acd"/><stop offset="0.68000" stop-color="#6c9acd"/><stop offset="0.68000" stop-color="#6c9bce"/><stop offset="0.70000" stop-color="#6c9bce"/><stop offset="0.70000" stop-color="#6d9cce"/><stop offset="0.72000" stop-color="#6d9cce"/><stop offset="0.72000" stop-color="#6d9cce"/><stop offset="0.74000" stop-color="#6d9cce"/><stop offset="0.74000" stop-color="#6d9dcf"/><stop offset="0.76000" stop-color="#6d9dcf"/><stop offset="0.76000" stop-color="#6e9ecf"/><stop offset="0.78000" stop-color="#6e9ecf"/><stop offset="0.78000" stop-color="#6e9ed0"/><stop offset="0.80000" stop-color="#6e9ed0"/><stop offset="0.80000" stop-color="#6e9fd0"/><stop offset="0.82000" stop-color="#6e9fd0"/><stop offset="0.82000" stop-color="#6ea0d0"/><stop offset="0.84000" stop-color="#6ea0d0"/><stop offset="0.84000" stop-color="#6ea0d1"/><stop offset="0.86000" stop-color="#6ea0d1"/><stop offset="0.86000" stop-color="#6fa1d1"/><stop offset="0.88000" stop-color="#6fa1d1"/><stop offset="0.88000" stop-color="#6fa1d2"/><stop offset="0.90000" stop-color="#6fa1d2"/><stop offset="0.90000" stop-color="#6fa2d2"/><stop offset="0.92000" stop-color="#6fa2d2"/><stop offset="0.92000" stop-color="#78b2dc"/><stop offset="0.94000" stop-color="#78b2dc"/><stop offset="0.94000" stop-color="#78b2dc"/><stop offset="0.96000" stop-color="#78b2dc"/><stop offset="0.96000" stop-color="#78b2dc"/><stop offset="0.98000" stop-color="#78b2dc"/><stop offset="0.98000" stop-color="#86c8e8"/><stop offset="1.00000" stop-color="#86c8e8"/></linearGradient></defs>
<rect x="447.10" y="445.20" width="8.00" height="389.80" fill="url(#gbB_DN)"/>
<circle cx="381.00" cy="449.10" r="2.40" fill="#80cbe9"/>
<circle cx="388.78" cy="449.10" r="2.40" fill="#74bfe3"/>
<circle cx="396.56" cy="449.10" r="2.40" fill="#80cbe9"/>
<circle cx="404.34" cy="449.10" r="2.40" fill="#80cbe9"/>
<circle cx="412.12" cy="449.10" r="2.40" fill="#66acd8"/>
<circle cx="419.90" cy="449.10" r="2.40" fill="#80cbe9"/>
<circle cx="427.68" cy="449.10" r="2.40" fill="#80cbe9"/>
<circle cx="435.46" cy="449.10" r="2.40" fill="#80cbe9"/>
<circle cx="443.24" cy="449.10" r="2.40" fill="#80cbe9"/>
<circle cx="381.00" cy="456.90" r="2.40" fill="#74bfe3"/>
<circle cx="388.78" cy="456.90" r="2.40" fill="#80cbe9"/>
<circle cx="396.56" cy="456.90" r="2.40" fill="#80cbe9"/>
<circle cx="404.34" cy="456.90" r="2.40" fill="#80cbe9"/>
<circle cx="412.12" cy="456.90" r="2.40" fill="#80cbe9"/>
<circle cx="419.90" cy="456.90" r="2.40" fill="#80cbe9"/>
<circle cx="427.68" cy="456.90" r="2.40" fill="#80cbe9"/>
<circle cx="435.46" cy="456.90" r="2.40" fill="#74bfe3"/>
<circle cx="443.24" cy="456.90" r="2.40" fill="#80cbe9"/>
<circle cx="381.00" cy="464.69" r="2.40" fill="#74bfe3"/>
<circle cx="388.78" cy="464.69" r="2.40" fill="#74bfe3"/>
<circle cx="396.56" cy="464.69" r="2.40" fill="#80cbe9"/>
<circle cx="404.34" cy="464.69" r="2.40" fill="#80cbe9"/>
<circle cx="412.12" cy="464.69" r="2.40" fill="#80cbe9"/>
<circle cx="419.90" cy="464.69" r="2.40" fill="#80cbe9"/>
<circle cx="427.68" cy="464.69" r="2.40" fill="#80cbe9"/>
<circle cx="435.46" cy="464.69" r="2.40" fill="#74bfe3"/>
<circle cx="443.24" cy="464.69" r="2.40" fill="#80cbe9"/>
<circle cx="381.00" cy="472.49" r="2.40" fill="#74bfe3"/>
<circle cx="388.78" cy="472.49" r="2.40" fill="#80cbe9"/>
<circle cx="396.56" cy="472.49" r="2.40" fill="#80cbe9"/>
<circle cx="404.34" cy="472.49" r="2.40" fill="#80cbe9"/>
<circle cx="412.12" cy="472.49" r="2.40" fill="#66acd8"/>
<circle cx="419.90" cy="472.49" r="2.40" fill="#80cbe9"/>
<circle cx="427.68" cy="472.49" r="2.40" fill="#80cbe9"/>
<circle cx="435.46" cy="472.49" r="2.40" fill="#80cbe9"/>
<circle cx="443.24" cy="472.49" r="2.40" fill="#80cbe9"/>
<circle cx="381.00" cy="480.28" r="2.40" fill="#80cbe9"/>
<circle cx="388.78" cy="480.28" r="2.40" fill="#80cbe9"/>
<circle cx="396.56" cy="480.28" r="2.40" fill="#80cbe9"/>
<circle cx="404.34" cy="480.28" r="2.40" fill="#80cbe9"/>
<circle cx="412.12" cy="480.28" r="2.40" fill="#74bfe3"/>
<circle cx="419.90" cy="480.28" r="2.40" fill="#80cbe9"/>
<circle cx="427.68" cy="480.28" r="2.40" fill="#80cbe9"/>
<circle cx="435.46" cy="480.28" r="2.40" fill="#80cbe9"/>
<circle cx="443.24" cy="480.28" r="2.40" fill="#80cbe9"/>
<circle cx="381.00" cy="488.08" r="2.40" fill="#80cbe9"/>
<circle cx="388.78" cy="488.08" r="2.40" fill="#66acd8"/>
<circle cx="396.56" cy="488.08" r="2.40" fill="#80cbe9"/>
<circle cx="404.34" cy="488.08" r="2.40" fill="#80cbe9"/>
<circle cx="412.12" cy="488.08" r="2.40" fill="#80cbe9"/>
<circle cx="419.90" cy="488.08" r="2.40" fill="#80cbe9"/>
<circle cx="427.68" cy="488.08" r="2.40" fill="#80cbe9"/>
<circle cx="435.46" cy="488.08" r="2.40" fill="#66acd8"/>
<circle cx="443.24" cy="488.08" r="2.40" fill="#80cbe9"/>
<circle cx="381.00" cy="495.88" r="2.40" fill="#74bfe3"/>
<circle cx="388.78" cy="495.88" r="2.40" fill="#80cbe9"/>
<circle cx="396.56" cy="495.88" r="2.40" fill="#80cbe9"/>
<circle cx="404.34" cy="495.88" r="2.40" fill="#80cbe9"/>
<circle cx="412.12" cy="495.88" r="2.40" fill="#74bfe3"/>
<circle cx="419.90" cy="495.88" r="2.40" fill="#74bfe3"/>
<circle cx="427.68" cy="495.88" r="2.40" fill="#80cbe9"/>
<circle cx="435.46" cy="495.88" r="2.40" fill="#66acd8"/>
<circle cx="443.24" cy="495.88" r="2.40" fill="#80cbe9"/>
<circle cx="381.00" cy="503.67" r="2.40" fill="#80cbe9"/>
<circle cx="388.78" cy="503.67" r="2.40" fill="#74bfe3"/>
<circle cx="396.56" cy="503.67" r="2.40" fill="#80cbe9"/>
<circle cx="404.34" cy="503.67" r="2.40" fill="#80cbe9"/>
<circle cx="412.12" cy="503.67" r="2.40" fill="#74bfe3"/>
<circle cx="419.90" cy="503.67" r="2.40" fill="#80cbe9"/>
<circle cx="427.68" cy="503.67" r="2.40" fill="#80cbe9"/>
<circle cx="435.46" cy="503.67" r="2.40" fill="#80cbe9"/>
<circle cx="443.24" cy="503.67" r="2.40" fill="#80cbe9"/>
<circle cx="381.00" cy="511.47" r="2.40" fill="#74bfe3"/>
<circle cx="388.78" cy="511.47" r="2.40" fill="#80cbe9"/>
<circle cx="396.56" cy="511.47" r="2.40" fill="#80cbe9"/>
<circle cx="404.34" cy="511.47" r="2.40" fill="#80cbe9"/>
<circle cx="412.12" cy="511.47" r="2.40" fill="#74bfe3"/>
<circle cx="419.90" cy="511.47" r="2.40" fill="#80cbe9"/>
<circle cx="427.68" cy="511.47" r="2.40" fill="#80cbe9"/>
<circle cx="435.46" cy="511.47" r="2.40" fill="#74bfe3"/>
<circle cx="443.24" cy="511.47" r="2.40" fill="#80cbe9"/>
<circle cx="381.00" cy="519.26" r="2.40" fill="#80cbe9"/>
<circle cx="388.78" cy="519.26" r="2.40" fill="#74bfe3"/>
<circle cx="396.56" cy="519.26" r="2.40" fill="#80cbe9"/>
<circle cx="404.34" cy="519.26" r="2.40" fill="#80cbe9"/>
<circle cx="412.12" cy="519.26" r="2.40" fill="#80cbe9"/>
<circle cx="419.90" cy="519.26" r="2.40" fill="#80cbe9"/>
<circle cx="427.68" cy="519.26" r="2.40" fill="#80cbe9"/>
<circle cx="435.46" cy="519.26" r="2.40" fill="#80cbe9"/>
<circle cx="443.24" cy="519.26" r="2.40" fill="#80cbe9"/>
<circle cx="381.00" cy="527.06" r="2.40" fill="#80cbe9"/>
<circle cx="388.78" cy="527.06" r="2.40" fill="#74bfe3"/>
<circle cx="396.56" cy="527.06" r="2.40" fill="#80cbe9"/>
<circle cx="404.34" cy="527.06" r="2.40" fill="#80cbe9"/>
<circle cx="412.12" cy="527.06" r="2.40" fill="#80cbe9"/>
<circle cx="419.90" cy="527.06" r="2.40" fill="#80cbe9"/>
<circle cx="427.68" cy="527.06" r="2.40" fill="#80cbe9"/>
<circle cx="435.46" cy="527.06" r="2.40" fill="#80cbe9"/>
<circle cx="443.24" cy="527.06" r="2.40" fill="#80cbe9"/>
<circle cx="381.00" cy="534.86" r="2.40" fill="#74bfe3"/>
<circle cx="388.78" cy="534.86" r="2.40" fill="#74bfe3"/>
<circle cx="396.56" cy="534.86" r="2.40" fill="#80cbe9"/>
<circle cx="404.34" cy="534.86" r="2.40" fill="#80cbe9"/>
<circle cx="412.12" cy="534.86" r="2.40" fill="#74bfe3"/>
<circle cx="419.90" cy="534.86" r="2.40" fill="#66acd8"/>
<circle cx="427.68" cy="534.86" r="2.40" fill="#80cbe9"/>
<circle cx="435.46" cy="534.86" r="2.40" fill="#74bfe3"/>
<circle cx="443.24" cy="534.86" r="2.40" fill="#80cbe9"/>
<circle cx="381.00" cy="542.65" r="2.40" fill="#80cbe9"/>
<circle cx="388.78" cy="542.65" r="2.40" fill="#66acd8"/>
<circle cx="396.56" cy="542.65" r="2.40" fill="#80cbe9"/>
<circle cx="404.34" cy="542.65" r="2.40" fill="#80cbe9"/>
<circle cx="412.12" cy="542.65" r="2.40" fill="#74bfe3"/>
<circle cx="419.90" cy="542.65" r="2.40" fill="#80cbe9"/>
<circle cx="427.68" cy="542.65" r="2.40" fill="#80cbe9"/>
<circle cx="435.46" cy="542.65" r="2.40" fill="#80cbe9"/>
<circle cx="443.24" cy="542.65" r="2.40" fill="#80cbe9"/>
<circle cx="381.00" cy="550.45" r="2.40" fill="#80cbe9"/>
<circle cx="388.78" cy="550.45" r="2.40" fill="#66acd8"/>
<circle cx="396.56" cy="550.45" r="2.40" fill="#80cbe9"/>
<circle cx="404.34" cy="550.45" r="2.40" fill="#80cbe9"/>
<circle cx="412.12" cy="550.45" r="2.40" fill="#74bfe3"/>
<circle cx="419.90" cy="550.45" r="2.40" fill="#80cbe9"/>
<circle cx="427.68" cy="550.45" r="2.40" fill="#80cbe9"/>
<circle cx="435.46" cy="550.45" r="2.40" fill="#80cbe9"/>
<circle cx="443.24" cy="550.45" r="2.40" fill="#80cbe9"/>
<circle cx="381.00" cy="558.24" r="2.40" fill="#74bfe3"/>
<circle cx="388.78" cy="558.24" r="2.40" fill="#66acd8"/>
<circle cx="396.56" cy="558.24" r="2.40" fill="#80cbe9"/>
<circle cx="404.34" cy="558.24" r="2.40" fill="#80cbe9"/>
<circle cx="412.12" cy="558.24" r="2.40" fill="#80cbe9"/>
<circle cx="419.90" cy="558.24" r="2.40" fill="#80cbe9"/>
<circle cx="427.68" cy="558.24" r="2.40" fill="#80cbe9"/>
<circle cx="435.46" cy="558.24" r="2.40" fill="#80cbe9"/>
<circle cx="443.24" cy="558.24" r="2.40" fill="#80cbe9"/>
<circle cx="381.00" cy="566.04" r="2.40" fill="#74bfe3"/>
<circle cx="388.78" cy="566.04" r="2.40" fill="#74bfe3"/>
<circle cx="396.56" cy="566.04" r="2.40" fill="#80cbe9"/>
<circle cx="404.34" cy="566.04" r="2.40" fill="#80cbe9"/>
<circle cx="412.12" cy="566.04" r="2.40" fill="#66acd8"/>
<circle cx="419.90" cy="566.04" r="2.40" fill="#66acd8"/>
<circle cx="427.68" cy="566.04" r="2.40" fill="#80cbe9"/>
<circle cx="435.46" cy="566.04" r="2.40" fill="#74bfe3"/>
<circle cx="443.24" cy="566.04" r="2.40" fill="#80cbe9"/>
<circle cx="381.00" cy="573.84" r="2.40" fill="#80cbe9"/>
<circle cx="388.78" cy="573.84" r="2.40" fill="#66acd8"/>
<circle cx="396.56" cy="573.84" r="2.40" fill="#80cbe9"/>
<circle cx="404.34" cy="573.84" r="2.40" fill="#80cbe9"/>
<circle cx="412.12" cy="573.84" r="2.40" fill="#80cbe9"/>
<circle cx="419.90" cy="573.84" r="2.40" fill="#80cbe9"/>
<circle cx="427.68" cy="573.84" r="2.40" fill="#80cbe9"/>
<circle cx="435.46" cy="573.84" r="2.40" fill="#80cbe9"/>
<circle cx="443.24" cy="573.84" r="2.40" fill="#80cbe9"/>
<circle cx="381.00" cy="581.63" r="2.40" fill="#74bfe3"/>
<circle cx="388.78" cy="581.63" r="2.40" fill="#74bfe3"/>
<circle cx="396.56" cy="581.63" r="2.40" fill="#80cbe9"/>
<circle cx="404.34" cy="581.63" r="2.40" fill="#80cbe9"/>
<circle cx="412.12" cy="581.63" r="2.40" fill="#80cbe9"/>
<circle cx="419.90" cy="581.63" r="2.40" fill="#80cbe9"/>
<circle cx="427.68" cy="581.63" r="2.40" fill="#80cbe9"/>
<circle cx="435.46" cy="581.63" r="2.40" fill="#66acd8"/>
<circle cx="443.24" cy="581.63" r="2.40" fill="#80cbe9"/>
<circle cx="381.00" cy="589.43" r="2.40" fill="#66acd8"/>
<circle cx="388.78" cy="589.43" r="2.40" fill="#80cbe9"/>
<circle cx="396.56" cy="589.43" r="2.40" fill="#80cbe9"/>
<circle cx="404.34" cy="589.43" r="2.40" fill="#80cbe9"/>
<circle cx="412.12" cy="589.43" r="2.40" fill="#74bfe3"/>
<circle cx="419.90" cy="589.43" r="2.40" fill="#74bfe3"/>
<circle cx="427.68" cy="589.43" r="2.40" fill="#80cbe9"/>
<circle cx="435.46" cy="589.43" r="2.40" fill="#74bfe3"/>
<circle cx="443.24" cy="589.43" r="2.40" fill="#80cbe9"/>
<circle cx="381.00" cy="597.22" r="2.40" fill="#80cbe9"/>
<circle cx="388.78" cy="597.22" r="2.40" fill="#80cbe9"/>
<circle cx="396.56" cy="597.22" r="2.40" fill="#80cbe9"/>
<circle cx="404.34" cy="597.22" r="2.40" fill="#80cbe9"/>
<circle cx="412.12" cy="597.22" r="2.40" fill="#66acd8"/>
<circle cx="419.90" cy="597.22" r="2.40" fill="#80cbe9"/>
<circle cx="427.68" cy="597.22" r="2.40" fill="#80cbe9"/>
<circle cx="435.46" cy="597.22" r="2.40" fill="#5896cb"/>
<circle cx="443.24" cy="597.22" r="2.40" fill="#80cbe9"/>
<circle cx="381.00" cy="605.02" r="2.40" fill="#80cbe9"/>
<circle cx="388.78" cy="605.02" r="2.40" fill="#74bfe3"/>
<circle cx="396.56" cy="605.02" r="2.40" fill="#80cbe9"/>
<circle cx="404.34" cy="605.02" r="2.40" fill="#80cbe9"/>
<circle cx="412.12" cy="605.02" r="2.40" fill="#66acd8"/>
<circle cx="419.90" cy="605.02" r="2.40" fill="#80cbe9"/>
<circle cx="427.68" cy="605.02" r="2.40" fill="#80cbe9"/>
<circle cx="435.46" cy="605.02" r="2.40" fill="#5896cb"/>
<circle cx="443.24" cy="605.02" r="2.40" fill="#80cbe9"/>
<circle cx="381.00" cy="612.82" r="2.40" fill="#80cbe9"/>
<circle cx="388.78" cy="612.82" r="2.40" fill="#80cbe9"/>
<circle cx="396.56" cy="612.82" r="2.40" fill="#80cbe9"/>
<circle cx="404.34" cy="612.82" r="2.40" fill="#80cbe9"/>
<circle cx="412.12" cy="612.82" r="2.40" fill="#80cbe9"/>
<circle cx="419.90" cy="612.82" r="2.40" fill="#80cbe9"/>
<circle cx="427.68" cy="612.82" r="2.40" fill="#80cbe9"/>
<circle cx="435.46" cy="612.82" r="2.40" fill="#80cbe9"/>
<circle cx="443.24" cy="612.82" r="2.40" fill="#80cbe9"/>
<circle cx="381.00" cy="620.61" r="2.40" fill="#80cbe9"/>
<circle cx="388.78" cy="620.61" r="2.40" fill="#80cbe9"/>
<circle cx="396.56" cy="620.61" r="2.40" fill="#80cbe9"/>
<circle cx="404.34" cy="620.61" r="2.40" fill="#80cbe9"/>
<circle cx="412.12" cy="620.61" r="2.40" fill="#74bfe3"/>
<circle cx="419.90" cy="620.61" r="2.40" fill="#80cbe9"/>
<circle cx="427.68" cy="620.61" r="2.40" fill="#80cbe9"/>
<circle cx="435.46" cy="620.61" r="2.40" fill="#74bfe3"/>
<circle cx="443.24" cy="620.61" r="2.40" fill="#80cbe9"/>
<circle cx="381.00" cy="628.41" r="2.40" fill="#66acd8"/>
<circle cx="388.78" cy="628.41" r="2.40" fill="#74bfe3"/>
<circle cx="396.56" cy="628.41" r="2.40" fill="#80cbe9"/>
<circle cx="404.34" cy="628.41" r="2.40" fill="#80cbe9"/>
<circle cx="412.12" cy="628.41" r="2.40" fill="#66acd8"/>
<circle cx="419.90" cy="628.41" r="2.40" fill="#74bfe3"/>
<circle cx="427.68" cy="628.41" r="2.40" fill="#80cbe9"/>
<circle cx="435.46" cy="628.41" r="2.40" fill="#80cbe9"/>
<circle cx="443.24" cy="628.41" r="2.40" fill="#80cbe9"/>
<circle cx="381.00" cy="636.20" r="2.40" fill="#80cbe9"/>
<circle cx="388.78" cy="636.20" r="2.40" fill="#74bfe3"/>
<circle cx="396.56" cy="636.20" r="2.40" fill="#80cbe9"/>
<circle cx="404.34" cy="636.20" r="2.40" fill="#80cbe9"/>
<circle cx="412.12" cy="636.20" r="2.40" fill="#66acd8"/>
<circle cx="419.90" cy="636.20" r="2.40" fill="#80cbe9"/>
<circle cx="427.68" cy="636.20" r="2.40" fill="#80cbe9"/>
<circle cx="435.46" cy="636.20" r="2.40" fill="#74bfe3"/>
<circle cx="443.24" cy="636.20" r="2.40" fill="#80cbe9"/>
<circle cx="381.00" cy="644.00" r="2.40" fill="#66acd8"/>
<circle cx="388.78" cy="644.00" r="2.40" fill="#66acd8"/>
<circle cx="396.56" cy="644.00" r="2.40" fill="#80cbe9"/>
<circle cx="404.34" cy="644.00" r="2.40" fill="#80cbe9"/>
<circle cx="412.12" cy="644.00" r="2.40" fill="#80cbe9"/>
<circle cx="419.90" cy="644.00" r="2.40" fill="#74bfe3"/>
<circle cx="427.68" cy="644.00" r="2.40" fill="#80cbe9"/>
<circle cx="435.46" cy="644.00" r="2.40" fill="#74bfe3"/>
<circle cx="443.24" cy="644.00" r="2.40" fill="#80cbe9"/>
<circle cx="381.00" cy="651.80" r="2.40" fill="#80cbe9"/>
<circle cx="388.78" cy="651.80" r="2.40" fill="#74bfe3"/>
<circle cx="396.56" cy="651.80" r="2.40" fill="#80cbe9"/>
<circle cx="404.34" cy="651.80" r="2.40" fill="#80cbe9"/>
<circle cx="412.12" cy="651.80" r="2.40" fill="#74bfe3"/>
<circle cx="419.90" cy="651.80" r="2.40" fill="#80cbe9"/>
<circle cx="427.68" cy="651.80" r="2.40" fill="#80cbe9"/>
<circle cx="435.46" cy="651.80" r="2.40" fill="#80cbe9"/>
<circle cx="443.24" cy="651.80" r="2.40" fill="#80cbe9"/>
<circle cx="381.00" cy="659.59" r="2.40" fill="#66acd8"/>
<circle cx="388.78" cy="659.59" r="2.40" fill="#66acd8"/>
<circle cx="396.56" cy="659.59" r="2.40" fill="#80cbe9"/>
<circle cx="404.34" cy="659.59" r="2.40" fill="#80cbe9"/>
<circle cx="412.12" cy="659.59" r="2.40" fill="#80cbe9"/>
<circle cx="419.90" cy="659.59" r="2.40" fill="#74bfe3"/>
<circle cx="427.68" cy="659.59" r="2.40" fill="#80cbe9"/>
<circle cx="435.46" cy="659.59" r="2.40" fill="#74bfe3"/>
<circle cx="443.24" cy="659.59" r="2.40" fill="#80cbe9"/>
<circle cx="381.00" cy="667.39" r="2.40" fill="#80cbe9"/>
<circle cx="388.78" cy="667.39" r="2.40" fill="#80cbe9"/>
<circle cx="396.56" cy="667.39" r="2.40" fill="#80cbe9"/>
<circle cx="404.34" cy="667.39" r="2.40" fill="#80cbe9"/>
<circle cx="412.12" cy="667.39" r="2.40" fill="#80cbe9"/>
<circle cx="419.90" cy="667.39" r="2.40" fill="#80cbe9"/>
<circle cx="427.68" cy="667.39" r="2.40" fill="#80cbe9"/>
<circle cx="435.46" cy="667.39" r="2.40" fill="#80cbe9"/>
<circle cx="443.24" cy="667.39" r="2.40" fill="#80cbe9"/>
<circle cx="381.00" cy="675.18" r="2.40" fill="#66acd8"/>
<circle cx="388.78" cy="675.18" r="2.40" fill="#66acd8"/>
<circle cx="396.56" cy="675.18" r="2.40" fill="#80cbe9"/>
<circle cx="404.34" cy="675.18" r="2.40" fill="#80cbe9"/>
<circle cx="412.12" cy="675.18" r="2.40" fill="#74bfe3"/>
<circle cx="419.90" cy="675.18" r="2.40" fill="#66acd8"/>
<circle cx="427.68" cy="675.18" r="2.40" fill="#80cbe9"/>
<circle cx="435.46" cy="675.18" r="2.40" fill="#80cbe9"/>
<circle cx="443.24" cy="675.18" r="2.40" fill="#80cbe9"/>
<circle cx="381.00" cy="682.98" r="2.40" fill="#74bfe3"/>
<circle cx="388.78" cy="682.98" r="2.40" fill="#66acd8"/>
<circle cx="396.56" cy="682.98" r="2.40" fill="#80cbe9"/>
<circle cx="404.34" cy="682.98" r="2.40" fill="#80cbe9"/>
<circle cx="412.12" cy="682.98" r="2.40" fill="#5896cb"/>
<circle cx="419.90" cy="682.98" r="2.40" fill="#74bfe3"/>
<circle cx="427.68" cy="682.98" r="2.40" fill="#74bfe3"/>
<circle cx="435.46" cy="682.98" r="2.40" fill="#30649f"/>
<circle cx="443.24" cy="682.98" r="2.40" fill="#80cbe9"/>
<circle cx="381.00" cy="690.78" r="2.40" fill="#74bfe3"/>
<circle cx="388.78" cy="690.78" r="2.40" fill="#74bfe3"/>
<circle cx="396.56" cy="690.78" r="2.40" fill="#80cbe9"/>
<circle cx="404.34" cy="690.78" r="2.40" fill="#80cbe9"/>
<circle cx="412.12" cy="690.78" r="2.40" fill="#80cbe9"/>
<circle cx="419.90" cy="690.78" r="2.40" fill="#80cbe9"/>
<circle cx="427.68" cy="690.78" r="2.40" fill="#80cbe9"/>
<circle cx="435.46" cy="690.78" r="2.40" fill="#80cbe9"/>
<circle cx="443.24" cy="690.78" r="2.40" fill="#80cbe9"/>
<circle cx="381.00" cy="698.57" r="2.40" fill="#80cbe9"/>
<circle cx="388.78" cy="698.57" r="2.40" fill="#80cbe9"/>
<circle cx="396.56" cy="698.57" r="2.40" fill="#80cbe9"/>
<circle cx="404.34" cy="698.57" r="2.40" fill="#80cbe9"/>
<circle cx="412.12" cy="698.57" r="2.40" fill="#80cbe9"/>
<circle cx="419.90" cy="698.57" r="2.40" fill="#80cbe9"/>
<circle cx="427.68" cy="698.57" r="2.40" fill="#80cbe9"/>
<circle cx="435.46" cy="698.57" r="2.40" fill="#80cbe9"/>
<circle cx="443.24" cy="698.57" r="2.40" fill="#80cbe9"/>
<circle cx="381.00" cy="706.37" r="2.40" fill="#74bfe3"/>
<circle cx="388.78" cy="706.37" r="2.40" fill="#80cbe9"/>
<circle cx="396.56" cy="706.37" r="2.40" fill="#80cbe9"/>
<circle cx="404.34" cy="706.37" r="2.40" fill="#80cbe9"/>
<circle cx="412.12" cy="706.37" r="2.40" fill="#80cbe9"/>
<circle cx="419.90" cy="706.37" r="2.40" fill="#80cbe9"/>
<circle cx="427.68" cy="706.37" r="2.40" fill="#80cbe9"/>
<circle cx="435.46" cy="706.37" r="2.40" fill="#66acd8"/>
<circle cx="443.24" cy="706.37" r="2.40" fill="#80cbe9"/>
<circle cx="381.00" cy="714.16" r="2.40" fill="#80cbe9"/>
<circle cx="388.78" cy="714.16" r="2.40" fill="#80cbe9"/>
<circle cx="396.56" cy="714.16" r="2.40" fill="#80cbe9"/>
<circle cx="404.34" cy="714.16" r="2.40" fill="#80cbe9"/>
<circle cx="412.12" cy="714.16" r="2.40" fill="#80cbe9"/>
<circle cx="419.90" cy="714.16" r="2.40" fill="#80cbe9"/>
<circle cx="427.68" cy="714.16" r="2.40" fill="#80cbe9"/>
<circle cx="435.46" cy="714.16" r="2.40" fill="#80cbe9"/>
<circle cx="443.24" cy="714.16" r="2.40" fill="#80cbe9"/>
<circle cx="381.00" cy="721.96" r="2.40" fill="#74bfe3"/>
<circle cx="388.78" cy="721.96" r="2.88" fill="#74bfe3"/>
<circle cx="396.56" cy="721.96" r="2.40" fill="#80cbe9"/>
<circle cx="404.34" cy="721.96" r="2.40" fill="#80cbe9"/>
<circle cx="412.12" cy="721.96" r="2.40" fill="#74bfe3"/>
<circle cx="419.90" cy="721.96" r="2.40" fill="#74bfe3"/>
<circle cx="427.68" cy="721.96" r="2.40" fill="#80cbe9"/>
<circle cx="435.46" cy="721.96" r="2.40" fill="#74bfe3"/>
<circle cx="443.24" cy="721.96" r="2.40" fill="#80cbe9"/>
<circle cx="381.00" cy="729.76" r="2.40" fill="#80cbe9"/>
<circle cx="388.78" cy="729.76" r="2.40" fill="#74bfe3"/>
<circle cx="396.56" cy="729.76" r="2.40" fill="#80cbe9"/>
<circle cx="404.34" cy="729.76" r="2.40" fill="#80cbe9"/>
<circle cx="412.12" cy="729.76" r="2.40" fill="#80cbe9"/>
<circle cx="419.90" cy="729.76" r="2.02" fill="#80cbe9"/>
<circle cx="427.68" cy="729.76" r="2.40" fill="#80cbe9"/>
<circle cx="435.46" cy="729.76" r="2.40" fill="#80cbe9"/>
<circle cx="443.24" cy="729.76" r="2.40" fill="#80cbe9"/>
<circle cx="381.00" cy="737.55" r="2.40" fill="#80cbe9"/>
<circle cx="388.78" cy="737.55" r="2.40" fill="#80cbe9"/>
<circle cx="396.56" cy="737.55" r="2.40" fill="#80cbe9"/>
<circle cx="404.34" cy="737.55" r="2.40" fill="#80cbe9"/>
<circle cx="412.12" cy="737.55" r="2.40" fill="#66acd8"/>
<circle cx="419.90" cy="737.55" r="2.40" fill="#80cbe9"/>
<circle cx="427.68" cy="737.55" r="2.40" fill="#80cbe9"/>
<circle cx="435.46" cy="737.55" r="2.40" fill="#80cbe9"/>
<circle cx="443.24" cy="737.55" r="2.40" fill="#80cbe9"/>
<circle cx="381.00" cy="745.35" r="2.40" fill="#74bfe3"/>
<circle cx="388.78" cy="745.35" r="2.88" fill="#66acd8"/>
<circle cx="396.56" cy="745.35" r="2.40" fill="#80cbe9"/>
<circle cx="404.34" cy="745.35" r="2.40" fill="#80cbe9"/>
<circle cx="412.12" cy="745.35" r="2.40" fill="#74bfe3"/>
<circle cx="419.90" cy="745.35" r="2.40" fill="#74bfe3"/>
<circle cx="427.68" cy="745.35" r="2.40" fill="#80cbe9"/>
<circle cx="435.46" cy="745.35" r="2.40" fill="#66acd8"/>
<circle cx="443.24" cy="745.35" r="2.40" fill="#74bfe3"/>
<circle cx="381.00" cy="753.14" r="2.02" fill="#80cbe9"/>
<circle cx="388.78" cy="753.14" r="2.40" fill="#80cbe9"/>
<circle cx="396.56" cy="753.14" r="2.02" fill="#80cbe9"/>
<circle cx="404.34" cy="753.14" r="2.02" fill="#80cbe9"/>
<circle cx="412.12" cy="753.14" r="2.40" fill="#80cbe9"/>
<circle cx="419.90" cy="753.14" r="2.40" fill="#80cbe9"/>
<circle cx="427.68" cy="753.14" r="2.02" fill="#80cbe9"/>
<circle cx="435.46" cy="753.14" r="2.40" fill="#80cbe9"/>
<circle cx="443.24" cy="753.14" r="2.40" fill="#80cbe9"/>
<circle cx="381.00" cy="760.94" r="2.40" fill="#66acd8"/>
<circle cx="388.78" cy="760.94" r="2.40" fill="#74bfe3"/>
<circle cx="396.56" cy="760.94" r="2.02" fill="#80cbe9"/>
<circle cx="404.34" cy="760.94" r="2.02" fill="#80cbe9"/>
<circle cx="412.12" cy="760.94" r="2.40" fill="#80cbe9"/>
<circle cx="419.90" cy="760.94" r="2.02" fill="#80cbe9"/>
<circle cx="427.68" cy="760.94" r="2.40" fill="#80cbe9"/>
<circle cx="435.46" cy="760.94" r="2.40" fill="#80cbe9"/>
<circle cx="443.24" cy="760.94" r="2.40" fill="#80cbe9"/>
<circle cx="381.00" cy="768.74" r="2.40" fill="#66acd8"/>
<circle cx="388.78" cy="768.74" r="2.88" fill="#74bfe3"/>
<circle cx="396.56" cy="768.74" r="2.40" fill="#80cbe9"/>
<circle cx="404.34" cy="768.74" r="2.40" fill="#80cbe9"/>
<circle cx="412.12" cy="768.74" r="2.40" fill="#80cbe9"/>
<circle cx="419.90" cy="768.74" r="2.40" fill="#80cbe9"/>
<circle cx="427.68" cy="768.74" r="2.40" fill="#80cbe9"/>
<circle cx="435.46" cy="768.74" r="2.40" fill="#66acd8"/>
<circle cx="443.24" cy="768.74" r="2.40" fill="#80cbe9"/>
<circle cx="381.00" cy="776.53" r="2.40" fill="#74bfe3"/>
<circle cx="388.78" cy="776.53" r="2.40" fill="#80cbe9"/>
<circle cx="396.56" cy="776.53" r="2.02" fill="#80cbe9"/>
<circle cx="404.34" cy="776.53" r="2.02" fill="#80cbe9"/>
<circle cx="412.12" cy="776.53" r="2.40" fill="#80cbe9"/>
<circle cx="419.90" cy="776.53" r="2.88" fill="#66acd8"/>
<circle cx="427.68" cy="776.53" r="2.40" fill="#80cbe9"/>
<circle cx="435.46" cy="776.53" r="2.40" fill="#80cbe9"/>
<circle cx="443.24" cy="776.53" r="2.40" fill="#80cbe9"/>
<circle cx="381.00" cy="784.33" r="2.40" fill="#80cbe9"/>
<circle cx="388.78" cy="784.33" r="2.40" fill="#80cbe9"/>
<circle cx="396.56" cy="784.33" r="2.02" fill="#80cbe9"/>
<circle cx="404.34" cy="784.33" r="2.02" fill="#80cbe9"/>
<circle cx="412.12" cy="784.33" r="2.40" fill="#74bfe3"/>
<circle cx="419.90" cy="784.33" r="2.40" fill="#74bfe3"/>
<circle cx="427.68" cy="784.33" r="2.40" fill="#66acd8"/>
<circle cx="435.46" cy="784.33" r="2.40" fill="#74bfe3"/>
<circle cx="443.24" cy="784.33" r="2.40" fill="#80cbe9"/>
<circle cx="381.00" cy="792.12" r="2.40" fill="#74bfe3"/>
<circle cx="388.78" cy="792.12" r="2.88" fill="#74bfe3"/>
<circle cx="396.56" cy="792.12" r="2.40" fill="#80cbe9"/>
<circle cx="404.34" cy="792.12" r="2.02" fill="#80cbe9"/>
<circle cx="412.12" cy="792.12" r="2.40" fill="#80cbe9"/>
<circle cx="419.90" cy="792.12" r="2.40" fill="#80cbe9"/>
<circle cx="427.68" cy="792.12" r="2.40" fill="#80cbe9"/>
<circle cx="435.46" cy="792.12" r="2.40" fill="#74bfe3"/>
<circle cx="443.24" cy="792.12" r="2.40" fill="#80cbe9"/>
<circle cx="381.00" cy="799.92" r="2.40" fill="#66acd8"/>
<circle cx="388.78" cy="799.92" r="2.88" fill="#74bfe3"/>
<circle cx="396.56" cy="799.92" r="2.40" fill="#80cbe9"/>
<circle cx="404.34" cy="799.92" r="2.02" fill="#80cbe9"/>
<circle cx="412.12" cy="799.92" r="2.40" fill="#80cbe9"/>
<circle cx="419.90" cy="799.92" r="2.40" fill="#80cbe9"/>
<circle cx="427.68" cy="799.92" r="2.40" fill="#80cbe9"/>
<circle cx="435.46" cy="799.92" r="2.40" fill="#74bfe3"/>
<circle cx="443.24" cy="799.92" r="2.40" fill="#80cbe9"/>
<circle cx="381.00" cy="807.72" r="2.40" fill="#5896cb"/>
<circle cx="388.78" cy="807.72" r="2.88" fill="#74bfe3"/>
<circle cx="396.56" cy="807.72" r="2.40" fill="#80cbe9"/>
<circle cx="404.34" cy="807.72" r="2.40" fill="#80cbe9"/>
<circle cx="412.12" cy="807.72" r="2.02" fill="#80cbe9"/>
<circle cx="419.90" cy="807.72" r="2.40" fill="#80cbe9"/>
<circle cx="427.68" cy="807.72" r="2.40" fill="#80cbe9"/>
<circle cx="435.46" cy="807.72" r="2.40" fill="#74bfe3"/>
<circle cx="443.24" cy="807.72" r="2.40" fill="#80cbe9"/>
<circle cx="381.00" cy="815.51" r="2.40" fill="#80cbe9"/>
<circle cx="388.78" cy="815.51" r="2.88" fill="#66acd8"/>
<circle cx="396.56" cy="815.51" r="2.40" fill="#80cbe9"/>
<circle cx="404.34" cy="815.51" r="2.40" fill="#80cbe9"/>
<circle cx="412.12" cy="815.51" r="2.40" fill="#80cbe9"/>
<circle cx="419.90" cy="815.51" r="2.88" fill="#74bfe3"/>
<circle cx="427.68" cy="815.51" r="2.40" fill="#80cbe9"/>
<circle cx="435.46" cy="815.51" r="2.40" fill="#80cbe9"/>
<circle cx="443.24" cy="815.51" r="2.40" fill="#80cbe9"/>
<circle cx="381.00" cy="823.31" r="2.40" fill="#74bfe3"/>
<circle cx="388.78" cy="823.31" r="2.88" fill="#66acd8"/>
<circle cx="396.56" cy="823.31" r="2.40" fill="#80cbe9"/>
<circle cx="404.34" cy="823.31" r="2.40" fill="#80cbe9"/>
<circle cx="412.12" cy="823.31" r="2.40" fill="#80cbe9"/>
<circle cx="419.90" cy="823.31" r="2.88" fill="#66acd8"/>
<circle cx="427.68" cy="823.31" r="2.40" fill="#80cbe9"/>
<circle cx="435.46" cy="823.31" r="2.40" fill="#80cbe9"/>
<circle cx="443.24" cy="823.31" r="2.40" fill="#80cbe9"/>
<circle cx="381.00" cy="831.10" r="2.40" fill="#74bfe3"/>
<circle cx="388.78" cy="831.10" r="2.40" fill="#80cbe9"/>
<circle cx="396.56" cy="831.10" r="0.67" fill="#80cbe9"/>
<circle cx="404.34" cy="831.10" r="0.67" fill="#80cbe9"/>
<circle cx="412.12" cy="831.10" r="2.40" fill="#74bfe3"/>
<circle cx="419.90" cy="831.10" r="2.40" fill="#80cbe9"/>
<circle cx="427.68" cy="831.10" r="2.40" fill="#80cbe9"/>
<circle cx="435.46" cy="831.10" r="2.40" fill="#80cbe9"/>
<circle cx="443.24" cy="831.10" r="2.40" fill="#80cbe9"/>
<line x1="456.00" y1="449.10" x2="457.50" y2="449.10" stroke="#333" stroke-width="0.75"/>
<text x="458.70" y="451.90" font-size="7.77">cellular response to peptide</text>
<line x1="456.00" y1="456.90" x2="457.50" y2="456.90" stroke="#333" stroke-width="0.75"/>
<text x="458.70" y="459.69" font-size="7.77">response to radiation</text>
<line x1="456.00" y1="464.69" x2="457.50" y2="464.69" stroke="#333" stroke-width="0.75"/>
<text x="458.70" y="467.49" font-size="7.77">response to light stimulus</text>
<line x1="456.00" y1="472.49" x2="457.50" y2="472.49" stroke="#333" stroke-width="0.75"/>
<text x="458.70" y="475.29" font-size="7.77">response to nutrient levels</text>
<line x1="456.00" y1="480.28" x2="457.50" y2="480.28" stroke="#333" stroke-width="0.75"/>
<text x="458.70" y="483.08" font-size="7.77">cellular response to peptide hormone stimulus</text>
<line x1="456.00" y1="488.08" x2="457.50" y2="488.08" stroke="#333" stroke-width="0.75"/>
<text x="458.70" y="490.88" font-size="7.77">response to oxidative stress</text>
<line x1="456.00" y1="495.88" x2="457.50" y2="495.88" stroke="#333" stroke-width="0.75"/>
<text x="458.70" y="498.67" font-size="7.77">positive regulation of transferase activity</text>
<line x1="456.00" y1="503.67" x2="457.50" y2="503.67" stroke="#333" stroke-width="0.75"/>
<text x="458.70" y="506.47" font-size="7.77">response to peptide hormone</text>
<line x1="456.00" y1="511.47" x2="457.50" y2="511.47" stroke="#333" stroke-width="0.75"/>
<text x="458.70" y="514.27" font-size="7.77">gland development</text>
<line x1="456.00" y1="519.26" x2="457.50" y2="519.26" stroke="#333" stroke-width="0.75"/>
<text x="458.70" y="522.06" font-size="7.77">cellular response to environmental stimulus</text>
<line x1="456.00" y1="527.06" x2="457.50" y2="527.06" stroke="#333" stroke-width="0.75"/>
<text x="458.70" y="529.86" font-size="7.77">cellular response to abiotic stimulus</text>
<line x1="456.00" y1="534.86" x2="457.50" y2="534.86" stroke="#333" stroke-width="0.75"/>
<text x="458.70" y="537.65" font-size="7.77">regulation of apoptotic signaling pathway</text>
<line x1="456.00" y1="542.65" x2="457.50" y2="542.65" stroke="#333" stroke-width="0.75"/>
<text x="458.70" y="545.45" font-size="7.77">response to oxygen levels</text>
<line x1="456.00" y1="550.45" x2="457.50" y2="550.45" stroke="#333" stroke-width="0.75"/>
<text x="458.70" y="553.25" font-size="7.77">response to hypoxia</text>
<line x1="456.00" y1="558.24" x2="457.50" y2="558.24" stroke="#333" stroke-width="0.75"/>
<text x="458.70" y="561.04" font-size="7.77">rhythmic process</text>
<line x1="456.00" y1="566.04" x2="457.50" y2="566.04" stroke="#333" stroke-width="0.75"/>
<text x="458.70" y="568.84" font-size="7.77">regulation of developmental growth</text>
<line x1="456.00" y1="573.84" x2="457.50" y2="573.84" stroke="#333" stroke-width="0.75"/>
<text x="458.70" y="576.63" font-size="7.77">response to decreased oxygen levels</text>
<line x1="456.00" y1="581.63" x2="457.50" y2="581.63" stroke="#333" stroke-width="0.75"/>
<text x="458.70" y="584.43" font-size="7.77">response to steroid hormone</text>
<line x1="456.00" y1="589.43" x2="457.50" y2="589.43" stroke="#333" stroke-width="0.75"/>
<text x="458.70" y="592.23" font-size="7.77">extrinsic apoptotic signaling pathway</text>
<line x1="456.00" y1="597.22" x2="457.50" y2="597.22" stroke="#333" stroke-width="0.75"/>
<text x="458.70" y="600.02" font-size="7.77">peptidyl−tyrosine modification</text>
<line x1="456.00" y1="605.02" x2="457.50" y2="605.02" stroke="#333" stroke-width="0.75"/>
<text x="458.70" y="607.82" font-size="7.77">peptidyl−tyrosine phosphorylation</text>
<line x1="456.00" y1="612.82" x2="457.50" y2="612.82" stroke="#333" stroke-width="0.75"/>
<text x="458.70" y="615.61" font-size="7.77">positive regulation of DNA metabolic process</text>
<line x1="456.00" y1="620.61" x2="457.50" y2="620.61" stroke="#333" stroke-width="0.75"/>
<text x="458.70" y="623.41" font-size="7.77">muscle cell proliferation</text>
<line x1="456.00" y1="628.41" x2="457.50" y2="628.41" stroke="#333" stroke-width="0.75"/>
<text x="458.70" y="631.21" font-size="7.77">regulation of small molecule metabolic process</text>
<line x1="456.00" y1="636.20" x2="457.50" y2="636.20" stroke="#333" stroke-width="0.75"/>
<text x="458.70" y="639.00" font-size="7.77">regulation of reactive oxygen species metabolic process</text>
<line x1="456.00" y1="644.00" x2="457.50" y2="644.00" stroke="#333" stroke-width="0.75"/>
<text x="458.70" y="646.80" font-size="7.77">regulation of neuron apoptotic process</text>
<line x1="456.00" y1="651.80" x2="457.50" y2="651.80" stroke="#333" stroke-width="0.75"/>
<text x="458.70" y="654.59" font-size="7.77">cellular response to insulin stimulus</text>
<line x1="456.00" y1="659.59" x2="457.50" y2="659.59" stroke="#333" stroke-width="0.75"/>
<text x="458.70" y="662.39" font-size="7.77">neuron apoptotic process</text>
<line x1="456.00" y1="667.39" x2="457.50" y2="667.39" stroke="#333" stroke-width="0.75"/>
<text x="458.70" y="670.19" font-size="7.77">response to insulin</text>
<line x1="456.00" y1="675.18" x2="457.50" y2="675.18" stroke="#333" stroke-width="0.75"/>
<text x="458.70" y="677.98" font-size="7.77">negative regulation of apoptotic signaling pathway</text>
<line x1="456.00" y1="682.98" x2="457.50" y2="682.98" stroke="#333" stroke-width="0.75"/>
<text x="458.70" y="685.78" font-size="7.77">reactive oxygen species metabolic process</text>
<line x1="456.00" y1="690.78" x2="457.50" y2="690.78" stroke="#333" stroke-width="0.75"/>
<text x="458.70" y="693.57" font-size="7.77">positive regulation of proteolysis</text>
<line x1="456.00" y1="698.57" x2="457.50" y2="698.57" stroke="#333" stroke-width="0.75"/>
<text x="458.70" y="701.37" font-size="7.77">response to UV</text>
<line x1="456.00" y1="706.37" x2="457.50" y2="706.37" stroke="#333" stroke-width="0.75"/>
<text x="458.70" y="709.17" font-size="7.77">phosphatidylinositol 3−kinase/protein kinase B signal transduction</text>
<line x1="456.00" y1="714.16" x2="457.50" y2="714.16" stroke="#333" stroke-width="0.75"/>
<text x="458.70" y="716.96" font-size="7.77">protein localization to nucleus</text>
<line x1="456.00" y1="721.96" x2="457.50" y2="721.96" stroke="#333" stroke-width="0.75"/>
<text x="458.70" y="724.76" font-size="7.77">regulation of epithelial cell proliferation</text>
<line x1="456.00" y1="729.76" x2="457.50" y2="729.76" stroke="#333" stroke-width="0.75"/>
<text x="458.70" y="732.55" font-size="7.77">cellular response to radiation</text>
<line x1="456.00" y1="737.55" x2="457.50" y2="737.55" stroke="#333" stroke-width="0.75"/>
<text x="458.70" y="740.35" font-size="7.77">regulation of carbohydrate metabolic process</text>
<line x1="456.00" y1="745.35" x2="457.50" y2="745.35" stroke="#333" stroke-width="0.75"/>
<text x="458.70" y="748.15" font-size="7.77">epithelial cell proliferation</text>
<line x1="456.00" y1="753.14" x2="457.50" y2="753.14" stroke="#333" stroke-width="0.75"/>
<text x="458.70" y="755.94" font-size="7.77">signal transduction in response to DNA damage</text>
<line x1="456.00" y1="760.94" x2="457.50" y2="760.94" stroke="#333" stroke-width="0.75"/>
<text x="458.70" y="763.74" font-size="7.77">response to ionizing radiation</text>
<line x1="456.00" y1="768.74" x2="457.50" y2="768.74" stroke="#333" stroke-width="0.75"/>
<text x="458.70" y="771.53" font-size="7.77">response to reactive oxygen species</text>
<line x1="456.00" y1="776.53" x2="457.50" y2="776.53" stroke="#333" stroke-width="0.75"/>
<text x="458.70" y="779.33" font-size="7.77">cellular senescence</text>
<line x1="456.00" y1="784.33" x2="457.50" y2="784.33" stroke="#333" stroke-width="0.75"/>
<text x="458.70" y="787.13" font-size="7.77">regulation of miRNA metabolic process</text>
<line x1="456.00" y1="792.12" x2="457.50" y2="792.12" stroke="#333" stroke-width="0.75"/>
<text x="458.70" y="794.92" font-size="7.77">cellular response to chemical stress</text>
<line x1="456.00" y1="799.92" x2="457.50" y2="799.92" stroke="#333" stroke-width="0.75"/>
<text x="458.70" y="802.72" font-size="7.77">cellular response to oxidative stress</text>
<line x1="456.00" y1="807.72" x2="457.50" y2="807.72" stroke="#333" stroke-width="0.75"/>
<text x="458.70" y="810.51" font-size="7.77">cellular response to reactive oxygen species</text>
<line x1="456.00" y1="815.51" x2="457.50" y2="815.51" stroke="#333" stroke-width="0.75"/>
<text x="458.70" y="818.31" font-size="7.77">intrinsic apoptotic signaling pathway</text>
<line x1="456.00" y1="823.31" x2="457.50" y2="823.31" stroke="#333" stroke-width="0.75"/>
<text x="458.70" y="826.11" font-size="7.77">intrinsic apoptotic signaling pathway in response to DNA damage</text>
<line x1="456.00" y1="831.10" x2="457.50" y2="831.10" stroke="#333" stroke-width="0.75"/>
<text x="458.70" y="833.90" font-size="7.77">response to gamma radiation</text>
<line x1="381.00" y1="835.80" x2="381.00" y2="837.40" stroke="#555" stroke-width="0.5"/>
<text transform="translate(384.10,842.30) rotate(-45)" text-anchor="end" font-size="7.77">Oligodendrocyte</text>
<line x1="388.78" y1="835.80" x2="388.78" y2="837.40" stroke="#555" stroke-width="0.5"/>
<text transform="translate(391.88,842.30) rotate(-45)" text-anchor="end" font-size="7.77">Astrocyte</text>
<line x1="396.56" y1="835.80" x2="396.56" y2="837.40" stroke="#555" stroke-width="0.5"/>
<text transform="translate(399.66,842.30) rotate(-45)" text-anchor="end" font-size="7.77">Alpha Cell</text>
<line x1="404.34" y1="835.80" x2="404.34" y2="837.40" stroke="#555" stroke-width="0.5"/>
<text transform="translate(407.44,842.30) rotate(-45)" text-anchor="end" font-size="7.77">Beta Cell</text>
<line x1="412.12" y1="835.80" x2="412.12" y2="837.40" stroke="#555" stroke-width="0.5"/>
<text transform="translate(415.22,842.30) rotate(-45)" text-anchor="end" font-size="7.77">Endothelial Cell</text>
<line x1="419.90" y1="835.80" x2="419.90" y2="837.40" stroke="#555" stroke-width="0.5"/>
<text transform="translate(423.00,842.30) rotate(-45)" text-anchor="end" font-size="7.77">Excitatory Neurons</text>
<line x1="427.68" y1="835.80" x2="427.68" y2="837.40" stroke="#555" stroke-width="0.5"/>
<text transform="translate(430.78,842.30) rotate(-45)" text-anchor="end" font-size="7.77">Macrophage</text>
<line x1="435.46" y1="835.80" x2="435.46" y2="837.40" stroke="#555" stroke-width="0.5"/>
<text transform="translate(438.56,842.30) rotate(-45)" text-anchor="end" font-size="7.77">T Cell</text>
<line x1="443.24" y1="835.80" x2="443.24" y2="837.40" stroke="#555" stroke-width="0.5"/>
<text transform="translate(446.34,842.30) rotate(-45)" text-anchor="end" font-size="7.77">Epithelial Cell</text>
<line x1="451.10" y1="835.80" x2="451.10" y2="837.40" stroke="#555" stroke-width="0.5"/>
<text transform="translate(454.20,842.30) rotate(-45)" text-anchor="end" font-size="7.77">Gini Coefficient</text>
<text x="381.70" y="444.10" font-family="'DejaVu Sans', sans-serif" font-weight="bold" fill="#1b3252" stroke="#1b3252" stroke-width="0.3" font-size="8.4" textLength="69.20" lengthAdjust="spacingAndGlyphs">Downregulated</text>
<text x="325.90" y="122.00" font-size="5.9" fill="#333">-log10(p.adj)</text>
<defs><linearGradient id="goA" x1="0" y1="0" x2="0" y2="1"><stop offset="0.0000" stop-color="#b22222"/><stop offset="0.0833" stop-color="#b92e20"/><stop offset="0.1667" stop-color="#c03a1f"/><stop offset="0.2500" stop-color="#c7461d"/><stop offset="0.3333" stop-color="#ce521b"/><stop offset="0.4167" stop-color="#d55e1a"/><stop offset="0.5000" stop-color="#dc6a18"/><stop offset="0.5833" stop-color="#e27414"/><stop offset="0.6667" stop-color="#e87e10"/><stop offset="0.7500" stop-color="#ee880c"/><stop offset="0.8333" stop-color="#f39108"/><stop offset="0.9167" stop-color="#f99b04"/><stop offset="1.0000" stop-color="#ffa500"/></linearGradient></defs>
<rect x="322.00" y="126.00" width="9.00" height="41.70" fill="url(#goA)"/>
<text x="333.40" y="128.09" font-size="4.7" fill="#222">6</text>
<line x1="322.00" y1="132.95" x2="323.60" y2="132.95" stroke="#fff" stroke-width="0.4" opacity="0.7"/>
<line x1="329.40" y1="132.95" x2="331.00" y2="132.95" stroke="#fff" stroke-width="0.4" opacity="0.7"/>
<text x="333.40" y="135.04" font-size="4.7" fill="#222">5</text>
<line x1="322.00" y1="139.90" x2="323.60" y2="139.90" stroke="#fff" stroke-width="0.4" opacity="0.7"/>
<line x1="329.40" y1="139.90" x2="331.00" y2="139.90" stroke="#fff" stroke-width="0.4" opacity="0.7"/>
<text x="333.40" y="141.99" font-size="4.7" fill="#222">4</text>
<line x1="322.00" y1="146.85" x2="323.60" y2="146.85" stroke="#fff" stroke-width="0.4" opacity="0.7"/>
<line x1="329.40" y1="146.85" x2="331.00" y2="146.85" stroke="#fff" stroke-width="0.4" opacity="0.7"/>
<text x="333.40" y="148.94" font-size="4.7" fill="#222">3</text>
<line x1="322.00" y1="153.80" x2="323.60" y2="153.80" stroke="#fff" stroke-width="0.4" opacity="0.7"/>
<line x1="329.40" y1="153.80" x2="331.00" y2="153.80" stroke="#fff" stroke-width="0.4" opacity="0.7"/>
<text x="333.40" y="155.89" font-size="4.7" fill="#222">2</text>
<line x1="322.00" y1="160.75" x2="323.60" y2="160.75" stroke="#fff" stroke-width="0.4" opacity="0.7"/>
<line x1="329.40" y1="160.75" x2="331.00" y2="160.75" stroke="#fff" stroke-width="0.4" opacity="0.7"/>
<text x="333.40" y="162.84" font-size="4.7" fill="#222">1</text>
<text x="333.40" y="169.79" font-size="4.7" fill="#222">0</text>
<defs><linearGradient id="gbA" x1="0" y1="0" x2="0" y2="1"><stop offset="0.0000" stop-color="#191970"/><stop offset="0.0833" stop-color="#1c2678"/><stop offset="0.1667" stop-color="#1f3280"/><stop offset="0.2500" stop-color="#223e88"/><stop offset="0.3333" stop-color="#244b90"/><stop offset="0.4167" stop-color="#275898"/><stop offset="0.5000" stop-color="#2a64a0"/><stop offset="0.5833" stop-color="#4480b4"/><stop offset="0.6667" stop-color="#5f9cc9"/><stop offset="0.7500" stop-color="#69a8d2"/><stop offset="0.8333" stop-color="#73b5da"/><stop offset="0.9167" stop-color="#7dc2e2"/><stop offset="1.0000" stop-color="#87ceeb"/></linearGradient></defs>
<rect x="347.90" y="126.00" width="9.00" height="41.70" fill="url(#gbA)"/>
<text x="359.30" y="128.09" font-size="4.7" fill="#222">6</text>
<line x1="347.90" y1="132.95" x2="349.50" y2="132.95" stroke="#fff" stroke-width="0.4" opacity="0.7"/>
<line x1="355.30" y1="132.95" x2="356.90" y2="132.95" stroke="#fff" stroke-width="0.4" opacity="0.7"/>
<text x="359.30" y="135.04" font-size="4.7" fill="#222">5</text>
<line x1="347.90" y1="139.90" x2="349.50" y2="139.90" stroke="#fff" stroke-width="0.4" opacity="0.7"/>
<line x1="355.30" y1="139.90" x2="356.90" y2="139.90" stroke="#fff" stroke-width="0.4" opacity="0.7"/>
<text x="359.30" y="141.99" font-size="4.7" fill="#222">4</text>
<line x1="347.90" y1="146.85" x2="349.50" y2="146.85" stroke="#fff" stroke-width="0.4" opacity="0.7"/>
<line x1="355.30" y1="146.85" x2="356.90" y2="146.85" stroke="#fff" stroke-width="0.4" opacity="0.7"/>
<text x="359.30" y="148.94" font-size="4.7" fill="#222">3</text>
<line x1="347.90" y1="153.80" x2="349.50" y2="153.80" stroke="#fff" stroke-width="0.4" opacity="0.7"/>
<line x1="355.30" y1="153.80" x2="356.90" y2="153.80" stroke="#fff" stroke-width="0.4" opacity="0.7"/>
<text x="359.30" y="155.89" font-size="4.7" fill="#222">2</text>
<line x1="347.90" y1="160.75" x2="349.50" y2="160.75" stroke="#fff" stroke-width="0.4" opacity="0.7"/>
<line x1="355.30" y1="160.75" x2="356.90" y2="160.75" stroke="#fff" stroke-width="0.4" opacity="0.7"/>
<text x="359.30" y="162.84" font-size="4.7" fill="#222">1</text>
<text x="359.30" y="169.79" font-size="4.7" fill="#222">0</text>
<text x="346.80" y="181.60" font-size="5.9" fill="#333" text-anchor="middle">Normalized</text>
<text x="346.80" y="187.80" font-size="5.9" fill="#333" text-anchor="middle">Enrichment Score</text>
<circle cx="326.20" cy="191.70" r="0.75" fill="#000"/>
<text x="333.00" y="193.79" font-size="4.7" fill="#222">0.0</text>
<circle cx="352.10" cy="191.70" r="0.75" fill="#000"/>
<text x="358.90" y="193.79" font-size="4.7" fill="#222">0.0</text>
<circle cx="326.20" cy="200.10" r="2.00" fill="#000"/>
<text x="333.00" y="202.19" font-size="4.7" fill="#222">0.5</text>
<circle cx="352.10" cy="200.10" r="2.00" fill="#000"/>
<text x="358.90" y="202.19" font-size="4.7" fill="#222">0.5</text>
<circle cx="326.20" cy="208.50" r="2.35" fill="#000"/>
<text x="333.00" y="210.59" font-size="4.7" fill="#222">1.0</text>
<circle cx="352.10" cy="208.50" r="2.35" fill="#000"/>
<text x="358.90" y="210.59" font-size="4.7" fill="#222">1.0</text>
<circle cx="326.20" cy="216.90" r="2.75" fill="#000"/>
<text x="333.00" y="218.99" font-size="4.7" fill="#222">1.5</text>
<circle cx="352.10" cy="216.90" r="2.75" fill="#000"/>
<text x="358.90" y="218.99" font-size="4.7" fill="#222">1.5</text>
<circle cx="326.20" cy="225.30" r="3.10" fill="#000"/>
<text x="333.00" y="227.39" font-size="4.7" fill="#222">2.0</text>
<circle cx="352.10" cy="225.30" r="3.10" fill="#000"/>
<text x="358.90" y="227.39" font-size="4.7" fill="#222">2.0</text>
<text x="324.40" y="244.20" font-size="5.9" fill="#333">Gini Coefficient</text>
<defs><linearGradient id="grA" x1="0" y1="0" x2="0" y2="1"><stop offset="0.0000" stop-color="#fdf6cf"/><stop offset="0.0833" stop-color="#fdf0cc"/><stop offset="0.1667" stop-color="#fdebc9"/><stop offset="0.2500" stop-color="#fce6c6"/><stop offset="0.3333" stop-color="#fce0c3"/><stop offset="0.4167" stop-color="#fcdac0"/><stop offset="0.5000" stop-color="#fcd5bd"/><stop offset="0.5833" stop-color="#f3b9a1"/><stop offset="0.6667" stop-color="#e99e86"/><stop offset="0.7500" stop-color="#e0826a"/><stop offset="0.8333" stop-color="#d15f55"/><stop offset="0.9167" stop-color="#c13b40"/><stop offset="1.0000" stop-color="#b2182b"/></linearGradient></defs>
<rect x="325.30" y="248.10" width="9.00" height="42.50" fill="url(#grA)"/>
<text x="336.70" y="250.19" font-size="4.7" fill="#222">1.00</text>
<text x="336.70" y="260.82" font-size="4.7" fill="#222">0.75</text>
<text x="336.70" y="271.44" font-size="4.7" fill="#222">0.50</text>
<text x="336.70" y="282.07" font-size="4.7" fill="#222">0.25</text>
<text x="336.70" y="292.69" font-size="4.7" fill="#222">0.00</text>
<defs><linearGradient id="gcA" x1="0" y1="0" x2="0" y2="1"><stop offset="0.0000" stop-color="#e0ffff"/><stop offset="0.0833" stop-color="#d6f9fd"/><stop offset="0.1667" stop-color="#ccf3fb"/><stop offset="0.2500" stop-color="#c2eef8"/><stop offset="0.3333" stop-color="#b8e8f6"/><stop offset="0.4167" stop-color="#aee2f4"/><stop offset="0.5000" stop-color="#a4dcf2"/><stop offset="0.5833" stop-color="#96d2ee"/><stop offset="0.6667" stop-color="#87c7ea"/><stop offset="0.7500" stop-color="#79bde6"/><stop offset="0.8333" stop-color="#69a3d6"/><stop offset="0.9167" stop-color="#5a89c5"/><stop offset="1.0000" stop-color="#4a6fb5"/></linearGradient></defs>
<rect x="348.10" y="248.10" width="9.00" height="42.50" fill="url(#gcA)"/>
<text x="359.50" y="250.19" font-size="4.7" fill="#222">1.00</text>
<text x="359.50" y="260.82" font-size="4.7" fill="#222">0.75</text>
<text x="359.50" y="271.44" font-size="4.7" fill="#222">0.50</text>
<text x="359.50" y="282.07" font-size="4.7" fill="#222">0.25</text>
<text x="359.50" y="292.69" font-size="4.7" fill="#222">0.00</text>
<text x="324.30" y="557.30" font-size="5.9" fill="#333">-log10(p.adj)</text>
<defs><linearGradient id="goB" x1="0" y1="0" x2="0" y2="1"><stop offset="0.0000" stop-color="#b22222"/><stop offset="0.0833" stop-color="#b92e20"/><stop offset="0.1667" stop-color="#c03a1f"/><stop offset="0.2500" stop-color="#c7461d"/><stop offset="0.3333" stop-color="#ce521b"/><stop offset="0.4167" stop-color="#d55e1a"/><stop offset="0.5000" stop-color="#dc6a18"/><stop offset="0.5833" stop-color="#e27414"/><stop offset="0.6667" stop-color="#e87e10"/><stop offset="0.7500" stop-color="#ee880c"/><stop offset="0.8333" stop-color="#f39108"/><stop offset="0.9167" stop-color="#f99b04"/><stop offset="1.0000" stop-color="#ffa500"/></linearGradient></defs>
<rect x="321.40" y="560.30" width="9.00" height="44.60" fill="url(#goB)"/>
<text x="332.80" y="562.39" font-size="4.7" fill="#222">6</text>
<line x1="321.40" y1="567.73" x2="323.00" y2="567.73" stroke="#fff" stroke-width="0.4" opacity="0.7"/>
<line x1="328.80" y1="567.73" x2="330.40" y2="567.73" stroke="#fff" stroke-width="0.4" opacity="0.7"/>
<text x="332.80" y="569.83" font-size="4.7" fill="#222">5</text>
<line x1="321.40" y1="575.17" x2="323.00" y2="575.17" stroke="#fff" stroke-width="0.4" opacity="0.7"/>
<line x1="328.80" y1="575.17" x2="330.40" y2="575.17" stroke="#fff" stroke-width="0.4" opacity="0.7"/>
<text x="332.80" y="577.26" font-size="4.7" fill="#222">4</text>
<line x1="321.40" y1="582.60" x2="323.00" y2="582.60" stroke="#fff" stroke-width="0.4" opacity="0.7"/>
<line x1="328.80" y1="582.60" x2="330.40" y2="582.60" stroke="#fff" stroke-width="0.4" opacity="0.7"/>
<text x="332.80" y="584.69" font-size="4.7" fill="#222">3</text>
<line x1="321.40" y1="590.03" x2="323.00" y2="590.03" stroke="#fff" stroke-width="0.4" opacity="0.7"/>
<line x1="328.80" y1="590.03" x2="330.40" y2="590.03" stroke="#fff" stroke-width="0.4" opacity="0.7"/>
<text x="332.80" y="592.13" font-size="4.7" fill="#222">2</text>
<line x1="321.40" y1="597.47" x2="323.00" y2="597.47" stroke="#fff" stroke-width="0.4" opacity="0.7"/>
<line x1="328.80" y1="597.47" x2="330.40" y2="597.47" stroke="#fff" stroke-width="0.4" opacity="0.7"/>
<text x="332.80" y="599.56" font-size="4.7" fill="#222">1</text>
<text x="332.80" y="606.99" font-size="4.7" fill="#222">0</text>
<defs><linearGradient id="gbB" x1="0" y1="0" x2="0" y2="1"><stop offset="0.0000" stop-color="#191970"/><stop offset="0.0833" stop-color="#1c2678"/><stop offset="0.1667" stop-color="#1f3280"/><stop offset="0.2500" stop-color="#223e88"/><stop offset="0.3333" stop-color="#244b90"/><stop offset="0.4167" stop-color="#275898"/><stop offset="0.5000" stop-color="#2a64a0"/><stop offset="0.5833" stop-color="#4480b4"/><stop offset="0.6667" stop-color="#5f9cc9"/><stop offset="0.7500" stop-color="#69a8d2"/><stop offset="0.8333" stop-color="#73b5da"/><stop offset="0.9167" stop-color="#7dc2e2"/><stop offset="1.0000" stop-color="#87ceeb"/></linearGradient></defs>
<rect x="345.20" y="560.30" width="9.00" height="44.60" fill="url(#gbB)"/>
<text x="356.60" y="562.39" font-size="4.7" fill="#222">6</text>
<line x1="345.20" y1="567.73" x2="346.80" y2="567.73" stroke="#fff" stroke-width="0.4" opacity="0.7"/>
<line x1="352.60" y1="567.73" x2="354.20" y2="567.73" stroke="#fff" stroke-width="0.4" opacity="0.7"/>
<text x="356.60" y="569.83" font-size="4.7" fill="#222">5</text>
<line x1="345.20" y1="575.17" x2="346.80" y2="575.17" stroke="#fff" stroke-width="0.4" opacity="0.7"/>
<line x1="352.60" y1="575.17" x2="354.20" y2="575.17" stroke="#fff" stroke-width="0.4" opacity="0.7"/>
<text x="356.60" y="577.26" font-size="4.7" fill="#222">4</text>
<line x1="345.20" y1="582.60" x2="346.80" y2="582.60" stroke="#fff" stroke-width="0.4" opacity="0.7"/>
<line x1="352.60" y1="582.60" x2="354.20" y2="582.60" stroke="#fff" stroke-width="0.4" opacity="0.7"/>
<text x="356.60" y="584.69" font-size="4.7" fill="#222">3</text>
<line x1="345.20" y1="590.03" x2="346.80" y2="590.03" stroke="#fff" stroke-width="0.4" opacity="0.7"/>
<line x1="352.60" y1="590.03" x2="354.20" y2="590.03" stroke="#fff" stroke-width="0.4" opacity="0.7"/>
<text x="356.60" y="592.13" font-size="4.7" fill="#222">2</text>
<line x1="345.20" y1="597.47" x2="346.80" y2="597.47" stroke="#fff" stroke-width="0.4" opacity="0.7"/>
<line x1="352.60" y1="597.47" x2="354.20" y2="597.47" stroke="#fff" stroke-width="0.4" opacity="0.7"/>
<text x="356.60" y="599.56" font-size="4.7" fill="#222">1</text>
<text x="356.60" y="606.99" font-size="4.7" fill="#222">0</text>
<text x="344.50" y="617.40" font-size="5.9" fill="#333" text-anchor="middle">Normalized</text>
<text x="344.50" y="623.50" font-size="5.9" fill="#333" text-anchor="middle">Enrichment Score</text>
<circle cx="324.10" cy="628.30" r="0.75" fill="#000"/>
<text x="331.00" y="630.39" font-size="4.7" fill="#222">0.0</text>
<circle cx="349.50" cy="628.30" r="0.75" fill="#000"/>
<text x="356.40" y="630.39" font-size="4.7" fill="#222">0.0</text>
<circle cx="324.10" cy="637.20" r="2.00" fill="#000"/>
<text x="331.00" y="639.29" font-size="4.7" fill="#222">0.5</text>
<circle cx="349.50" cy="637.20" r="2.00" fill="#000"/>
<text x="356.40" y="639.29" font-size="4.7" fill="#222">0.5</text>
<circle cx="324.10" cy="646.10" r="2.35" fill="#000"/>
<text x="331.00" y="648.19" font-size="4.7" fill="#222">1.0</text>
<circle cx="349.50" cy="646.10" r="2.35" fill="#000"/>
<text x="356.40" y="648.19" font-size="4.7" fill="#222">1.0</text>
<circle cx="324.10" cy="655.00" r="2.75" fill="#000"/>
<text x="331.00" y="657.09" font-size="4.7" fill="#222">1.5</text>
<circle cx="349.50" cy="655.00" r="2.75" fill="#000"/>
<text x="356.40" y="657.09" font-size="4.7" fill="#222">1.5</text>
<circle cx="324.10" cy="663.90" r="3.10" fill="#000"/>
<text x="331.00" y="665.99" font-size="4.7" fill="#222">2.0</text>
<circle cx="349.50" cy="663.90" r="3.10" fill="#000"/>
<text x="356.40" y="665.99" font-size="4.7" fill="#222">2.0</text>
<text x="321.00" y="683.90" font-size="5.9" fill="#333">Gini Coefficient</text>
<defs><linearGradient id="grB" x1="0" y1="0" x2="0" y2="1"><stop offset="0.0000" stop-color="#fdf6cf"/><stop offset="0.0833" stop-color="#fdf0cc"/><stop offset="0.1667" stop-color="#fdebc9"/><stop offset="0.2500" stop-color="#fce6c6"/><stop offset="0.3333" stop-color="#fce0c3"/><stop offset="0.4167" stop-color="#fcdac0"/><stop offset="0.5000" stop-color="#fcd5bd"/><stop offset="0.5833" stop-color="#f3b9a1"/><stop offset="0.6667" stop-color="#e99e86"/><stop offset="0.7500" stop-color="#e0826a"/><stop offset="0.8333" stop-color="#d15f55"/><stop offset="0.9167" stop-color="#c13b40"/><stop offset="1.0000" stop-color="#b2182b"/></linearGradient></defs>
<rect x="320.30" y="688.20" width="9.00" height="44.40" fill="url(#grB)"/>
<text x="331.70" y="690.29" font-size="4.7" fill="#222">1.00</text>
<text x="331.70" y="701.39" font-size="4.7" fill="#222">0.75</text>
<text x="331.70" y="712.49" font-size="4.7" fill="#222">0.50</text>
<text x="331.70" y="723.59" font-size="4.7" fill="#222">0.25</text>
<text x="331.70" y="734.69" font-size="4.7" fill="#222">0.00</text>
<defs><linearGradient id="gcB" x1="0" y1="0" x2="0" y2="1"><stop offset="0.0000" stop-color="#e0ffff"/><stop offset="0.0833" stop-color="#d6f9fd"/><stop offset="0.1667" stop-color="#ccf3fb"/><stop offset="0.2500" stop-color="#c2eef8"/><stop offset="0.3333" stop-color="#b8e8f6"/><stop offset="0.4167" stop-color="#aee2f4"/><stop offset="0.5000" stop-color="#a4dcf2"/><stop offset="0.5833" stop-color="#96d2ee"/><stop offset="0.6667" stop-color="#87c7ea"/><stop offset="0.7500" stop-color="#79bde6"/><stop offset="0.8333" stop-color="#69a3d6"/><stop offset="0.9167" stop-color="#5a89c5"/><stop offset="1.0000" stop-color="#4a6fb5"/></linearGradient></defs>
<rect x="345.00" y="688.20" width="9.00" height="44.40" fill="url(#gcB)"/>
<text x="356.40" y="690.29" font-size="4.7" fill="#222">1.00</text>
<text x="356.40" y="701.39" font-size="4.7" fill="#222">0.75</text>
<text x="356.40" y="712.49" font-size="4.7" fill="#222">0.50</text>
<text x="356.40" y="723.59" font-size="4.7" fill="#222">0.25</text>
<text x="356.40" y="734.69" font-size="4.7" fill="#222">0.00</text>
<text x="47.0" y="13.8" font-size="19.5" fill="#000" textLength="20" lengthAdjust="spacingAndGlyphs">A.</text>
<text x="50.8" y="447.0" font-size="19.5" fill="#000" font-family="'Liberation Sans', sans-serif">B.</text>
</g>
</svg>
</body></html>
